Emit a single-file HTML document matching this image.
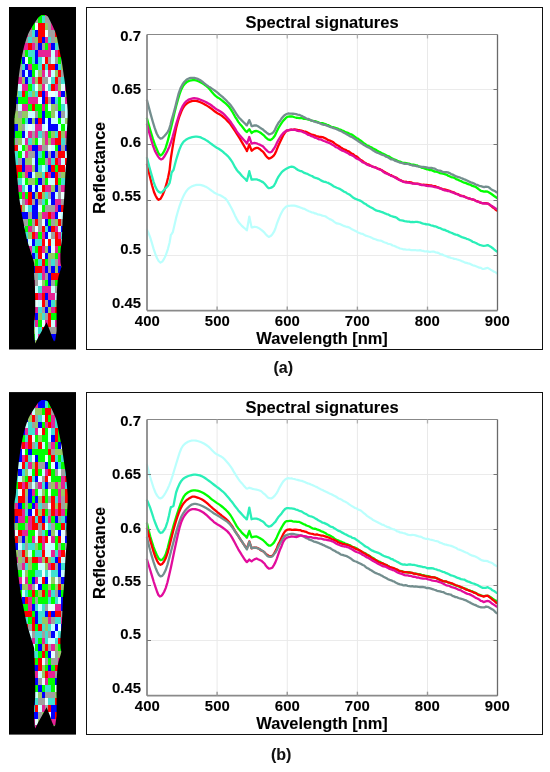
<!DOCTYPE html>
<html><head><meta charset="utf-8"><style>
html,body{margin:0;padding:0;background:#fff;width:550px;height:772px;overflow:hidden}
svg{display:block}
text{font-family:"Liberation Sans",Arial,sans-serif;font-weight:bold;fill:#000;stroke:#000;stroke-width:0.1px}
.tk{font-size:14.9px}
.ax{font-size:16.4px}
.ti{font-size:16.5px}
.lb{font-size:16px;fill:#111}
</style></head><body>
<svg width="550" height="772" viewBox="0 0 550 772">
<rect width="550" height="772" fill="#fff"/>
<rect x="9" y="7.0" width="67" height="342.5" fill="#000"/><clipPath id="fc1"><path d="M41.50 15.00 C41.17 15.25 40.15 15.92 39.50 16.50 C38.85 17.08 38.42 17.42 37.60 18.50 C36.78 19.58 35.73 21.25 34.60 23.00 C33.47 24.75 32.00 26.85 30.80 29.00 C29.60 31.15 28.62 32.58 27.40 35.90 C26.18 39.22 24.57 44.58 23.50 48.90 C22.43 53.22 21.75 57.48 21.00 61.80 C20.25 66.12 19.55 70.48 19.00 74.80 C18.45 79.12 18.13 83.38 17.70 87.70 C17.27 92.02 16.72 97.03 16.40 100.70 C16.08 104.37 16.12 106.82 15.80 109.70 C15.48 112.58 14.72 114.47 14.50 118.00 C14.28 121.53 14.50 126.58 14.50 130.90 C14.50 135.22 14.40 139.58 14.50 143.90 C14.60 148.22 14.78 152.48 15.10 156.80 C15.42 161.12 15.97 165.48 16.40 169.80 C16.83 174.12 17.27 178.38 17.70 182.70 C18.13 187.02 18.57 192.03 19.00 195.70 C19.43 199.37 19.87 201.82 20.30 204.70 C20.73 207.58 20.95 209.47 21.60 213.00 C22.25 216.53 23.33 221.58 24.20 225.90 C25.07 230.22 25.72 234.58 26.80 238.90 C27.88 243.22 29.52 247.92 30.70 251.80 C31.88 255.68 33.32 259.53 33.90 262.20 C34.48 264.87 34.08 264.93 34.20 267.80 C34.32 270.67 34.43 274.22 34.60 279.40 C34.77 284.58 35.10 293.50 35.20 298.90 C35.30 304.30 35.20 309.65 35.20 311.80 L34.20 322.00 L34.00 331.00 L34.60 340.00 L35.20 343.50 L38.40 337.00 L41.70 331.20 L46.60 322.20 L50.10 331.20 L52.00 337.00 L54.00 341.50 L55.30 340.00 L56.60 331.00 L56.60 322.00 L56.60 311.80  C56.60 309.65 56.38 304.30 56.60 298.90 C56.82 293.50 57.15 284.58 57.90 279.40 C58.65 274.22 60.67 270.67 61.10 267.80 C61.53 264.93 60.60 264.87 60.50 262.20 C60.40 259.53 60.28 255.68 60.50 251.80 C60.72 247.92 61.48 243.22 61.80 238.90 C62.12 234.58 62.20 230.22 62.40 225.90 C62.60 221.58 62.78 216.53 63.00 213.00 C63.22 209.47 63.48 207.58 63.70 204.70 C63.92 201.82 64.08 199.37 64.30 195.70 C64.52 192.03 64.78 187.02 65.00 182.70 C65.22 178.38 65.28 174.12 65.60 169.80 C65.92 165.48 66.78 161.12 66.90 156.80 C67.02 152.48 66.30 148.22 66.30 143.90 C66.30 139.58 66.68 135.22 66.90 130.90 C67.12 126.58 67.48 121.53 67.60 118.00 C67.72 114.47 67.72 112.58 67.60 109.70 C67.48 106.82 67.23 104.37 66.90 100.70 C66.57 97.03 66.13 92.02 65.60 87.70 C65.07 83.38 64.33 79.12 63.70 74.80 C63.07 70.48 62.55 66.12 61.80 61.80 C61.05 57.48 60.07 53.22 59.20 48.90 C58.33 44.58 57.47 39.22 56.60 35.90 C55.73 32.58 54.90 31.15 54.00 29.00 C53.10 26.85 52.03 24.75 51.20 23.00 C50.37 21.25 49.57 19.58 49.00 18.50 C48.43 17.42 48.30 17.08 47.80 16.50 C47.30 15.92 46.30 15.25 46.00 15.00 Z"/></clipPath><g clip-path="url(#fc1)" shape-rendering="crispEdges"><rect x="11.80" y="9.55" width="3.35" height="6.80" fill="#40e0d0"/><rect x="15.10" y="9.55" width="3.35" height="6.80" fill="#e62396"/><rect x="18.40" y="9.55" width="3.35" height="6.80" fill="#ff0000"/><rect x="21.70" y="9.55" width="3.35" height="6.80" fill="#c8ffff"/><rect x="25.00" y="9.55" width="3.35" height="6.80" fill="#a0a0a0"/><rect x="28.30" y="9.55" width="3.35" height="6.80" fill="#a0a0a0"/><rect x="31.60" y="9.55" width="3.35" height="6.80" fill="#0000ff"/><rect x="34.90" y="9.55" width="3.35" height="6.80" fill="#e62396"/><rect x="38.20" y="9.55" width="3.35" height="6.80" fill="#00ff00"/><rect x="41.50" y="9.55" width="3.35" height="6.80" fill="#00ff00"/><rect x="44.80" y="9.55" width="3.35" height="6.80" fill="#e62396"/><rect x="48.10" y="9.55" width="3.35" height="6.80" fill="#a0a0a0"/><rect x="51.40" y="9.55" width="3.35" height="6.80" fill="#ff0000"/><rect x="54.70" y="9.55" width="3.35" height="6.80" fill="#00ff00"/><rect x="58.00" y="9.55" width="3.35" height="6.80" fill="#a0a0a0"/><rect x="61.30" y="9.55" width="3.35" height="6.80" fill="#ff0000"/><rect x="64.60" y="9.55" width="3.35" height="6.80" fill="#40e0d0"/><rect x="67.90" y="9.55" width="3.35" height="6.80" fill="#96c864"/><rect x="11.80" y="16.30" width="3.35" height="6.80" fill="#96c864"/><rect x="15.10" y="16.30" width="3.35" height="6.80" fill="#00ff00"/><rect x="18.40" y="16.30" width="3.35" height="6.80" fill="#00ff00"/><rect x="21.70" y="16.30" width="3.35" height="6.80" fill="#0000ff"/><rect x="25.00" y="16.30" width="3.35" height="6.80" fill="#96c864"/><rect x="28.30" y="16.30" width="3.35" height="6.80" fill="#a0a0a0"/><rect x="31.60" y="16.30" width="3.35" height="6.80" fill="#40e0d0"/><rect x="34.90" y="16.30" width="3.35" height="6.80" fill="#a0a0a0"/><rect x="38.20" y="16.30" width="3.35" height="6.80" fill="#00ff00"/><rect x="41.50" y="16.30" width="3.35" height="6.80" fill="#40e0d0"/><rect x="44.80" y="16.30" width="3.35" height="6.80" fill="#a0a0a0"/><rect x="48.10" y="16.30" width="3.35" height="6.80" fill="#a0a0a0"/><rect x="51.40" y="16.30" width="3.35" height="6.80" fill="#40e0d0"/><rect x="54.70" y="16.30" width="3.35" height="6.80" fill="#40e0d0"/><rect x="58.00" y="16.30" width="3.35" height="6.80" fill="#40e0d0"/><rect x="61.30" y="16.30" width="3.35" height="6.80" fill="#a0a0a0"/><rect x="64.60" y="16.30" width="3.35" height="6.80" fill="#c8ffff"/><rect x="67.90" y="16.30" width="3.35" height="6.80" fill="#00ff00"/><rect x="11.80" y="23.05" width="3.35" height="6.80" fill="#e62396"/><rect x="15.10" y="23.05" width="3.35" height="6.80" fill="#0000ff"/><rect x="18.40" y="23.05" width="3.35" height="6.80" fill="#0000ff"/><rect x="21.70" y="23.05" width="3.35" height="6.80" fill="#40e0d0"/><rect x="25.00" y="23.05" width="3.35" height="6.80" fill="#96c864"/><rect x="28.30" y="23.05" width="3.35" height="6.80" fill="#e62396"/><rect x="31.60" y="23.05" width="3.35" height="6.80" fill="#00ff00"/><rect x="34.90" y="23.05" width="3.35" height="6.80" fill="#e8ffff"/><rect x="38.20" y="23.05" width="3.35" height="6.80" fill="#ff0000"/><rect x="41.50" y="23.05" width="3.35" height="6.80" fill="#ff0000"/><rect x="44.80" y="23.05" width="3.35" height="6.80" fill="#96c864"/><rect x="48.10" y="23.05" width="3.35" height="6.80" fill="#a0a0a0"/><rect x="51.40" y="23.05" width="3.35" height="6.80" fill="#e62396"/><rect x="54.70" y="23.05" width="3.35" height="6.80" fill="#ff0000"/><rect x="58.00" y="23.05" width="3.35" height="6.80" fill="#c8ffff"/><rect x="61.30" y="23.05" width="3.35" height="6.80" fill="#0000ff"/><rect x="64.60" y="23.05" width="3.35" height="6.80" fill="#e62396"/><rect x="67.90" y="23.05" width="3.35" height="6.80" fill="#e62396"/><rect x="11.80" y="29.80" width="3.35" height="6.80" fill="#a0a0a0"/><rect x="15.10" y="29.80" width="3.35" height="6.80" fill="#0000ff"/><rect x="18.40" y="29.80" width="3.35" height="6.80" fill="#00ff00"/><rect x="21.70" y="29.80" width="3.35" height="6.80" fill="#c8ffff"/><rect x="25.00" y="29.80" width="3.35" height="6.80" fill="#e62396"/><rect x="28.30" y="29.80" width="3.35" height="6.80" fill="#a0a0a0"/><rect x="31.60" y="29.80" width="3.35" height="6.80" fill="#40e0d0"/><rect x="34.90" y="29.80" width="3.35" height="6.80" fill="#0000ff"/><rect x="38.20" y="29.80" width="3.35" height="6.80" fill="#ff0000"/><rect x="41.50" y="29.80" width="3.35" height="6.80" fill="#ff0000"/><rect x="44.80" y="29.80" width="3.35" height="6.80" fill="#e8ffff"/><rect x="48.10" y="29.80" width="3.35" height="6.80" fill="#a0a0a0"/><rect x="51.40" y="29.80" width="3.35" height="6.80" fill="#a0a0a0"/><rect x="54.70" y="29.80" width="3.35" height="6.80" fill="#ff0000"/><rect x="58.00" y="29.80" width="3.35" height="6.80" fill="#a0a0a0"/><rect x="61.30" y="29.80" width="3.35" height="6.80" fill="#a0a0a0"/><rect x="64.60" y="29.80" width="3.35" height="6.80" fill="#a0a0a0"/><rect x="67.90" y="29.80" width="3.35" height="6.80" fill="#00ff00"/><rect x="11.80" y="36.55" width="3.35" height="6.80" fill="#00ff00"/><rect x="15.10" y="36.55" width="3.35" height="6.80" fill="#ff0000"/><rect x="18.40" y="36.55" width="3.35" height="6.80" fill="#96c864"/><rect x="21.70" y="36.55" width="3.35" height="6.80" fill="#0000ff"/><rect x="25.00" y="36.55" width="3.35" height="6.80" fill="#a0a0a0"/><rect x="28.30" y="36.55" width="3.35" height="6.80" fill="#40e0d0"/><rect x="31.60" y="36.55" width="3.35" height="6.80" fill="#a0a0a0"/><rect x="34.90" y="36.55" width="3.35" height="6.80" fill="#96c864"/><rect x="38.20" y="36.55" width="3.35" height="6.80" fill="#ff0000"/><rect x="41.50" y="36.55" width="3.35" height="6.80" fill="#0000ff"/><rect x="44.80" y="36.55" width="3.35" height="6.80" fill="#e62396"/><rect x="48.10" y="36.55" width="3.35" height="6.80" fill="#40e0d0"/><rect x="51.40" y="36.55" width="3.35" height="6.80" fill="#a0a0a0"/><rect x="54.70" y="36.55" width="3.35" height="6.80" fill="#96c864"/><rect x="58.00" y="36.55" width="3.35" height="6.80" fill="#0000ff"/><rect x="61.30" y="36.55" width="3.35" height="6.80" fill="#a0a0a0"/><rect x="64.60" y="36.55" width="3.35" height="6.80" fill="#c8ffff"/><rect x="67.90" y="36.55" width="3.35" height="6.80" fill="#0000ff"/><rect x="11.80" y="43.30" width="3.35" height="6.80" fill="#96c864"/><rect x="15.10" y="43.30" width="3.35" height="6.80" fill="#00ff00"/><rect x="18.40" y="43.30" width="3.35" height="6.80" fill="#e62396"/><rect x="21.70" y="43.30" width="3.35" height="6.80" fill="#e62396"/><rect x="25.00" y="43.30" width="3.35" height="6.80" fill="#e62396"/><rect x="28.30" y="43.30" width="3.35" height="6.80" fill="#ff0000"/><rect x="31.60" y="43.30" width="3.35" height="6.80" fill="#e62396"/><rect x="34.90" y="43.30" width="3.35" height="6.80" fill="#a0a0a0"/><rect x="38.20" y="43.30" width="3.35" height="6.80" fill="#0000ff"/><rect x="41.50" y="43.30" width="3.35" height="6.80" fill="#a0a0a0"/><rect x="44.80" y="43.30" width="3.35" height="6.80" fill="#00ff00"/><rect x="48.10" y="43.30" width="3.35" height="6.80" fill="#e62396"/><rect x="51.40" y="43.30" width="3.35" height="6.80" fill="#0000ff"/><rect x="54.70" y="43.30" width="3.35" height="6.80" fill="#40e0d0"/><rect x="58.00" y="43.30" width="3.35" height="6.80" fill="#a0a0a0"/><rect x="61.30" y="43.30" width="3.35" height="6.80" fill="#a0a0a0"/><rect x="64.60" y="43.30" width="3.35" height="6.80" fill="#e8ffff"/><rect x="67.90" y="43.30" width="3.35" height="6.80" fill="#e8ffff"/><rect x="11.80" y="50.05" width="3.35" height="6.80" fill="#0000ff"/><rect x="15.10" y="50.05" width="3.35" height="6.80" fill="#0000ff"/><rect x="18.40" y="50.05" width="3.35" height="6.80" fill="#0000ff"/><rect x="21.70" y="50.05" width="3.35" height="6.80" fill="#a0a0a0"/><rect x="25.00" y="50.05" width="3.35" height="6.80" fill="#00ff00"/><rect x="28.30" y="50.05" width="3.35" height="6.80" fill="#40e0d0"/><rect x="31.60" y="50.05" width="3.35" height="6.80" fill="#40e0d0"/><rect x="34.90" y="50.05" width="3.35" height="6.80" fill="#0000ff"/><rect x="38.20" y="50.05" width="3.35" height="6.80" fill="#e62396"/><rect x="41.50" y="50.05" width="3.35" height="6.80" fill="#e62396"/><rect x="44.80" y="50.05" width="3.35" height="6.80" fill="#e62396"/><rect x="48.10" y="50.05" width="3.35" height="6.80" fill="#e62396"/><rect x="51.40" y="50.05" width="3.35" height="6.80" fill="#c8ffff"/><rect x="54.70" y="50.05" width="3.35" height="6.80" fill="#e62396"/><rect x="58.00" y="50.05" width="3.35" height="6.80" fill="#ff0000"/><rect x="61.30" y="50.05" width="3.35" height="6.80" fill="#00ff00"/><rect x="64.60" y="50.05" width="3.35" height="6.80" fill="#00ff00"/><rect x="67.90" y="50.05" width="3.35" height="6.80" fill="#00ff00"/><rect x="11.80" y="56.80" width="3.35" height="6.80" fill="#ff0000"/><rect x="15.10" y="56.80" width="3.35" height="6.80" fill="#c8ffff"/><rect x="18.40" y="56.80" width="3.35" height="6.80" fill="#00ff00"/><rect x="21.70" y="56.80" width="3.35" height="6.80" fill="#0000ff"/><rect x="25.00" y="56.80" width="3.35" height="6.80" fill="#e8ffff"/><rect x="28.30" y="56.80" width="3.35" height="6.80" fill="#00ff00"/><rect x="31.60" y="56.80" width="3.35" height="6.80" fill="#40e0d0"/><rect x="34.90" y="56.80" width="3.35" height="6.80" fill="#0000ff"/><rect x="38.20" y="56.80" width="3.35" height="6.80" fill="#40e0d0"/><rect x="41.50" y="56.80" width="3.35" height="6.80" fill="#c8ffff"/><rect x="44.80" y="56.80" width="3.35" height="6.80" fill="#ff0000"/><rect x="48.10" y="56.80" width="3.35" height="6.80" fill="#a0a0a0"/><rect x="51.40" y="56.80" width="3.35" height="6.80" fill="#c8ffff"/><rect x="54.70" y="56.80" width="3.35" height="6.80" fill="#a0a0a0"/><rect x="58.00" y="56.80" width="3.35" height="6.80" fill="#00ff00"/><rect x="61.30" y="56.80" width="3.35" height="6.80" fill="#a0a0a0"/><rect x="64.60" y="56.80" width="3.35" height="6.80" fill="#a0a0a0"/><rect x="67.90" y="56.80" width="3.35" height="6.80" fill="#40e0d0"/><rect x="11.80" y="63.55" width="3.35" height="6.80" fill="#00ff00"/><rect x="15.10" y="63.55" width="3.35" height="6.80" fill="#e62396"/><rect x="18.40" y="63.55" width="3.35" height="6.80" fill="#a0a0a0"/><rect x="21.70" y="63.55" width="3.35" height="6.80" fill="#40e0d0"/><rect x="25.00" y="63.55" width="3.35" height="6.80" fill="#0000ff"/><rect x="28.30" y="63.55" width="3.35" height="6.80" fill="#e62396"/><rect x="31.60" y="63.55" width="3.35" height="6.80" fill="#00ff00"/><rect x="34.90" y="63.55" width="3.35" height="6.80" fill="#00ff00"/><rect x="38.20" y="63.55" width="3.35" height="6.80" fill="#40e0d0"/><rect x="41.50" y="63.55" width="3.35" height="6.80" fill="#ff0000"/><rect x="44.80" y="63.55" width="3.35" height="6.80" fill="#40e0d0"/><rect x="48.10" y="63.55" width="3.35" height="6.80" fill="#ff0000"/><rect x="51.40" y="63.55" width="3.35" height="6.80" fill="#ff0000"/><rect x="54.70" y="63.55" width="3.35" height="6.80" fill="#0000ff"/><rect x="58.00" y="63.55" width="3.35" height="6.80" fill="#40e0d0"/><rect x="61.30" y="63.55" width="3.35" height="6.80" fill="#96c864"/><rect x="64.60" y="63.55" width="3.35" height="6.80" fill="#e62396"/><rect x="67.90" y="63.55" width="3.35" height="6.80" fill="#a0a0a0"/><rect x="11.80" y="70.30" width="3.35" height="6.80" fill="#40e0d0"/><rect x="15.10" y="70.30" width="3.35" height="6.80" fill="#0000ff"/><rect x="18.40" y="70.30" width="3.35" height="6.80" fill="#a0a0a0"/><rect x="21.70" y="70.30" width="3.35" height="6.80" fill="#0000ff"/><rect x="25.00" y="70.30" width="3.35" height="6.80" fill="#c8ffff"/><rect x="28.30" y="70.30" width="3.35" height="6.80" fill="#0000ff"/><rect x="31.60" y="70.30" width="3.35" height="6.80" fill="#00ff00"/><rect x="34.90" y="70.30" width="3.35" height="6.80" fill="#c8ffff"/><rect x="38.20" y="70.30" width="3.35" height="6.80" fill="#96c864"/><rect x="41.50" y="70.30" width="3.35" height="6.80" fill="#e62396"/><rect x="44.80" y="70.30" width="3.35" height="6.80" fill="#c8ffff"/><rect x="48.10" y="70.30" width="3.35" height="6.80" fill="#e62396"/><rect x="51.40" y="70.30" width="3.35" height="6.80" fill="#c8ffff"/><rect x="54.70" y="70.30" width="3.35" height="6.80" fill="#96c864"/><rect x="58.00" y="70.30" width="3.35" height="6.80" fill="#ff0000"/><rect x="61.30" y="70.30" width="3.35" height="6.80" fill="#a0a0a0"/><rect x="64.60" y="70.30" width="3.35" height="6.80" fill="#c8ffff"/><rect x="67.90" y="70.30" width="3.35" height="6.80" fill="#00ff00"/><rect x="11.80" y="77.05" width="3.35" height="6.80" fill="#e62396"/><rect x="15.10" y="77.05" width="3.35" height="6.80" fill="#00ff00"/><rect x="18.40" y="77.05" width="3.35" height="6.80" fill="#e62396"/><rect x="21.70" y="77.05" width="3.35" height="6.80" fill="#96c864"/><rect x="25.00" y="77.05" width="3.35" height="6.80" fill="#0000ff"/><rect x="28.30" y="77.05" width="3.35" height="6.80" fill="#40e0d0"/><rect x="31.60" y="77.05" width="3.35" height="6.80" fill="#e62396"/><rect x="34.90" y="77.05" width="3.35" height="6.80" fill="#96c864"/><rect x="38.20" y="77.05" width="3.35" height="6.80" fill="#ff0000"/><rect x="41.50" y="77.05" width="3.35" height="6.80" fill="#a0a0a0"/><rect x="44.80" y="77.05" width="3.35" height="6.80" fill="#a0a0a0"/><rect x="48.10" y="77.05" width="3.35" height="6.80" fill="#e8ffff"/><rect x="51.40" y="77.05" width="3.35" height="6.80" fill="#40e0d0"/><rect x="54.70" y="77.05" width="3.35" height="6.80" fill="#ff0000"/><rect x="58.00" y="77.05" width="3.35" height="6.80" fill="#a0a0a0"/><rect x="61.30" y="77.05" width="3.35" height="6.80" fill="#40e0d0"/><rect x="64.60" y="77.05" width="3.35" height="6.80" fill="#00ff00"/><rect x="67.90" y="77.05" width="3.35" height="6.80" fill="#ff0000"/><rect x="11.80" y="83.80" width="3.35" height="6.80" fill="#c8ffff"/><rect x="15.10" y="83.80" width="3.35" height="6.80" fill="#a0a0a0"/><rect x="18.40" y="83.80" width="3.35" height="6.80" fill="#c8ffff"/><rect x="21.70" y="83.80" width="3.35" height="6.80" fill="#e62396"/><rect x="25.00" y="83.80" width="3.35" height="6.80" fill="#e62396"/><rect x="28.30" y="83.80" width="3.35" height="6.80" fill="#00ff00"/><rect x="31.60" y="83.80" width="3.35" height="6.80" fill="#40e0d0"/><rect x="34.90" y="83.80" width="3.35" height="6.80" fill="#e8ffff"/><rect x="38.20" y="83.80" width="3.35" height="6.80" fill="#96c864"/><rect x="41.50" y="83.80" width="3.35" height="6.80" fill="#e62396"/><rect x="44.80" y="83.80" width="3.35" height="6.80" fill="#e8ffff"/><rect x="48.10" y="83.80" width="3.35" height="6.80" fill="#40e0d0"/><rect x="51.40" y="83.80" width="3.35" height="6.80" fill="#ff0000"/><rect x="54.70" y="83.80" width="3.35" height="6.80" fill="#e62396"/><rect x="58.00" y="83.80" width="3.35" height="6.80" fill="#96c864"/><rect x="61.30" y="83.80" width="3.35" height="6.80" fill="#e8ffff"/><rect x="64.60" y="83.80" width="3.35" height="6.80" fill="#e62396"/><rect x="67.90" y="83.80" width="3.35" height="6.80" fill="#ff0000"/><rect x="11.80" y="90.55" width="3.35" height="6.80" fill="#a0a0a0"/><rect x="15.10" y="90.55" width="3.35" height="6.80" fill="#96c864"/><rect x="18.40" y="90.55" width="3.35" height="6.80" fill="#40e0d0"/><rect x="21.70" y="90.55" width="3.35" height="6.80" fill="#ff0000"/><rect x="25.00" y="90.55" width="3.35" height="6.80" fill="#00ff00"/><rect x="28.30" y="90.55" width="3.35" height="6.80" fill="#40e0d0"/><rect x="31.60" y="90.55" width="3.35" height="6.80" fill="#96c864"/><rect x="34.90" y="90.55" width="3.35" height="6.80" fill="#40e0d0"/><rect x="38.20" y="90.55" width="3.35" height="6.80" fill="#ff0000"/><rect x="41.50" y="90.55" width="3.35" height="6.80" fill="#0000ff"/><rect x="44.80" y="90.55" width="3.35" height="6.80" fill="#e62396"/><rect x="48.10" y="90.55" width="3.35" height="6.80" fill="#e8ffff"/><rect x="51.40" y="90.55" width="3.35" height="6.80" fill="#e8ffff"/><rect x="54.70" y="90.55" width="3.35" height="6.80" fill="#c8ffff"/><rect x="58.00" y="90.55" width="3.35" height="6.80" fill="#e62396"/><rect x="61.30" y="90.55" width="3.35" height="6.80" fill="#0000ff"/><rect x="64.60" y="90.55" width="3.35" height="6.80" fill="#96c864"/><rect x="67.90" y="90.55" width="3.35" height="6.80" fill="#e62396"/><rect x="11.80" y="97.30" width="3.35" height="6.80" fill="#40e0d0"/><rect x="15.10" y="97.30" width="3.35" height="6.80" fill="#0000ff"/><rect x="18.40" y="97.30" width="3.35" height="6.80" fill="#00ff00"/><rect x="21.70" y="97.30" width="3.35" height="6.80" fill="#00ff00"/><rect x="25.00" y="97.30" width="3.35" height="6.80" fill="#00ff00"/><rect x="28.30" y="97.30" width="3.35" height="6.80" fill="#e62396"/><rect x="31.60" y="97.30" width="3.35" height="6.80" fill="#e62396"/><rect x="34.90" y="97.30" width="3.35" height="6.80" fill="#e62396"/><rect x="38.20" y="97.30" width="3.35" height="6.80" fill="#e8ffff"/><rect x="41.50" y="97.30" width="3.35" height="6.80" fill="#0000ff"/><rect x="44.80" y="97.30" width="3.35" height="6.80" fill="#ff0000"/><rect x="48.10" y="97.30" width="3.35" height="6.80" fill="#a0a0a0"/><rect x="51.40" y="97.30" width="3.35" height="6.80" fill="#0000ff"/><rect x="54.70" y="97.30" width="3.35" height="6.80" fill="#40e0d0"/><rect x="58.00" y="97.30" width="3.35" height="6.80" fill="#00ff00"/><rect x="61.30" y="97.30" width="3.35" height="6.80" fill="#c8ffff"/><rect x="64.60" y="97.30" width="3.35" height="6.80" fill="#e62396"/><rect x="67.90" y="97.30" width="3.35" height="6.80" fill="#0000ff"/><rect x="11.80" y="104.05" width="3.35" height="6.80" fill="#96c864"/><rect x="15.10" y="104.05" width="3.35" height="6.80" fill="#a0a0a0"/><rect x="18.40" y="104.05" width="3.35" height="6.80" fill="#c8ffff"/><rect x="21.70" y="104.05" width="3.35" height="6.80" fill="#e62396"/><rect x="25.00" y="104.05" width="3.35" height="6.80" fill="#e62396"/><rect x="28.30" y="104.05" width="3.35" height="6.80" fill="#00ff00"/><rect x="31.60" y="104.05" width="3.35" height="6.80" fill="#ff0000"/><rect x="34.90" y="104.05" width="3.35" height="6.80" fill="#00ff00"/><rect x="38.20" y="104.05" width="3.35" height="6.80" fill="#00ff00"/><rect x="41.50" y="104.05" width="3.35" height="6.80" fill="#e62396"/><rect x="44.80" y="104.05" width="3.35" height="6.80" fill="#00ff00"/><rect x="48.10" y="104.05" width="3.35" height="6.80" fill="#c8ffff"/><rect x="51.40" y="104.05" width="3.35" height="6.80" fill="#96c864"/><rect x="54.70" y="104.05" width="3.35" height="6.80" fill="#a0a0a0"/><rect x="58.00" y="104.05" width="3.35" height="6.80" fill="#00ff00"/><rect x="61.30" y="104.05" width="3.35" height="6.80" fill="#40e0d0"/><rect x="64.60" y="104.05" width="3.35" height="6.80" fill="#c8ffff"/><rect x="67.90" y="104.05" width="3.35" height="6.80" fill="#ff0000"/><rect x="11.80" y="110.80" width="3.35" height="6.80" fill="#00ff00"/><rect x="15.10" y="110.80" width="3.35" height="6.80" fill="#96c864"/><rect x="18.40" y="110.80" width="3.35" height="6.80" fill="#a0a0a0"/><rect x="21.70" y="110.80" width="3.35" height="6.80" fill="#96c864"/><rect x="25.00" y="110.80" width="3.35" height="6.80" fill="#96c864"/><rect x="28.30" y="110.80" width="3.35" height="6.80" fill="#c8ffff"/><rect x="31.60" y="110.80" width="3.35" height="6.80" fill="#c8ffff"/><rect x="34.90" y="110.80" width="3.35" height="6.80" fill="#a0a0a0"/><rect x="38.20" y="110.80" width="3.35" height="6.80" fill="#00ff00"/><rect x="41.50" y="110.80" width="3.35" height="6.80" fill="#0000ff"/><rect x="44.80" y="110.80" width="3.35" height="6.80" fill="#00ff00"/><rect x="48.10" y="110.80" width="3.35" height="6.80" fill="#00ff00"/><rect x="51.40" y="110.80" width="3.35" height="6.80" fill="#96c864"/><rect x="54.70" y="110.80" width="3.35" height="6.80" fill="#c8ffff"/><rect x="58.00" y="110.80" width="3.35" height="6.80" fill="#0000ff"/><rect x="61.30" y="110.80" width="3.35" height="6.80" fill="#a0a0a0"/><rect x="64.60" y="110.80" width="3.35" height="6.80" fill="#c8ffff"/><rect x="67.90" y="110.80" width="3.35" height="6.80" fill="#00ff00"/><rect x="11.80" y="117.55" width="3.35" height="6.80" fill="#96c864"/><rect x="15.10" y="117.55" width="3.35" height="6.80" fill="#96c864"/><rect x="18.40" y="117.55" width="3.35" height="6.80" fill="#96c864"/><rect x="21.70" y="117.55" width="3.35" height="6.80" fill="#00ff00"/><rect x="25.00" y="117.55" width="3.35" height="6.80" fill="#40e0d0"/><rect x="28.30" y="117.55" width="3.35" height="6.80" fill="#0000ff"/><rect x="31.60" y="117.55" width="3.35" height="6.80" fill="#96c864"/><rect x="34.90" y="117.55" width="3.35" height="6.80" fill="#0000ff"/><rect x="38.20" y="117.55" width="3.35" height="6.80" fill="#ff0000"/><rect x="41.50" y="117.55" width="3.35" height="6.80" fill="#0000ff"/><rect x="44.80" y="117.55" width="3.35" height="6.80" fill="#c8ffff"/><rect x="48.10" y="117.55" width="3.35" height="6.80" fill="#0000ff"/><rect x="51.40" y="117.55" width="3.35" height="6.80" fill="#c8ffff"/><rect x="54.70" y="117.55" width="3.35" height="6.80" fill="#c8ffff"/><rect x="58.00" y="117.55" width="3.35" height="6.80" fill="#00ff00"/><rect x="61.30" y="117.55" width="3.35" height="6.80" fill="#c8ffff"/><rect x="64.60" y="117.55" width="3.35" height="6.80" fill="#96c864"/><rect x="67.90" y="117.55" width="3.35" height="6.80" fill="#a0a0a0"/><rect x="11.80" y="124.30" width="3.35" height="6.80" fill="#0000ff"/><rect x="15.10" y="124.30" width="3.35" height="6.80" fill="#0000ff"/><rect x="18.40" y="124.30" width="3.35" height="6.80" fill="#96c864"/><rect x="21.70" y="124.30" width="3.35" height="6.80" fill="#a0a0a0"/><rect x="25.00" y="124.30" width="3.35" height="6.80" fill="#c8ffff"/><rect x="28.30" y="124.30" width="3.35" height="6.80" fill="#e8ffff"/><rect x="31.60" y="124.30" width="3.35" height="6.80" fill="#c8ffff"/><rect x="34.90" y="124.30" width="3.35" height="6.80" fill="#e62396"/><rect x="38.20" y="124.30" width="3.35" height="6.80" fill="#e62396"/><rect x="41.50" y="124.30" width="3.35" height="6.80" fill="#c8ffff"/><rect x="44.80" y="124.30" width="3.35" height="6.80" fill="#e8ffff"/><rect x="48.10" y="124.30" width="3.35" height="6.80" fill="#0000ff"/><rect x="51.40" y="124.30" width="3.35" height="6.80" fill="#0000ff"/><rect x="54.70" y="124.30" width="3.35" height="6.80" fill="#0000ff"/><rect x="58.00" y="124.30" width="3.35" height="6.80" fill="#c8ffff"/><rect x="61.30" y="124.30" width="3.35" height="6.80" fill="#00ff00"/><rect x="64.60" y="124.30" width="3.35" height="6.80" fill="#c8ffff"/><rect x="67.90" y="124.30" width="3.35" height="6.80" fill="#00ff00"/><rect x="11.80" y="131.05" width="3.35" height="6.80" fill="#0000ff"/><rect x="15.10" y="131.05" width="3.35" height="6.80" fill="#00ff00"/><rect x="18.40" y="131.05" width="3.35" height="6.80" fill="#00ff00"/><rect x="21.70" y="131.05" width="3.35" height="6.80" fill="#0000ff"/><rect x="25.00" y="131.05" width="3.35" height="6.80" fill="#c8ffff"/><rect x="28.30" y="131.05" width="3.35" height="6.80" fill="#e62396"/><rect x="31.60" y="131.05" width="3.35" height="6.80" fill="#a0a0a0"/><rect x="34.90" y="131.05" width="3.35" height="6.80" fill="#e62396"/><rect x="38.20" y="131.05" width="3.35" height="6.80" fill="#40e0d0"/><rect x="41.50" y="131.05" width="3.35" height="6.80" fill="#a0a0a0"/><rect x="44.80" y="131.05" width="3.35" height="6.80" fill="#e62396"/><rect x="48.10" y="131.05" width="3.35" height="6.80" fill="#00ff00"/><rect x="51.40" y="131.05" width="3.35" height="6.80" fill="#96c864"/><rect x="54.70" y="131.05" width="3.35" height="6.80" fill="#40e0d0"/><rect x="58.00" y="131.05" width="3.35" height="6.80" fill="#ff0000"/><rect x="61.30" y="131.05" width="3.35" height="6.80" fill="#96c864"/><rect x="64.60" y="131.05" width="3.35" height="6.80" fill="#e62396"/><rect x="67.90" y="131.05" width="3.35" height="6.80" fill="#c8ffff"/><rect x="11.80" y="137.80" width="3.35" height="6.80" fill="#00ff00"/><rect x="15.10" y="137.80" width="3.35" height="6.80" fill="#a0a0a0"/><rect x="18.40" y="137.80" width="3.35" height="6.80" fill="#96c864"/><rect x="21.70" y="137.80" width="3.35" height="6.80" fill="#c8ffff"/><rect x="25.00" y="137.80" width="3.35" height="6.80" fill="#e62396"/><rect x="28.30" y="137.80" width="3.35" height="6.80" fill="#40e0d0"/><rect x="31.60" y="137.80" width="3.35" height="6.80" fill="#96c864"/><rect x="34.90" y="137.80" width="3.35" height="6.80" fill="#00ff00"/><rect x="38.20" y="137.80" width="3.35" height="6.80" fill="#c8ffff"/><rect x="41.50" y="137.80" width="3.35" height="6.80" fill="#96c864"/><rect x="44.80" y="137.80" width="3.35" height="6.80" fill="#e62396"/><rect x="48.10" y="137.80" width="3.35" height="6.80" fill="#96c864"/><rect x="51.40" y="137.80" width="3.35" height="6.80" fill="#e62396"/><rect x="54.70" y="137.80" width="3.35" height="6.80" fill="#ff0000"/><rect x="58.00" y="137.80" width="3.35" height="6.80" fill="#ff0000"/><rect x="61.30" y="137.80" width="3.35" height="6.80" fill="#40e0d0"/><rect x="64.60" y="137.80" width="3.35" height="6.80" fill="#a0a0a0"/><rect x="67.90" y="137.80" width="3.35" height="6.80" fill="#40e0d0"/><rect x="11.80" y="144.55" width="3.35" height="6.80" fill="#ff0000"/><rect x="15.10" y="144.55" width="3.35" height="6.80" fill="#ff0000"/><rect x="18.40" y="144.55" width="3.35" height="6.80" fill="#c8ffff"/><rect x="21.70" y="144.55" width="3.35" height="6.80" fill="#00ff00"/><rect x="25.00" y="144.55" width="3.35" height="6.80" fill="#96c864"/><rect x="28.30" y="144.55" width="3.35" height="6.80" fill="#e62396"/><rect x="31.60" y="144.55" width="3.35" height="6.80" fill="#0000ff"/><rect x="34.90" y="144.55" width="3.35" height="6.80" fill="#0000ff"/><rect x="38.20" y="144.55" width="3.35" height="6.80" fill="#e62396"/><rect x="41.50" y="144.55" width="3.35" height="6.80" fill="#a0a0a0"/><rect x="44.80" y="144.55" width="3.35" height="6.80" fill="#a0a0a0"/><rect x="48.10" y="144.55" width="3.35" height="6.80" fill="#e8ffff"/><rect x="51.40" y="144.55" width="3.35" height="6.80" fill="#c8ffff"/><rect x="54.70" y="144.55" width="3.35" height="6.80" fill="#00ff00"/><rect x="58.00" y="144.55" width="3.35" height="6.80" fill="#0000ff"/><rect x="61.30" y="144.55" width="3.35" height="6.80" fill="#a0a0a0"/><rect x="64.60" y="144.55" width="3.35" height="6.80" fill="#0000ff"/><rect x="67.90" y="144.55" width="3.35" height="6.80" fill="#00ff00"/><rect x="11.80" y="151.30" width="3.35" height="6.80" fill="#e8ffff"/><rect x="15.10" y="151.30" width="3.35" height="6.80" fill="#40e0d0"/><rect x="18.40" y="151.30" width="3.35" height="6.80" fill="#00ff00"/><rect x="21.70" y="151.30" width="3.35" height="6.80" fill="#c8ffff"/><rect x="25.00" y="151.30" width="3.35" height="6.80" fill="#e62396"/><rect x="28.30" y="151.30" width="3.35" height="6.80" fill="#a0a0a0"/><rect x="31.60" y="151.30" width="3.35" height="6.80" fill="#a0a0a0"/><rect x="34.90" y="151.30" width="3.35" height="6.80" fill="#0000ff"/><rect x="38.20" y="151.30" width="3.35" height="6.80" fill="#40e0d0"/><rect x="41.50" y="151.30" width="3.35" height="6.80" fill="#00ff00"/><rect x="44.80" y="151.30" width="3.35" height="6.80" fill="#0000ff"/><rect x="48.10" y="151.30" width="3.35" height="6.80" fill="#a0a0a0"/><rect x="51.40" y="151.30" width="3.35" height="6.80" fill="#0000ff"/><rect x="54.70" y="151.30" width="3.35" height="6.80" fill="#a0a0a0"/><rect x="58.00" y="151.30" width="3.35" height="6.80" fill="#ff0000"/><rect x="61.30" y="151.30" width="3.35" height="6.80" fill="#ff0000"/><rect x="64.60" y="151.30" width="3.35" height="6.80" fill="#c8ffff"/><rect x="67.90" y="151.30" width="3.35" height="6.80" fill="#a0a0a0"/><rect x="11.80" y="158.05" width="3.35" height="6.80" fill="#a0a0a0"/><rect x="15.10" y="158.05" width="3.35" height="6.80" fill="#40e0d0"/><rect x="18.40" y="158.05" width="3.35" height="6.80" fill="#a0a0a0"/><rect x="21.70" y="158.05" width="3.35" height="6.80" fill="#0000ff"/><rect x="25.00" y="158.05" width="3.35" height="6.80" fill="#96c864"/><rect x="28.30" y="158.05" width="3.35" height="6.80" fill="#96c864"/><rect x="31.60" y="158.05" width="3.35" height="6.80" fill="#c8ffff"/><rect x="34.90" y="158.05" width="3.35" height="6.80" fill="#0000ff"/><rect x="38.20" y="158.05" width="3.35" height="6.80" fill="#00ff00"/><rect x="41.50" y="158.05" width="3.35" height="6.80" fill="#00ff00"/><rect x="44.80" y="158.05" width="3.35" height="6.80" fill="#a0a0a0"/><rect x="48.10" y="158.05" width="3.35" height="6.80" fill="#e62396"/><rect x="51.40" y="158.05" width="3.35" height="6.80" fill="#40e0d0"/><rect x="54.70" y="158.05" width="3.35" height="6.80" fill="#ff0000"/><rect x="58.00" y="158.05" width="3.35" height="6.80" fill="#e62396"/><rect x="61.30" y="158.05" width="3.35" height="6.80" fill="#c8ffff"/><rect x="64.60" y="158.05" width="3.35" height="6.80" fill="#ff0000"/><rect x="67.90" y="158.05" width="3.35" height="6.80" fill="#e62396"/><rect x="11.80" y="164.80" width="3.35" height="6.80" fill="#e8ffff"/><rect x="15.10" y="164.80" width="3.35" height="6.80" fill="#ff0000"/><rect x="18.40" y="164.80" width="3.35" height="6.80" fill="#ff0000"/><rect x="21.70" y="164.80" width="3.35" height="6.80" fill="#0000ff"/><rect x="25.00" y="164.80" width="3.35" height="6.80" fill="#e62396"/><rect x="28.30" y="164.80" width="3.35" height="6.80" fill="#e62396"/><rect x="31.60" y="164.80" width="3.35" height="6.80" fill="#96c864"/><rect x="34.90" y="164.80" width="3.35" height="6.80" fill="#0000ff"/><rect x="38.20" y="164.80" width="3.35" height="6.80" fill="#40e0d0"/><rect x="41.50" y="164.80" width="3.35" height="6.80" fill="#c8ffff"/><rect x="44.80" y="164.80" width="3.35" height="6.80" fill="#40e0d0"/><rect x="48.10" y="164.80" width="3.35" height="6.80" fill="#0000ff"/><rect x="51.40" y="164.80" width="3.35" height="6.80" fill="#ff0000"/><rect x="54.70" y="164.80" width="3.35" height="6.80" fill="#00ff00"/><rect x="58.00" y="164.80" width="3.35" height="6.80" fill="#ff0000"/><rect x="61.30" y="164.80" width="3.35" height="6.80" fill="#ff0000"/><rect x="64.60" y="164.80" width="3.35" height="6.80" fill="#e8ffff"/><rect x="67.90" y="164.80" width="3.35" height="6.80" fill="#a0a0a0"/><rect x="11.80" y="171.55" width="3.35" height="6.80" fill="#40e0d0"/><rect x="15.10" y="171.55" width="3.35" height="6.80" fill="#ff0000"/><rect x="18.40" y="171.55" width="3.35" height="6.80" fill="#00ff00"/><rect x="21.70" y="171.55" width="3.35" height="6.80" fill="#96c864"/><rect x="25.00" y="171.55" width="3.35" height="6.80" fill="#e62396"/><rect x="28.30" y="171.55" width="3.35" height="6.80" fill="#0000ff"/><rect x="31.60" y="171.55" width="3.35" height="6.80" fill="#c8ffff"/><rect x="34.90" y="171.55" width="3.35" height="6.80" fill="#96c864"/><rect x="38.20" y="171.55" width="3.35" height="6.80" fill="#96c864"/><rect x="41.50" y="171.55" width="3.35" height="6.80" fill="#40e0d0"/><rect x="44.80" y="171.55" width="3.35" height="6.80" fill="#ff0000"/><rect x="48.10" y="171.55" width="3.35" height="6.80" fill="#e62396"/><rect x="51.40" y="171.55" width="3.35" height="6.80" fill="#0000ff"/><rect x="54.70" y="171.55" width="3.35" height="6.80" fill="#ff0000"/><rect x="58.00" y="171.55" width="3.35" height="6.80" fill="#a0a0a0"/><rect x="61.30" y="171.55" width="3.35" height="6.80" fill="#96c864"/><rect x="64.60" y="171.55" width="3.35" height="6.80" fill="#96c864"/><rect x="67.90" y="171.55" width="3.35" height="6.80" fill="#a0a0a0"/><rect x="11.80" y="178.30" width="3.35" height="6.80" fill="#e62396"/><rect x="15.10" y="178.30" width="3.35" height="6.80" fill="#a0a0a0"/><rect x="18.40" y="178.30" width="3.35" height="6.80" fill="#40e0d0"/><rect x="21.70" y="178.30" width="3.35" height="6.80" fill="#c8ffff"/><rect x="25.00" y="178.30" width="3.35" height="6.80" fill="#00ff00"/><rect x="28.30" y="178.30" width="3.35" height="6.80" fill="#96c864"/><rect x="31.60" y="178.30" width="3.35" height="6.80" fill="#96c864"/><rect x="34.90" y="178.30" width="3.35" height="6.80" fill="#00ff00"/><rect x="38.20" y="178.30" width="3.35" height="6.80" fill="#0000ff"/><rect x="41.50" y="178.30" width="3.35" height="6.80" fill="#a0a0a0"/><rect x="44.80" y="178.30" width="3.35" height="6.80" fill="#00ff00"/><rect x="48.10" y="178.30" width="3.35" height="6.80" fill="#c8ffff"/><rect x="51.40" y="178.30" width="3.35" height="6.80" fill="#c8ffff"/><rect x="54.70" y="178.30" width="3.35" height="6.80" fill="#ff0000"/><rect x="58.00" y="178.30" width="3.35" height="6.80" fill="#00ff00"/><rect x="61.30" y="178.30" width="3.35" height="6.80" fill="#40e0d0"/><rect x="64.60" y="178.30" width="3.35" height="6.80" fill="#a0a0a0"/><rect x="67.90" y="178.30" width="3.35" height="6.80" fill="#00ff00"/><rect x="11.80" y="185.05" width="3.35" height="6.80" fill="#0000ff"/><rect x="15.10" y="185.05" width="3.35" height="6.80" fill="#0000ff"/><rect x="18.40" y="185.05" width="3.35" height="6.80" fill="#e62396"/><rect x="21.70" y="185.05" width="3.35" height="6.80" fill="#40e0d0"/><rect x="25.00" y="185.05" width="3.35" height="6.80" fill="#c8ffff"/><rect x="28.30" y="185.05" width="3.35" height="6.80" fill="#0000ff"/><rect x="31.60" y="185.05" width="3.35" height="6.80" fill="#c8ffff"/><rect x="34.90" y="185.05" width="3.35" height="6.80" fill="#0000ff"/><rect x="38.20" y="185.05" width="3.35" height="6.80" fill="#c8ffff"/><rect x="41.50" y="185.05" width="3.35" height="6.80" fill="#ff0000"/><rect x="44.80" y="185.05" width="3.35" height="6.80" fill="#e62396"/><rect x="48.10" y="185.05" width="3.35" height="6.80" fill="#e62396"/><rect x="51.40" y="185.05" width="3.35" height="6.80" fill="#96c864"/><rect x="54.70" y="185.05" width="3.35" height="6.80" fill="#0000ff"/><rect x="58.00" y="185.05" width="3.35" height="6.80" fill="#a0a0a0"/><rect x="61.30" y="185.05" width="3.35" height="6.80" fill="#e62396"/><rect x="64.60" y="185.05" width="3.35" height="6.80" fill="#ff0000"/><rect x="67.90" y="185.05" width="3.35" height="6.80" fill="#0000ff"/><rect x="11.80" y="191.80" width="3.35" height="6.80" fill="#a0a0a0"/><rect x="15.10" y="191.80" width="3.35" height="6.80" fill="#c8ffff"/><rect x="18.40" y="191.80" width="3.35" height="6.80" fill="#00ff00"/><rect x="21.70" y="191.80" width="3.35" height="6.80" fill="#e62396"/><rect x="25.00" y="191.80" width="3.35" height="6.80" fill="#00ff00"/><rect x="28.30" y="191.80" width="3.35" height="6.80" fill="#ff0000"/><rect x="31.60" y="191.80" width="3.35" height="6.80" fill="#0000ff"/><rect x="34.90" y="191.80" width="3.35" height="6.80" fill="#96c864"/><rect x="38.20" y="191.80" width="3.35" height="6.80" fill="#ff0000"/><rect x="41.50" y="191.80" width="3.35" height="6.80" fill="#96c864"/><rect x="44.80" y="191.80" width="3.35" height="6.80" fill="#40e0d0"/><rect x="48.10" y="191.80" width="3.35" height="6.80" fill="#a0a0a0"/><rect x="51.40" y="191.80" width="3.35" height="6.80" fill="#0000ff"/><rect x="54.70" y="191.80" width="3.35" height="6.80" fill="#c8ffff"/><rect x="58.00" y="191.80" width="3.35" height="6.80" fill="#a0a0a0"/><rect x="61.30" y="191.80" width="3.35" height="6.80" fill="#e8ffff"/><rect x="64.60" y="191.80" width="3.35" height="6.80" fill="#0000ff"/><rect x="67.90" y="191.80" width="3.35" height="6.80" fill="#00ff00"/><rect x="11.80" y="198.55" width="3.35" height="6.80" fill="#a0a0a0"/><rect x="15.10" y="198.55" width="3.35" height="6.80" fill="#a0a0a0"/><rect x="18.40" y="198.55" width="3.35" height="6.80" fill="#c8ffff"/><rect x="21.70" y="198.55" width="3.35" height="6.80" fill="#a0a0a0"/><rect x="25.00" y="198.55" width="3.35" height="6.80" fill="#e62396"/><rect x="28.30" y="198.55" width="3.35" height="6.80" fill="#ff0000"/><rect x="31.60" y="198.55" width="3.35" height="6.80" fill="#a0a0a0"/><rect x="34.90" y="198.55" width="3.35" height="6.80" fill="#0000ff"/><rect x="38.20" y="198.55" width="3.35" height="6.80" fill="#a0a0a0"/><rect x="41.50" y="198.55" width="3.35" height="6.80" fill="#40e0d0"/><rect x="44.80" y="198.55" width="3.35" height="6.80" fill="#00ff00"/><rect x="48.10" y="198.55" width="3.35" height="6.80" fill="#c8ffff"/><rect x="51.40" y="198.55" width="3.35" height="6.80" fill="#0000ff"/><rect x="54.70" y="198.55" width="3.35" height="6.80" fill="#e62396"/><rect x="58.00" y="198.55" width="3.35" height="6.80" fill="#e62396"/><rect x="61.30" y="198.55" width="3.35" height="6.80" fill="#a0a0a0"/><rect x="64.60" y="198.55" width="3.35" height="6.80" fill="#96c864"/><rect x="67.90" y="198.55" width="3.35" height="6.80" fill="#a0a0a0"/><rect x="11.80" y="205.30" width="3.35" height="6.80" fill="#e62396"/><rect x="15.10" y="205.30" width="3.35" height="6.80" fill="#a0a0a0"/><rect x="18.40" y="205.30" width="3.35" height="6.80" fill="#ff0000"/><rect x="21.70" y="205.30" width="3.35" height="6.80" fill="#96c864"/><rect x="25.00" y="205.30" width="3.35" height="6.80" fill="#c8ffff"/><rect x="28.30" y="205.30" width="3.35" height="6.80" fill="#40e0d0"/><rect x="31.60" y="205.30" width="3.35" height="6.80" fill="#0000ff"/><rect x="34.90" y="205.30" width="3.35" height="6.80" fill="#0000ff"/><rect x="38.20" y="205.30" width="3.35" height="6.80" fill="#e8ffff"/><rect x="41.50" y="205.30" width="3.35" height="6.80" fill="#00ff00"/><rect x="44.80" y="205.30" width="3.35" height="6.80" fill="#a0a0a0"/><rect x="48.10" y="205.30" width="3.35" height="6.80" fill="#a0a0a0"/><rect x="51.40" y="205.30" width="3.35" height="6.80" fill="#a0a0a0"/><rect x="54.70" y="205.30" width="3.35" height="6.80" fill="#e62396"/><rect x="58.00" y="205.30" width="3.35" height="6.80" fill="#0000ff"/><rect x="61.30" y="205.30" width="3.35" height="6.80" fill="#ff0000"/><rect x="64.60" y="205.30" width="3.35" height="6.80" fill="#e62396"/><rect x="67.90" y="205.30" width="3.35" height="6.80" fill="#ff0000"/><rect x="11.80" y="212.05" width="3.35" height="6.80" fill="#a0a0a0"/><rect x="15.10" y="212.05" width="3.35" height="6.80" fill="#ff0000"/><rect x="18.40" y="212.05" width="3.35" height="6.80" fill="#0000ff"/><rect x="21.70" y="212.05" width="3.35" height="6.80" fill="#0000ff"/><rect x="25.00" y="212.05" width="3.35" height="6.80" fill="#0000ff"/><rect x="28.30" y="212.05" width="3.35" height="6.80" fill="#a0a0a0"/><rect x="31.60" y="212.05" width="3.35" height="6.80" fill="#0000ff"/><rect x="34.90" y="212.05" width="3.35" height="6.80" fill="#0000ff"/><rect x="38.20" y="212.05" width="3.35" height="6.80" fill="#96c864"/><rect x="41.50" y="212.05" width="3.35" height="6.80" fill="#e62396"/><rect x="44.80" y="212.05" width="3.35" height="6.80" fill="#e62396"/><rect x="48.10" y="212.05" width="3.35" height="6.80" fill="#ff0000"/><rect x="51.40" y="212.05" width="3.35" height="6.80" fill="#e62396"/><rect x="54.70" y="212.05" width="3.35" height="6.80" fill="#0000ff"/><rect x="58.00" y="212.05" width="3.35" height="6.80" fill="#e8ffff"/><rect x="61.30" y="212.05" width="3.35" height="6.80" fill="#c8ffff"/><rect x="64.60" y="212.05" width="3.35" height="6.80" fill="#ff0000"/><rect x="67.90" y="212.05" width="3.35" height="6.80" fill="#e62396"/><rect x="11.80" y="218.80" width="3.35" height="6.80" fill="#0000ff"/><rect x="15.10" y="218.80" width="3.35" height="6.80" fill="#40e0d0"/><rect x="18.40" y="218.80" width="3.35" height="6.80" fill="#e62396"/><rect x="21.70" y="218.80" width="3.35" height="6.80" fill="#a0a0a0"/><rect x="25.00" y="218.80" width="3.35" height="6.80" fill="#a0a0a0"/><rect x="28.30" y="218.80" width="3.35" height="6.80" fill="#00ff00"/><rect x="31.60" y="218.80" width="3.35" height="6.80" fill="#a0a0a0"/><rect x="34.90" y="218.80" width="3.35" height="6.80" fill="#ff0000"/><rect x="38.20" y="218.80" width="3.35" height="6.80" fill="#a0a0a0"/><rect x="41.50" y="218.80" width="3.35" height="6.80" fill="#e8ffff"/><rect x="44.80" y="218.80" width="3.35" height="6.80" fill="#0000ff"/><rect x="48.10" y="218.80" width="3.35" height="6.80" fill="#00ff00"/><rect x="51.40" y="218.80" width="3.35" height="6.80" fill="#a0a0a0"/><rect x="54.70" y="218.80" width="3.35" height="6.80" fill="#96c864"/><rect x="58.00" y="218.80" width="3.35" height="6.80" fill="#ff0000"/><rect x="61.30" y="218.80" width="3.35" height="6.80" fill="#a0a0a0"/><rect x="64.60" y="218.80" width="3.35" height="6.80" fill="#ff0000"/><rect x="67.90" y="218.80" width="3.35" height="6.80" fill="#0000ff"/><rect x="11.80" y="225.55" width="3.35" height="6.80" fill="#40e0d0"/><rect x="15.10" y="225.55" width="3.35" height="6.80" fill="#40e0d0"/><rect x="18.40" y="225.55" width="3.35" height="6.80" fill="#e62396"/><rect x="21.70" y="225.55" width="3.35" height="6.80" fill="#c8ffff"/><rect x="25.00" y="225.55" width="3.35" height="6.80" fill="#00ff00"/><rect x="28.30" y="225.55" width="3.35" height="6.80" fill="#e62396"/><rect x="31.60" y="225.55" width="3.35" height="6.80" fill="#a0a0a0"/><rect x="34.90" y="225.55" width="3.35" height="6.80" fill="#e8ffff"/><rect x="38.20" y="225.55" width="3.35" height="6.80" fill="#a0a0a0"/><rect x="41.50" y="225.55" width="3.35" height="6.80" fill="#ff0000"/><rect x="44.80" y="225.55" width="3.35" height="6.80" fill="#40e0d0"/><rect x="48.10" y="225.55" width="3.35" height="6.80" fill="#0000ff"/><rect x="51.40" y="225.55" width="3.35" height="6.80" fill="#ff0000"/><rect x="54.70" y="225.55" width="3.35" height="6.80" fill="#e62396"/><rect x="58.00" y="225.55" width="3.35" height="6.80" fill="#c8ffff"/><rect x="61.30" y="225.55" width="3.35" height="6.80" fill="#0000ff"/><rect x="64.60" y="225.55" width="3.35" height="6.80" fill="#40e0d0"/><rect x="67.90" y="225.55" width="3.35" height="6.80" fill="#0000ff"/><rect x="11.80" y="232.30" width="3.35" height="6.80" fill="#40e0d0"/><rect x="15.10" y="232.30" width="3.35" height="6.80" fill="#e62396"/><rect x="18.40" y="232.30" width="3.35" height="6.80" fill="#e62396"/><rect x="21.70" y="232.30" width="3.35" height="6.80" fill="#e8ffff"/><rect x="25.00" y="232.30" width="3.35" height="6.80" fill="#40e0d0"/><rect x="28.30" y="232.30" width="3.35" height="6.80" fill="#96c864"/><rect x="31.60" y="232.30" width="3.35" height="6.80" fill="#ff0000"/><rect x="34.90" y="232.30" width="3.35" height="6.80" fill="#e62396"/><rect x="38.20" y="232.30" width="3.35" height="6.80" fill="#00ff00"/><rect x="41.50" y="232.30" width="3.35" height="6.80" fill="#e62396"/><rect x="44.80" y="232.30" width="3.35" height="6.80" fill="#0000ff"/><rect x="48.10" y="232.30" width="3.35" height="6.80" fill="#c8ffff"/><rect x="51.40" y="232.30" width="3.35" height="6.80" fill="#a0a0a0"/><rect x="54.70" y="232.30" width="3.35" height="6.80" fill="#ff0000"/><rect x="58.00" y="232.30" width="3.35" height="6.80" fill="#e62396"/><rect x="61.30" y="232.30" width="3.35" height="6.80" fill="#40e0d0"/><rect x="64.60" y="232.30" width="3.35" height="6.80" fill="#0000ff"/><rect x="67.90" y="232.30" width="3.35" height="6.80" fill="#40e0d0"/><rect x="11.80" y="239.05" width="3.35" height="6.80" fill="#96c864"/><rect x="15.10" y="239.05" width="3.35" height="6.80" fill="#a0a0a0"/><rect x="18.40" y="239.05" width="3.35" height="6.80" fill="#96c864"/><rect x="21.70" y="239.05" width="3.35" height="6.80" fill="#ff0000"/><rect x="25.00" y="239.05" width="3.35" height="6.80" fill="#0000ff"/><rect x="28.30" y="239.05" width="3.35" height="6.80" fill="#c8ffff"/><rect x="31.60" y="239.05" width="3.35" height="6.80" fill="#0000ff"/><rect x="34.90" y="239.05" width="3.35" height="6.80" fill="#40e0d0"/><rect x="38.20" y="239.05" width="3.35" height="6.80" fill="#40e0d0"/><rect x="41.50" y="239.05" width="3.35" height="6.80" fill="#ff0000"/><rect x="44.80" y="239.05" width="3.35" height="6.80" fill="#e8ffff"/><rect x="48.10" y="239.05" width="3.35" height="6.80" fill="#ff0000"/><rect x="51.40" y="239.05" width="3.35" height="6.80" fill="#c8ffff"/><rect x="54.70" y="239.05" width="3.35" height="6.80" fill="#ff0000"/><rect x="58.00" y="239.05" width="3.35" height="6.80" fill="#ff0000"/><rect x="61.30" y="239.05" width="3.35" height="6.80" fill="#c8ffff"/><rect x="64.60" y="239.05" width="3.35" height="6.80" fill="#00ff00"/><rect x="67.90" y="239.05" width="3.35" height="6.80" fill="#a0a0a0"/><rect x="11.80" y="245.80" width="3.35" height="6.80" fill="#a0a0a0"/><rect x="15.10" y="245.80" width="3.35" height="6.80" fill="#00ff00"/><rect x="18.40" y="245.80" width="3.35" height="6.80" fill="#40e0d0"/><rect x="21.70" y="245.80" width="3.35" height="6.80" fill="#00ff00"/><rect x="25.00" y="245.80" width="3.35" height="6.80" fill="#0000ff"/><rect x="28.30" y="245.80" width="3.35" height="6.80" fill="#e62396"/><rect x="31.60" y="245.80" width="3.35" height="6.80" fill="#40e0d0"/><rect x="34.90" y="245.80" width="3.35" height="6.80" fill="#00ff00"/><rect x="38.20" y="245.80" width="3.35" height="6.80" fill="#ff0000"/><rect x="41.50" y="245.80" width="3.35" height="6.80" fill="#e62396"/><rect x="44.80" y="245.80" width="3.35" height="6.80" fill="#96c864"/><rect x="48.10" y="245.80" width="3.35" height="6.80" fill="#0000ff"/><rect x="51.40" y="245.80" width="3.35" height="6.80" fill="#e8ffff"/><rect x="54.70" y="245.80" width="3.35" height="6.80" fill="#e62396"/><rect x="58.00" y="245.80" width="3.35" height="6.80" fill="#00ff00"/><rect x="61.30" y="245.80" width="3.35" height="6.80" fill="#ff0000"/><rect x="64.60" y="245.80" width="3.35" height="6.80" fill="#00ff00"/><rect x="67.90" y="245.80" width="3.35" height="6.80" fill="#a0a0a0"/><rect x="11.80" y="252.55" width="3.35" height="6.80" fill="#a0a0a0"/><rect x="15.10" y="252.55" width="3.35" height="6.80" fill="#a0a0a0"/><rect x="18.40" y="252.55" width="3.35" height="6.80" fill="#40e0d0"/><rect x="21.70" y="252.55" width="3.35" height="6.80" fill="#40e0d0"/><rect x="25.00" y="252.55" width="3.35" height="6.80" fill="#e62396"/><rect x="28.30" y="252.55" width="3.35" height="6.80" fill="#a0a0a0"/><rect x="31.60" y="252.55" width="3.35" height="6.80" fill="#0000ff"/><rect x="34.90" y="252.55" width="3.35" height="6.80" fill="#40e0d0"/><rect x="38.20" y="252.55" width="3.35" height="6.80" fill="#ff0000"/><rect x="41.50" y="252.55" width="3.35" height="6.80" fill="#e8ffff"/><rect x="44.80" y="252.55" width="3.35" height="6.80" fill="#0000ff"/><rect x="48.10" y="252.55" width="3.35" height="6.80" fill="#96c864"/><rect x="51.40" y="252.55" width="3.35" height="6.80" fill="#96c864"/><rect x="54.70" y="252.55" width="3.35" height="6.80" fill="#00ff00"/><rect x="58.00" y="252.55" width="3.35" height="6.80" fill="#e62396"/><rect x="61.30" y="252.55" width="3.35" height="6.80" fill="#e62396"/><rect x="64.60" y="252.55" width="3.35" height="6.80" fill="#c8ffff"/><rect x="67.90" y="252.55" width="3.35" height="6.80" fill="#a0a0a0"/><rect x="11.80" y="259.30" width="3.35" height="6.80" fill="#0000ff"/><rect x="15.10" y="259.30" width="3.35" height="6.80" fill="#96c864"/><rect x="18.40" y="259.30" width="3.35" height="6.80" fill="#a0a0a0"/><rect x="21.70" y="259.30" width="3.35" height="6.80" fill="#e62396"/><rect x="25.00" y="259.30" width="3.35" height="6.80" fill="#ff0000"/><rect x="28.30" y="259.30" width="3.35" height="6.80" fill="#40e0d0"/><rect x="31.60" y="259.30" width="3.35" height="6.80" fill="#96c864"/><rect x="34.90" y="259.30" width="3.35" height="6.80" fill="#00ff00"/><rect x="38.20" y="259.30" width="3.35" height="6.80" fill="#40e0d0"/><rect x="41.50" y="259.30" width="3.35" height="6.80" fill="#ff0000"/><rect x="44.80" y="259.30" width="3.35" height="6.80" fill="#00ff00"/><rect x="48.10" y="259.30" width="3.35" height="6.80" fill="#a0a0a0"/><rect x="51.40" y="259.30" width="3.35" height="6.80" fill="#40e0d0"/><rect x="54.70" y="259.30" width="3.35" height="6.80" fill="#a0a0a0"/><rect x="58.00" y="259.30" width="3.35" height="6.80" fill="#e62396"/><rect x="61.30" y="259.30" width="3.35" height="6.80" fill="#96c864"/><rect x="64.60" y="259.30" width="3.35" height="6.80" fill="#00ff00"/><rect x="67.90" y="259.30" width="3.35" height="6.80" fill="#00ff00"/><rect x="11.80" y="266.05" width="3.35" height="6.80" fill="#e62396"/><rect x="15.10" y="266.05" width="3.35" height="6.80" fill="#00ff00"/><rect x="18.40" y="266.05" width="3.35" height="6.80" fill="#c8ffff"/><rect x="21.70" y="266.05" width="3.35" height="6.80" fill="#00ff00"/><rect x="25.00" y="266.05" width="3.35" height="6.80" fill="#00ff00"/><rect x="28.30" y="266.05" width="3.35" height="6.80" fill="#00ff00"/><rect x="31.60" y="266.05" width="3.35" height="6.80" fill="#0000ff"/><rect x="34.90" y="266.05" width="3.35" height="6.80" fill="#ff0000"/><rect x="38.20" y="266.05" width="3.35" height="6.80" fill="#ff0000"/><rect x="41.50" y="266.05" width="3.35" height="6.80" fill="#e62396"/><rect x="44.80" y="266.05" width="3.35" height="6.80" fill="#0000ff"/><rect x="48.10" y="266.05" width="3.35" height="6.80" fill="#a0a0a0"/><rect x="51.40" y="266.05" width="3.35" height="6.80" fill="#0000ff"/><rect x="54.70" y="266.05" width="3.35" height="6.80" fill="#96c864"/><rect x="58.00" y="266.05" width="3.35" height="6.80" fill="#0000ff"/><rect x="61.30" y="266.05" width="3.35" height="6.80" fill="#c8ffff"/><rect x="64.60" y="266.05" width="3.35" height="6.80" fill="#00ff00"/><rect x="67.90" y="266.05" width="3.35" height="6.80" fill="#96c864"/><rect x="11.80" y="272.80" width="3.35" height="6.80" fill="#0000ff"/><rect x="15.10" y="272.80" width="3.35" height="6.80" fill="#e8ffff"/><rect x="18.40" y="272.80" width="3.35" height="6.80" fill="#0000ff"/><rect x="21.70" y="272.80" width="3.35" height="6.80" fill="#0000ff"/><rect x="25.00" y="272.80" width="3.35" height="6.80" fill="#a0a0a0"/><rect x="28.30" y="272.80" width="3.35" height="6.80" fill="#00ff00"/><rect x="31.60" y="272.80" width="3.35" height="6.80" fill="#e8ffff"/><rect x="34.90" y="272.80" width="3.35" height="6.80" fill="#a0a0a0"/><rect x="38.20" y="272.80" width="3.35" height="6.80" fill="#40e0d0"/><rect x="41.50" y="272.80" width="3.35" height="6.80" fill="#e62396"/><rect x="44.80" y="272.80" width="3.35" height="6.80" fill="#a0a0a0"/><rect x="48.10" y="272.80" width="3.35" height="6.80" fill="#0000ff"/><rect x="51.40" y="272.80" width="3.35" height="6.80" fill="#ff0000"/><rect x="54.70" y="272.80" width="3.35" height="6.80" fill="#ff0000"/><rect x="58.00" y="272.80" width="3.35" height="6.80" fill="#ff0000"/><rect x="61.30" y="272.80" width="3.35" height="6.80" fill="#ff0000"/><rect x="64.60" y="272.80" width="3.35" height="6.80" fill="#c8ffff"/><rect x="67.90" y="272.80" width="3.35" height="6.80" fill="#96c864"/><rect x="11.80" y="279.55" width="3.35" height="6.80" fill="#40e0d0"/><rect x="15.10" y="279.55" width="3.35" height="6.80" fill="#96c864"/><rect x="18.40" y="279.55" width="3.35" height="6.80" fill="#e62396"/><rect x="21.70" y="279.55" width="3.35" height="6.80" fill="#e62396"/><rect x="25.00" y="279.55" width="3.35" height="6.80" fill="#00ff00"/><rect x="28.30" y="279.55" width="3.35" height="6.80" fill="#00ff00"/><rect x="31.60" y="279.55" width="3.35" height="6.80" fill="#e62396"/><rect x="34.90" y="279.55" width="3.35" height="6.80" fill="#a0a0a0"/><rect x="38.20" y="279.55" width="3.35" height="6.80" fill="#e8ffff"/><rect x="41.50" y="279.55" width="3.35" height="6.80" fill="#96c864"/><rect x="44.80" y="279.55" width="3.35" height="6.80" fill="#00ff00"/><rect x="48.10" y="279.55" width="3.35" height="6.80" fill="#0000ff"/><rect x="51.40" y="279.55" width="3.35" height="6.80" fill="#a0a0a0"/><rect x="54.70" y="279.55" width="3.35" height="6.80" fill="#00ff00"/><rect x="58.00" y="279.55" width="3.35" height="6.80" fill="#a0a0a0"/><rect x="61.30" y="279.55" width="3.35" height="6.80" fill="#ff0000"/><rect x="64.60" y="279.55" width="3.35" height="6.80" fill="#e62396"/><rect x="67.90" y="279.55" width="3.35" height="6.80" fill="#00ff00"/><rect x="11.80" y="286.30" width="3.35" height="6.80" fill="#a0a0a0"/><rect x="15.10" y="286.30" width="3.35" height="6.80" fill="#00ff00"/><rect x="18.40" y="286.30" width="3.35" height="6.80" fill="#e62396"/><rect x="21.70" y="286.30" width="3.35" height="6.80" fill="#00ff00"/><rect x="25.00" y="286.30" width="3.35" height="6.80" fill="#00ff00"/><rect x="28.30" y="286.30" width="3.35" height="6.80" fill="#a0a0a0"/><rect x="31.60" y="286.30" width="3.35" height="6.80" fill="#ff0000"/><rect x="34.90" y="286.30" width="3.35" height="6.80" fill="#c8ffff"/><rect x="38.20" y="286.30" width="3.35" height="6.80" fill="#40e0d0"/><rect x="41.50" y="286.30" width="3.35" height="6.80" fill="#e62396"/><rect x="44.80" y="286.30" width="3.35" height="6.80" fill="#e62396"/><rect x="48.10" y="286.30" width="3.35" height="6.80" fill="#e62396"/><rect x="51.40" y="286.30" width="3.35" height="6.80" fill="#c8ffff"/><rect x="54.70" y="286.30" width="3.35" height="6.80" fill="#a0a0a0"/><rect x="58.00" y="286.30" width="3.35" height="6.80" fill="#c8ffff"/><rect x="61.30" y="286.30" width="3.35" height="6.80" fill="#0000ff"/><rect x="64.60" y="286.30" width="3.35" height="6.80" fill="#e8ffff"/><rect x="67.90" y="286.30" width="3.35" height="6.80" fill="#e8ffff"/><rect x="11.80" y="293.05" width="3.35" height="6.80" fill="#e62396"/><rect x="15.10" y="293.05" width="3.35" height="6.80" fill="#96c864"/><rect x="18.40" y="293.05" width="3.35" height="6.80" fill="#0000ff"/><rect x="21.70" y="293.05" width="3.35" height="6.80" fill="#00ff00"/><rect x="25.00" y="293.05" width="3.35" height="6.80" fill="#0000ff"/><rect x="28.30" y="293.05" width="3.35" height="6.80" fill="#a0a0a0"/><rect x="31.60" y="293.05" width="3.35" height="6.80" fill="#96c864"/><rect x="34.90" y="293.05" width="3.35" height="6.80" fill="#ff0000"/><rect x="38.20" y="293.05" width="3.35" height="6.80" fill="#e62396"/><rect x="41.50" y="293.05" width="3.35" height="6.80" fill="#ff0000"/><rect x="44.80" y="293.05" width="3.35" height="6.80" fill="#0000ff"/><rect x="48.10" y="293.05" width="3.35" height="6.80" fill="#e62396"/><rect x="51.40" y="293.05" width="3.35" height="6.80" fill="#e62396"/><rect x="54.70" y="293.05" width="3.35" height="6.80" fill="#c8ffff"/><rect x="58.00" y="293.05" width="3.35" height="6.80" fill="#40e0d0"/><rect x="61.30" y="293.05" width="3.35" height="6.80" fill="#e8ffff"/><rect x="64.60" y="293.05" width="3.35" height="6.80" fill="#a0a0a0"/><rect x="67.90" y="293.05" width="3.35" height="6.80" fill="#00ff00"/><rect x="11.80" y="299.80" width="3.35" height="6.80" fill="#e8ffff"/><rect x="15.10" y="299.80" width="3.35" height="6.80" fill="#0000ff"/><rect x="18.40" y="299.80" width="3.35" height="6.80" fill="#00ff00"/><rect x="21.70" y="299.80" width="3.35" height="6.80" fill="#e62396"/><rect x="25.00" y="299.80" width="3.35" height="6.80" fill="#0000ff"/><rect x="28.30" y="299.80" width="3.35" height="6.80" fill="#c8ffff"/><rect x="31.60" y="299.80" width="3.35" height="6.80" fill="#c8ffff"/><rect x="34.90" y="299.80" width="3.35" height="6.80" fill="#e8ffff"/><rect x="38.20" y="299.80" width="3.35" height="6.80" fill="#c8ffff"/><rect x="41.50" y="299.80" width="3.35" height="6.80" fill="#ff0000"/><rect x="44.80" y="299.80" width="3.35" height="6.80" fill="#a0a0a0"/><rect x="48.10" y="299.80" width="3.35" height="6.80" fill="#0000ff"/><rect x="51.40" y="299.80" width="3.35" height="6.80" fill="#40e0d0"/><rect x="54.70" y="299.80" width="3.35" height="6.80" fill="#96c864"/><rect x="58.00" y="299.80" width="3.35" height="6.80" fill="#c8ffff"/><rect x="61.30" y="299.80" width="3.35" height="6.80" fill="#e8ffff"/><rect x="64.60" y="299.80" width="3.35" height="6.80" fill="#00ff00"/><rect x="67.90" y="299.80" width="3.35" height="6.80" fill="#96c864"/><rect x="11.80" y="306.55" width="3.35" height="6.80" fill="#a0a0a0"/><rect x="15.10" y="306.55" width="3.35" height="6.80" fill="#96c864"/><rect x="18.40" y="306.55" width="3.35" height="6.80" fill="#96c864"/><rect x="21.70" y="306.55" width="3.35" height="6.80" fill="#96c864"/><rect x="25.00" y="306.55" width="3.35" height="6.80" fill="#e62396"/><rect x="28.30" y="306.55" width="3.35" height="6.80" fill="#96c864"/><rect x="31.60" y="306.55" width="3.35" height="6.80" fill="#96c864"/><rect x="34.90" y="306.55" width="3.35" height="6.80" fill="#e62396"/><rect x="38.20" y="306.55" width="3.35" height="6.80" fill="#40e0d0"/><rect x="41.50" y="306.55" width="3.35" height="6.80" fill="#a0a0a0"/><rect x="44.80" y="306.55" width="3.35" height="6.80" fill="#0000ff"/><rect x="48.10" y="306.55" width="3.35" height="6.80" fill="#96c864"/><rect x="51.40" y="306.55" width="3.35" height="6.80" fill="#e62396"/><rect x="54.70" y="306.55" width="3.35" height="6.80" fill="#ff0000"/><rect x="58.00" y="306.55" width="3.35" height="6.80" fill="#ff0000"/><rect x="61.30" y="306.55" width="3.35" height="6.80" fill="#e8ffff"/><rect x="64.60" y="306.55" width="3.35" height="6.80" fill="#96c864"/><rect x="67.90" y="306.55" width="3.35" height="6.80" fill="#0000ff"/><rect x="11.80" y="313.30" width="3.35" height="6.80" fill="#a0a0a0"/><rect x="15.10" y="313.30" width="3.35" height="6.80" fill="#a0a0a0"/><rect x="18.40" y="313.30" width="3.35" height="6.80" fill="#96c864"/><rect x="21.70" y="313.30" width="3.35" height="6.80" fill="#0000ff"/><rect x="25.00" y="313.30" width="3.35" height="6.80" fill="#40e0d0"/><rect x="28.30" y="313.30" width="3.35" height="6.80" fill="#40e0d0"/><rect x="31.60" y="313.30" width="3.35" height="6.80" fill="#ff0000"/><rect x="34.90" y="313.30" width="3.35" height="6.80" fill="#0000ff"/><rect x="38.20" y="313.30" width="3.35" height="6.80" fill="#96c864"/><rect x="41.50" y="313.30" width="3.35" height="6.80" fill="#40e0d0"/><rect x="44.80" y="313.30" width="3.35" height="6.80" fill="#a0a0a0"/><rect x="48.10" y="313.30" width="3.35" height="6.80" fill="#ff0000"/><rect x="51.40" y="313.30" width="3.35" height="6.80" fill="#00ff00"/><rect x="54.70" y="313.30" width="3.35" height="6.80" fill="#00ff00"/><rect x="58.00" y="313.30" width="3.35" height="6.80" fill="#0000ff"/><rect x="61.30" y="313.30" width="3.35" height="6.80" fill="#c8ffff"/><rect x="64.60" y="313.30" width="3.35" height="6.80" fill="#00ff00"/><rect x="67.90" y="313.30" width="3.35" height="6.80" fill="#c8ffff"/><rect x="11.80" y="320.05" width="3.35" height="6.80" fill="#0000ff"/><rect x="15.10" y="320.05" width="3.35" height="6.80" fill="#0000ff"/><rect x="18.40" y="320.05" width="3.35" height="6.80" fill="#00ff00"/><rect x="21.70" y="320.05" width="3.35" height="6.80" fill="#00ff00"/><rect x="25.00" y="320.05" width="3.35" height="6.80" fill="#e62396"/><rect x="28.30" y="320.05" width="3.35" height="6.80" fill="#0000ff"/><rect x="31.60" y="320.05" width="3.35" height="6.80" fill="#40e0d0"/><rect x="34.90" y="320.05" width="3.35" height="6.80" fill="#e62396"/><rect x="38.20" y="320.05" width="3.35" height="6.80" fill="#00ff00"/><rect x="41.50" y="320.05" width="3.35" height="6.80" fill="#e8ffff"/><rect x="44.80" y="320.05" width="3.35" height="6.80" fill="#e62396"/><rect x="48.10" y="320.05" width="3.35" height="6.80" fill="#ff0000"/><rect x="51.40" y="320.05" width="3.35" height="6.80" fill="#c8ffff"/><rect x="54.70" y="320.05" width="3.35" height="6.80" fill="#e62396"/><rect x="58.00" y="320.05" width="3.35" height="6.80" fill="#0000ff"/><rect x="61.30" y="320.05" width="3.35" height="6.80" fill="#e62396"/><rect x="64.60" y="320.05" width="3.35" height="6.80" fill="#e62396"/><rect x="67.90" y="320.05" width="3.35" height="6.80" fill="#a0a0a0"/><rect x="11.80" y="326.80" width="3.35" height="6.80" fill="#ff0000"/><rect x="15.10" y="326.80" width="3.35" height="6.80" fill="#0000ff"/><rect x="18.40" y="326.80" width="3.35" height="6.80" fill="#96c864"/><rect x="21.70" y="326.80" width="3.35" height="6.80" fill="#e62396"/><rect x="25.00" y="326.80" width="3.35" height="6.80" fill="#ff0000"/><rect x="28.30" y="326.80" width="3.35" height="6.80" fill="#e62396"/><rect x="31.60" y="326.80" width="3.35" height="6.80" fill="#96c864"/><rect x="34.90" y="326.80" width="3.35" height="6.80" fill="#c8ffff"/><rect x="38.20" y="326.80" width="3.35" height="6.80" fill="#40e0d0"/><rect x="41.50" y="326.80" width="3.35" height="6.80" fill="#ff0000"/><rect x="44.80" y="326.80" width="3.35" height="6.80" fill="#ff0000"/><rect x="48.10" y="326.80" width="3.35" height="6.80" fill="#a0a0a0"/><rect x="51.40" y="326.80" width="3.35" height="6.80" fill="#a0a0a0"/><rect x="54.70" y="326.80" width="3.35" height="6.80" fill="#a0a0a0"/><rect x="58.00" y="326.80" width="3.35" height="6.80" fill="#e62396"/><rect x="61.30" y="326.80" width="3.35" height="6.80" fill="#e62396"/><rect x="64.60" y="326.80" width="3.35" height="6.80" fill="#0000ff"/><rect x="67.90" y="326.80" width="3.35" height="6.80" fill="#00ff00"/><rect x="11.80" y="333.55" width="3.35" height="6.80" fill="#e62396"/><rect x="15.10" y="333.55" width="3.35" height="6.80" fill="#a0a0a0"/><rect x="18.40" y="333.55" width="3.35" height="6.80" fill="#40e0d0"/><rect x="21.70" y="333.55" width="3.35" height="6.80" fill="#c8ffff"/><rect x="25.00" y="333.55" width="3.35" height="6.80" fill="#ff0000"/><rect x="28.30" y="333.55" width="3.35" height="6.80" fill="#00ff00"/><rect x="31.60" y="333.55" width="3.35" height="6.80" fill="#00ff00"/><rect x="34.90" y="333.55" width="3.35" height="6.80" fill="#c8ffff"/><rect x="38.20" y="333.55" width="3.35" height="6.80" fill="#e62396"/><rect x="41.50" y="333.55" width="3.35" height="6.80" fill="#ff0000"/><rect x="44.80" y="333.55" width="3.35" height="6.80" fill="#96c864"/><rect x="48.10" y="333.55" width="3.35" height="6.80" fill="#0000ff"/><rect x="51.40" y="333.55" width="3.35" height="6.80" fill="#0000ff"/><rect x="54.70" y="333.55" width="3.35" height="6.80" fill="#0000ff"/><rect x="58.00" y="333.55" width="3.35" height="6.80" fill="#0000ff"/><rect x="61.30" y="333.55" width="3.35" height="6.80" fill="#0000ff"/><rect x="64.60" y="333.55" width="3.35" height="6.80" fill="#e62396"/><rect x="67.90" y="333.55" width="3.35" height="6.80" fill="#96c864"/><rect x="11.80" y="340.30" width="3.35" height="6.80" fill="#a0a0a0"/><rect x="15.10" y="340.30" width="3.35" height="6.80" fill="#0000ff"/><rect x="18.40" y="340.30" width="3.35" height="6.80" fill="#c8ffff"/><rect x="21.70" y="340.30" width="3.35" height="6.80" fill="#c8ffff"/><rect x="25.00" y="340.30" width="3.35" height="6.80" fill="#a0a0a0"/><rect x="28.30" y="340.30" width="3.35" height="6.80" fill="#0000ff"/><rect x="31.60" y="340.30" width="3.35" height="6.80" fill="#0000ff"/><rect x="34.90" y="340.30" width="3.35" height="6.80" fill="#96c864"/><rect x="38.20" y="340.30" width="3.35" height="6.80" fill="#40e0d0"/><rect x="41.50" y="340.30" width="3.35" height="6.80" fill="#0000ff"/><rect x="44.80" y="340.30" width="3.35" height="6.80" fill="#96c864"/><rect x="48.10" y="340.30" width="3.35" height="6.80" fill="#ff0000"/><rect x="51.40" y="340.30" width="3.35" height="6.80" fill="#0000ff"/><rect x="54.70" y="340.30" width="3.35" height="6.80" fill="#e8ffff"/><rect x="58.00" y="340.30" width="3.35" height="6.80" fill="#a0a0a0"/><rect x="61.30" y="340.30" width="3.35" height="6.80" fill="#96c864"/><rect x="64.60" y="340.30" width="3.35" height="6.80" fill="#e62396"/><rect x="67.90" y="340.30" width="3.35" height="6.80" fill="#ff0000"/></g><rect x="86.5" y="7.5" width="456" height="342" fill="none" stroke="#111" stroke-width="1"/><line x1="147.0" y1="89.50" x2="497.5" y2="89.50" stroke="#ebebeb" stroke-width="1"/><line x1="147.0" y1="144.50" x2="497.5" y2="144.50" stroke="#ebebeb" stroke-width="1"/><line x1="147.0" y1="200.50" x2="497.5" y2="200.50" stroke="#ebebeb" stroke-width="1"/><line x1="147.0" y1="255.50" x2="497.5" y2="255.50" stroke="#ebebeb" stroke-width="1"/><line x1="217.10" y1="34.5" x2="217.10" y2="310.6" stroke="#e9e9e9" stroke-width="1"/><line x1="287.25" y1="34.5" x2="287.25" y2="310.6" stroke="#e9e9e9" stroke-width="1"/><line x1="357.40" y1="34.5" x2="357.40" y2="310.6" stroke="#e9e9e9" stroke-width="1"/><line x1="427.50" y1="34.5" x2="427.50" y2="310.6" stroke="#e9e9e9" stroke-width="1"/><path d="M147.00 164.60 L148.36 170.31 L150.20 177.80 L152.01 185.24 L154.00 192.00 L155.50 195.53 L157.09 198.35 L158.60 199.80 L160.59 198.73 L162.50 195.30 L164.49 190.36 L166.40 184.20 L168.16 177.16 L169.60 170.00 L170.12 164.97 L170.90 158.00 L172.34 148.93 L174.22 137.90 L176.10 128.30 L177.83 121.41 L179.57 115.96 L181.30 111.50 L182.94 108.05 L184.58 105.60 L186.50 103.70 L187.88 102.72 L189.40 101.94 L190.99 101.36 L192.61 100.98 L194.20 100.80 L195.75 100.87 L197.31 101.19 L198.88 101.70 L200.44 102.30 L202.00 103.01 L203.60 103.77 L205.24 104.68 L206.87 105.63 L208.41 106.60 L209.80 107.55 L211.63 108.89 L213.17 110.04 L215.00 111.54 L216.40 112.48 L217.94 113.41 L219.56 114.28 L221.20 115.35 L222.80 116.53 L224.34 117.91 L225.88 119.19 L227.42 120.88 L228.96 122.57 L230.50 124.30 L232.04 126.57 L233.57 128.89 L235.12 131.15 L236.69 133.54 L238.30 136.09 L239.89 138.67 L241.74 141.93 L243.63 145.09 L245.28 147.97 L246.45 149.92 L246.90 151.07 L248.10 147.89 L249.30 144.30 L250.45 147.55 L251.60 150.71 L252.45 150.07 L254.39 148.56 L256.50 147.92 L258.01 147.95 L259.64 148.90 L261.30 150.50 L262.90 151.59 L264.41 153.56 L265.89 155.75 L267.34 157.39 L268.80 158.55 L270.27 158.21 L271.74 157.35 L273.19 156.19 L274.60 154.39 L276.38 150.67 L278.09 146.27 L279.80 142.57 L281.49 139.01 L283.17 135.47 L285.00 132.54 L286.48 130.88 L288.01 130.31 L289.67 130.17 L291.50 129.73 L292.88 129.84 L294.41 129.33 L296.00 129.60 L297.59 129.99 L299.12 130.05 L300.50 130.49 L302.24 130.86 L303.74 131.29 L305.25 131.53 L307.00 132.36 L308.38 133.02 L309.89 133.76 L311.47 134.66 L313.07 134.93 L314.63 135.32 L316.10 136.04 L317.72 136.35 L319.26 136.80 L320.76 136.80 L322.28 137.04 L323.90 137.69 L325.34 138.35 L326.86 139.18 L328.40 140.18 L329.94 140.58 L331.46 141.22 L332.90 141.99 L334.54 143.37 L336.11 144.41 L337.64 145.36 L339.16 146.27 L340.70 147.42 L342.28 148.34 L343.88 149.44 L345.47 149.84 L347.02 150.70 L348.50 151.27 L350.12 152.39 L351.59 153.60 L353.13 154.18 L355.00 155.78 L356.28 156.31 L357.69 157.22 L359.19 158.70 L360.75 160.02 L362.32 160.80 L363.89 162.14 L365.40 163.05 L366.88 164.01 L368.35 164.31 L369.82 165.21 L371.28 165.99 L372.75 166.72 L374.22 167.13 L375.70 167.49 L377.20 168.23 L378.74 168.93 L380.29 169.43 L381.82 170.31 L383.32 171.23 L384.75 172.04 L386.10 172.89 L387.83 173.73 L389.41 174.76 L390.91 175.14 L392.39 175.90 L393.90 176.89 L395.44 177.28 L396.98 178.10 L398.52 179.22 L400.06 180.10 L401.60 180.69 L403.15 181.44 L404.71 181.83 L406.28 181.74 L407.84 182.24 L409.40 182.25 L410.96 182.35 L412.52 183.12 L414.08 183.38 L415.64 183.56 L417.20 183.55 L418.75 183.90 L420.30 184.37 L421.85 184.79 L423.41 184.75 L425.00 184.93 L426.61 184.99 L428.25 185.09 L429.90 185.30 L431.55 185.48 L433.20 186.12 L434.84 186.15 L436.48 186.88 L438.13 187.39 L439.77 188.11 L441.40 188.68 L443.02 189.33 L444.64 189.48 L446.26 189.82 L447.88 190.24 L449.50 190.76 L451.13 191.58 L452.77 192.10 L454.42 192.66 L456.06 193.72 L457.70 194.02 L459.34 195.06 L460.98 195.52 L462.62 195.99 L464.26 196.40 L465.90 197.27 L467.54 198.03 L469.18 198.29 L470.82 199.01 L472.46 199.35 L474.10 199.87 L475.78 200.85 L477.51 201.19 L479.22 201.98 L480.84 202.89 L482.30 203.13 L484.18 203.18 L485.74 203.17 L487.70 203.60 L489.08 204.33 L490.74 205.72 L492.49 207.20 L494.16 208.21 L495.59 209.58 L496.60 210.52" fill="none" stroke="#ff0000" stroke-width="2.3" stroke-linejoin="round" stroke-linecap="round"/><path d="M147.00 118.60 L148.09 122.44 L149.66 128.01 L151.35 133.89 L152.80 138.70 L154.88 144.70 L156.70 149.00 L158.52 153.38 L160.50 155.50 L162.13 154.39 L163.91 151.69 L165.70 147.70 L167.43 142.19 L169.17 135.39 L170.90 128.30 L172.63 120.97 L174.37 113.35 L176.10 106.30 L177.83 99.93 L179.57 94.12 L181.30 89.40 L182.99 86.13 L184.68 83.94 L186.50 82.30 L188.01 81.32 L189.62 80.66 L191.26 80.27 L192.90 80.10 L194.49 80.15 L196.06 80.45 L197.68 80.96 L199.40 81.71 L200.88 82.45 L202.43 83.32 L204.02 84.33 L205.62 85.46 L207.20 86.78 L208.76 88.26 L210.32 90.09 L211.88 92.02 L213.44 93.79 L215.00 95.38 L216.56 96.75 L218.12 97.69 L219.69 98.64 L221.25 99.89 L222.80 101.08 L224.34 102.46 L225.88 103.69 L227.42 105.11 L228.96 106.76 L230.50 108.85 L232.04 111.29 L233.57 113.95 L235.12 116.77 L236.69 119.23 L238.30 121.87 L239.89 123.89 L241.74 126.00 L243.63 128.43 L245.28 130.59 L246.45 131.75 L246.90 131.96 L248.10 130.59 L249.30 129.18 L250.45 131.10 L251.60 132.95 L252.45 132.35 L254.39 131.26 L256.50 131.01 L258.01 131.45 L259.64 132.19 L261.30 133.27 L262.90 134.63 L264.44 135.97 L265.97 137.70 L267.44 138.89 L268.80 139.69 L270.38 140.04 L271.80 139.20 L273.30 137.72 L274.93 135.51 L276.64 131.74 L278.50 128.01 L280.03 125.52 L281.67 122.87 L283.34 120.64 L285.00 118.91 L286.62 117.30 L288.25 116.57 L289.88 116.30 L291.50 116.51 L293.07 116.71 L294.59 117.26 L296.20 117.76 L298.00 117.87 L299.35 118.14 L300.81 118.15 L302.34 118.20 L303.90 118.87 L305.47 118.83 L307.00 119.12 L308.53 119.64 L310.07 119.94 L311.62 120.73 L313.16 120.99 L314.66 121.15 L316.10 121.48 L317.72 122.06 L319.26 122.84 L320.76 123.12 L322.28 123.11 L323.90 123.66 L325.34 124.09 L326.86 124.86 L328.40 125.12 L329.94 126.13 L331.46 126.94 L332.90 127.08 L334.54 127.59 L336.11 128.08 L337.64 128.61 L339.16 129.23 L340.70 129.72 L342.28 130.46 L343.88 131.16 L345.47 132.19 L347.02 132.59 L348.50 133.17 L350.12 134.01 L351.59 134.42 L353.13 135.44 L355.00 136.83 L356.28 137.98 L357.69 138.47 L359.19 139.58 L360.75 140.73 L362.32 141.97 L363.89 143.14 L365.40 144.17 L366.88 145.30 L368.35 145.73 L369.82 146.81 L371.28 147.35 L372.75 148.20 L374.22 148.92 L375.70 149.73 L377.20 150.76 L378.74 151.53 L380.29 152.20 L381.82 153.31 L383.32 153.92 L384.75 154.53 L386.10 155.22 L387.83 156.15 L389.41 156.70 L390.91 157.86 L392.39 158.50 L393.90 159.38 L395.44 159.88 L396.98 160.56 L398.52 161.42 L400.06 161.66 L401.60 162.28 L403.15 162.78 L404.71 162.85 L406.28 163.15 L407.84 163.70 L409.40 163.77 L410.96 164.29 L412.52 164.53 L414.08 164.75 L415.64 165.17 L417.20 165.38 L418.75 166.37 L420.30 167.01 L421.85 167.74 L423.41 167.92 L425.00 168.65 L426.61 169.24 L428.25 169.40 L429.90 170.06 L431.55 170.13 L433.20 170.87 L434.84 171.61 L436.48 171.59 L438.13 172.31 L439.77 173.03 L441.40 173.30 L443.02 173.64 L444.64 174.06 L446.26 174.60 L447.88 175.57 L449.50 176.22 L451.13 177.08 L452.77 177.47 L454.42 177.90 L456.06 179.05 L457.70 179.52 L459.34 180.51 L460.98 181.05 L462.62 181.99 L464.26 182.69 L465.90 183.00 L467.54 183.86 L469.18 184.48 L470.82 184.91 L472.46 185.97 L474.10 186.40 L475.78 187.02 L477.51 188.24 L479.22 189.58 L480.84 190.76 L482.30 191.12 L484.18 191.64 L485.74 191.37 L487.70 191.72 L489.08 192.43 L490.74 193.50 L492.49 194.78 L494.16 196.01 L495.59 196.99 L496.60 197.83" fill="none" stroke="#00ff00" stroke-width="2.3" stroke-linejoin="round" stroke-linecap="round"/><path d="M147.00 100.40 L147.71 103.11 L148.90 107.60 L150.72 114.42 L152.80 121.80 L154.76 128.21 L156.70 133.50 L158.60 137.00 L160.50 138.70 L162.40 138.07 L164.40 136.00 L165.96 134.26 L167.59 132.11 L169.00 129.60 L170.39 125.09 L171.60 120.00 L173.12 114.83 L174.80 108.90 L176.71 100.97 L178.70 93.30 L180.57 88.10 L182.60 84.20 L184.21 82.03 L185.95 80.29 L187.70 79.00 L189.38 78.19 L191.07 77.82 L192.90 77.80 L194.40 77.97 L195.99 78.31 L197.65 78.88 L199.40 79.68 L200.88 80.60 L202.43 81.77 L204.02 83.05 L205.62 84.33 L207.20 85.57 L208.76 86.60 L210.32 87.58 L211.88 88.60 L213.44 89.67 L215.00 90.75 L216.56 91.86 L218.12 93.11 L219.69 94.55 L221.25 95.78 L222.80 97.09 L224.34 98.70 L225.88 100.02 L227.42 101.69 L228.96 103.23 L230.50 105.01 L232.04 107.13 L233.57 109.49 L235.12 111.92 L236.69 114.30 L238.30 116.66 L239.89 118.50 L241.74 120.41 L243.63 122.25 L245.28 123.84 L246.45 125.18 L246.90 125.40 L248.10 122.70 L249.30 120.08 L250.45 122.96 L251.60 126.09 L252.45 126.07 L254.39 125.46 L256.50 125.52 L258.01 126.20 L259.64 127.35 L261.30 128.53 L262.90 129.43 L264.44 130.98 L265.97 132.06 L267.44 133.31 L268.80 134.24 L270.38 134.04 L271.80 133.53 L273.30 132.38 L274.93 129.78 L276.64 126.07 L278.50 122.86 L280.03 121.02 L281.67 118.31 L283.34 116.39 L285.00 114.90 L286.60 114.03 L288.18 113.51 L289.79 113.72 L291.50 113.59 L292.96 113.75 L294.49 113.97 L296.06 114.21 L297.63 114.62 L299.20 114.93 L300.73 115.56 L302.25 116.07 L303.78 117.17 L305.36 117.86 L307.00 118.89 L308.46 119.01 L309.99 119.82 L311.55 120.60 L313.11 120.99 L314.64 121.73 L316.10 122.03 L317.72 122.62 L319.26 122.99 L320.76 123.77 L322.28 124.39 L323.90 124.81 L325.34 124.90 L326.86 125.64 L328.40 126.26 L329.94 126.82 L331.46 127.29 L332.90 127.87 L334.54 128.49 L336.11 128.95 L337.64 129.59 L339.16 130.40 L340.70 131.06 L342.28 131.74 L343.88 132.73 L345.47 133.59 L347.02 134.47 L348.50 135.21 L350.12 136.31 L351.59 136.81 L353.13 137.78 L355.00 138.95 L356.28 139.79 L357.69 140.80 L359.19 141.92 L360.75 142.73 L362.32 143.90 L363.89 145.03 L365.40 145.79 L366.88 146.76 L368.35 147.34 L369.82 148.12 L371.28 149.06 L372.75 150.21 L374.22 151.00 L375.70 151.91 L377.20 152.66 L378.74 153.28 L380.29 153.99 L381.82 154.58 L383.32 155.09 L384.75 155.83 L386.10 156.69 L387.83 157.23 L389.41 158.32 L390.91 159.27 L392.39 159.47 L393.90 159.95 L395.44 160.96 L396.98 161.34 L398.52 161.96 L400.06 162.59 L401.60 162.97 L403.15 163.31 L404.71 163.85 L406.28 163.80 L407.84 163.95 L409.40 164.54 L410.96 164.98 L412.52 165.48 L414.08 165.56 L415.64 165.94 L417.20 166.26 L418.75 166.66 L420.30 166.61 L421.85 166.93 L423.41 167.02 L425.00 167.13 L426.61 167.45 L428.25 167.90 L429.90 167.85 L431.55 168.00 L433.20 168.28 L434.84 168.58 L436.48 169.72 L438.13 170.28 L439.77 170.62 L441.40 171.17 L443.02 172.06 L444.64 172.04 L446.26 172.17 L447.88 172.43 L449.50 173.11 L451.13 174.08 L452.77 174.61 L454.42 175.45 L456.06 176.48 L457.70 176.86 L459.34 177.25 L460.98 178.02 L462.62 178.63 L464.26 179.46 L465.90 179.94 L467.54 180.79 L469.18 181.61 L470.82 182.33 L472.46 182.93 L474.10 183.58 L475.78 184.57 L477.51 184.97 L479.22 185.78 L480.84 186.17 L482.30 186.55 L484.18 187.09 L485.74 186.64 L487.70 186.84 L489.08 187.51 L490.74 188.82 L492.49 190.13 L494.16 190.72 L495.59 191.53 L496.60 192.38" fill="none" stroke="#738e8e" stroke-width="2.3" stroke-linejoin="round" stroke-linecap="round"/><path d="M147.00 124.40 L148.09 128.39 L149.66 134.18 L151.35 140.26 L152.80 145.10 L154.83 150.62 L156.70 154.20 L158.16 156.61 L159.68 158.58 L161.20 159.40 L162.67 158.68 L164.15 156.80 L165.70 154.20 L167.38 151.02 L169.14 147.11 L170.90 142.50 L172.63 136.84 L174.37 130.48 L176.10 124.40 L177.83 118.76 L179.57 113.40 L181.30 108.90 L182.94 105.55 L184.58 103.05 L186.50 101.10 L187.88 100.12 L189.40 99.34 L190.99 98.76 L192.61 98.38 L194.20 98.20 L195.75 98.28 L197.31 98.62 L198.88 99.14 L200.44 99.74 L202.00 100.41 L203.60 101.04 L205.24 101.77 L206.87 102.63 L208.41 103.46 L209.80 104.28 L211.63 105.51 L213.17 106.78 L215.00 108.20 L216.40 109.14 L217.94 110.01 L219.56 110.94 L221.20 112.00 L222.80 113.21 L224.34 114.66 L225.88 116.27 L227.42 118.00 L228.96 119.80 L230.50 121.69 L232.04 124.03 L233.57 126.26 L235.12 128.72 L236.69 131.30 L238.30 133.62 L239.89 135.47 L241.74 137.62 L243.63 139.72 L245.28 141.54 L246.45 142.93 L246.90 143.56 L248.10 140.32 L249.30 137.00 L250.45 140.26 L251.60 143.58 L252.45 143.30 L254.39 142.85 L256.50 143.26 L258.01 143.99 L259.64 144.59 L261.30 145.44 L262.90 146.23 L264.44 148.07 L265.97 149.73 L267.44 151.05 L268.80 152.06 L270.38 152.31 L271.80 151.73 L273.30 149.50 L274.93 147.12 L276.64 143.40 L278.50 139.90 L280.03 137.47 L281.67 134.99 L283.34 133.02 L285.00 131.72 L286.57 130.49 L288.09 130.35 L289.70 129.75 L291.50 129.74 L292.88 129.82 L294.41 129.74 L296.00 130.11 L297.59 130.91 L299.12 131.11 L300.50 131.21 L302.24 131.67 L303.74 132.36 L305.25 133.03 L307.00 134.04 L308.38 134.94 L309.89 135.16 L311.47 136.18 L313.07 136.57 L314.63 137.63 L316.10 137.81 L317.72 138.65 L319.26 139.42 L320.76 139.37 L322.28 140.18 L323.90 141.00 L325.34 141.42 L326.86 142.18 L328.40 142.58 L329.94 143.26 L331.46 144.22 L332.90 145.09 L334.54 146.00 L336.11 147.27 L337.64 147.77 L339.16 148.73 L340.70 149.83 L342.28 150.59 L343.88 151.06 L345.47 151.94 L347.02 152.80 L348.50 153.56 L350.12 154.76 L351.59 155.18 L353.13 155.87 L355.00 157.33 L356.28 158.32 L357.69 158.91 L359.19 159.64 L360.75 160.74 L362.32 162.09 L363.89 162.70 L365.40 163.43 L366.88 164.44 L368.35 165.12 L369.82 165.74 L371.28 165.92 L372.75 166.89 L374.22 167.20 L375.70 167.63 L377.20 168.54 L378.74 169.23 L380.29 169.79 L381.82 170.45 L383.32 171.81 L384.75 172.87 L386.10 173.35 L387.83 174.05 L389.41 174.63 L390.91 175.83 L392.39 176.23 L393.90 176.73 L395.44 177.78 L396.98 178.75 L398.52 179.62 L400.06 180.22 L401.60 181.01 L403.15 181.86 L404.71 182.11 L406.28 182.66 L407.84 182.49 L409.40 182.84 L410.96 183.03 L412.52 183.65 L414.08 183.63 L415.64 183.96 L417.20 183.90 L418.75 184.10 L420.30 184.63 L421.85 185.10 L423.41 185.18 L425.00 185.46 L426.61 185.96 L428.25 186.00 L429.90 186.09 L431.55 186.24 L433.20 186.60 L434.84 187.01 L436.48 187.31 L438.13 187.60 L439.77 188.41 L441.40 188.89 L443.02 189.77 L444.64 190.36 L446.26 190.53 L447.88 191.07 L449.50 191.19 L451.13 192.02 L452.77 192.35 L454.42 193.10 L456.06 194.00 L457.70 194.35 L459.34 195.22 L460.98 196.03 L462.62 196.08 L464.26 196.81 L465.90 197.52 L467.54 198.01 L469.18 198.62 L470.82 198.99 L472.46 199.30 L474.10 199.77 L475.78 200.92 L477.51 201.73 L479.22 202.18 L480.84 202.59 L482.30 203.26 L484.18 203.49 L485.74 203.46 L487.70 203.65 L489.08 204.15 L490.74 205.51 L492.49 206.39 L494.16 207.52 L495.59 208.59 L496.60 209.09" fill="none" stroke="#e20c9c" stroke-width="2.3" stroke-linejoin="round" stroke-linecap="round"/><path d="M147.00 158.00 L148.28 162.95 L150.20 170.00 L151.79 175.65 L153.60 181.83 L155.40 186.80 L157.10 189.96 L158.80 191.91 L160.50 192.70 L162.27 191.96 L164.06 190.06 L165.70 188.10 L167.85 185.91 L169.60 183.00 L170.72 177.64 L171.60 172.60 L172.51 171.27 L173.50 170.00 L174.59 165.77 L176.10 160.00 L177.60 155.08 L179.38 149.62 L181.30 145.10 L182.75 142.80 L184.26 141.09 L185.88 139.79 L187.70 138.70 L189.08 138.06 L190.58 137.54 L192.16 137.14 L193.76 136.86 L195.33 136.72 L196.80 136.70 L198.40 136.86 L199.89 137.21 L201.36 137.71 L202.89 138.42 L204.60 139.30 L205.97 140.13 L207.46 141.04 L209.01 142.14 L210.59 143.31 L212.14 144.46 L213.63 145.58 L215.00 146.57 L216.73 147.66 L218.31 148.48 L219.81 149.52 L221.29 150.51 L222.80 151.64 L224.37 153.10 L225.94 154.39 L227.51 155.82 L229.04 157.51 L230.50 159.44 L232.13 161.82 L233.61 164.53 L235.16 167.48 L237.00 170.25 L238.41 171.88 L240.16 173.66 L242.04 176.00 L243.86 177.75 L245.42 179.17 L246.50 180.69 L246.90 180.82 L248.10 176.21 L249.30 171.17 L250.45 175.67 L251.60 179.63 L252.45 179.50 L254.39 179.31 L256.50 179.28 L258.01 179.86 L259.64 180.38 L261.30 181.34 L262.90 182.11 L264.43 183.51 L265.93 185.21 L267.39 187.17 L268.80 188.21 L270.58 187.84 L272.27 187.14 L273.90 185.78 L275.45 183.03 L276.94 179.48 L278.50 176.66 L280.09 174.40 L281.75 172.09 L283.70 170.45 L285.11 169.44 L286.70 168.55 L288.35 167.66 L289.98 167.02 L291.50 166.54 L293.01 166.89 L294.27 167.30 L295.77 168.43 L298.00 169.93 L299.07 170.45 L300.25 171.02 L301.54 171.15 L302.92 172.06 L304.36 172.91 L305.86 173.44 L307.39 173.86 L308.94 174.82 L310.48 175.50 L312.01 176.04 L313.50 177.07 L314.89 177.57 L316.34 178.04 L317.85 178.61 L319.39 179.33 L320.93 180.42 L322.46 181.09 L323.96 181.81 L325.41 181.94 L326.79 182.50 L328.08 182.81 L329.26 183.63 L330.30 184.05 L332.56 185.51 L333.95 186.47 L335.14 187.01 L336.80 187.76 L338.10 188.22 L339.56 188.81 L341.12 189.68 L342.72 190.72 L344.30 191.83 L345.82 192.27 L347.20 193.49 L348.93 194.22 L350.51 195.27 L352.00 196.51 L353.48 197.77 L355.00 198.65 L356.52 199.23 L358.00 199.91 L359.50 200.36 L361.08 201.09 L362.80 202.30 L364.14 203.41 L365.56 203.98 L367.03 205.22 L368.55 206.03 L370.08 206.90 L371.60 207.71 L373.10 208.53 L374.58 209.57 L376.06 210.46 L377.55 210.78 L379.04 211.08 L380.53 211.68 L382.01 212.11 L383.50 212.69 L385.01 213.38 L386.55 214.03 L388.10 214.46 L389.63 215.33 L391.13 215.99 L392.56 216.39 L393.90 216.98 L395.59 217.25 L397.11 218.07 L398.55 219.31 L400.01 220.23 L401.60 220.43 L403.05 220.65 L404.58 221.12 L406.14 221.27 L407.71 221.54 L409.24 221.57 L410.70 222.03 L412.36 221.89 L413.98 222.12 L415.54 221.95 L417.04 221.88 L418.50 222.23 L420.15 222.45 L421.64 223.14 L423.19 223.57 L425.00 224.00 L426.35 224.25 L427.74 224.42 L429.22 224.69 L430.81 225.26 L432.56 225.59 L434.50 226.30 L435.80 226.43 L437.21 227.11 L438.72 227.93 L440.30 228.19 L441.91 229.08 L443.52 229.74 L445.12 230.00 L446.67 230.96 L448.14 231.32 L449.50 232.22 L451.26 232.75 L452.86 233.43 L454.36 234.13 L455.81 234.67 L457.28 234.91 L458.83 235.65 L460.50 236.47 L461.92 237.14 L463.43 237.55 L464.99 238.04 L466.59 238.80 L468.19 239.25 L469.77 240.03 L471.30 240.75 L472.75 241.91 L474.10 242.23 L475.98 243.00 L477.77 244.01 L479.44 244.78 L480.99 245.26 L482.38 245.70 L483.60 245.88 L485.69 245.58 L487.70 245.06 L489.01 245.83 L490.64 246.68 L492.41 247.99 L494.11 249.47 L495.58 250.68 L496.60 251.45" fill="none" stroke="#2aefb8" stroke-width="2.3" stroke-linejoin="round" stroke-linecap="round"/><path d="M147.00 229.60 L148.28 232.45 L150.20 237.40 L151.79 242.64 L153.60 248.89 L155.40 254.20 L157.10 258.20 L158.80 261.26 L160.50 262.60 L162.27 261.60 L164.06 258.88 L165.70 255.50 L167.89 249.04 L169.60 242.50 L170.38 238.00 L170.90 234.80 L171.72 233.91 L172.80 232.20 L174.24 225.94 L176.10 217.90 L177.65 212.30 L179.41 206.41 L181.30 201.10 L182.75 197.65 L184.26 194.48 L185.88 191.70 L187.70 189.40 L189.06 188.16 L190.53 187.13 L192.08 186.30 L193.67 185.66 L195.25 185.20 L196.80 184.89 L198.32 184.78 L199.83 184.89 L201.35 185.14 L202.87 185.57 L204.38 186.15 L205.90 186.82 L207.40 187.64 L208.89 188.57 L210.37 189.74 L211.87 190.82 L213.41 191.98 L215.00 193.06 L216.45 193.80 L217.99 194.49 L219.58 195.07 L221.15 195.84 L222.68 196.66 L224.11 197.64 L225.40 198.48 L227.28 200.74 L228.84 203.37 L230.29 206.05 L231.80 208.82 L233.37 212.09 L234.91 215.41 L236.53 218.61 L238.30 221.78 L239.81 223.57 L241.65 225.62 L243.54 227.39 L245.23 228.75 L246.44 229.87 L246.90 230.35 L248.10 223.55 L249.30 216.54 L250.45 222.04 L251.60 227.36 L252.45 227.38 L254.39 226.72 L256.50 227.03 L258.01 227.65 L259.64 228.66 L261.30 229.84 L262.90 231.17 L264.43 232.58 L265.93 234.46 L267.39 235.84 L268.80 236.95 L270.58 236.12 L272.27 234.46 L273.90 231.94 L275.40 228.46 L276.84 223.95 L278.50 219.50 L279.99 215.82 L281.63 212.61 L283.33 209.44 L285.00 207.63 L286.54 206.49 L288.01 205.87 L289.61 205.78 L291.50 205.52 L292.76 205.60 L294.13 205.66 L295.57 205.92 L297.09 206.38 L298.64 206.85 L300.22 207.49 L301.80 208.09 L303.19 208.67 L304.60 208.87 L306.03 209.83 L307.48 210.61 L308.96 211.23 L310.45 211.79 L311.97 212.49 L313.50 212.55 L314.90 213.46 L316.35 213.66 L317.84 214.48 L319.34 214.67 L320.84 215.06 L322.32 215.70 L323.77 215.96 L325.17 216.27 L326.50 217.03 L328.11 218.17 L329.64 219.09 L331.10 219.61 L332.52 220.42 L333.93 221.66 L335.35 222.56 L336.80 223.44 L338.30 223.64 L339.84 223.99 L341.39 224.70 L342.92 225.48 L344.42 226.12 L345.85 226.56 L347.20 226.85 L348.93 227.34 L350.51 228.29 L352.00 229.31 L353.48 230.02 L355.00 230.73 L356.52 231.55 L358.00 232.40 L359.50 233.05 L361.08 233.62 L362.80 233.94 L364.14 234.83 L365.56 235.61 L367.03 236.03 L368.55 236.55 L370.08 236.96 L371.60 237.66 L373.10 238.59 L374.58 239.02 L376.06 239.48 L377.55 240.17 L379.04 240.50 L380.53 240.61 L382.01 241.07 L383.50 241.97 L385.01 242.53 L386.55 243.04 L388.10 243.86 L389.63 244.03 L391.13 244.51 L392.56 245.47 L393.90 245.71 L395.59 246.52 L397.11 247.32 L398.55 247.76 L400.01 248.47 L401.60 248.75 L403.05 249.29 L404.58 249.28 L406.14 249.58 L407.71 249.76 L409.24 249.66 L410.70 250.03 L412.36 250.09 L413.98 250.05 L415.54 250.05 L417.04 250.46 L418.50 250.41 L420.11 250.17 L421.56 250.63 L423.10 250.90 L425.00 251.48 L426.30 251.40 L427.71 251.44 L429.22 251.82 L430.81 251.78 L432.46 251.61 L434.16 251.67 L435.90 252.47 L437.31 252.66 L438.79 253.14 L440.33 254.13 L441.90 254.26 L443.49 255.21 L445.06 255.78 L446.60 256.32 L448.09 257.14 L449.50 257.34 L451.19 258.02 L452.76 258.24 L454.26 258.93 L455.74 258.98 L457.24 259.54 L458.81 259.92 L460.50 260.48 L461.92 261.14 L463.43 261.86 L464.99 262.63 L466.59 262.92 L468.19 263.35 L469.77 263.66 L471.30 264.41 L472.75 265.20 L474.10 265.59 L475.98 266.27 L477.77 266.95 L479.44 267.65 L480.99 267.93 L482.38 268.84 L483.60 268.98 L485.69 268.35 L487.70 267.81 L489.01 268.64 L490.64 269.69 L492.41 270.61 L494.11 271.80 L495.58 272.23 L496.60 273.21" fill="none" stroke="#bafffd" stroke-width="2.2" stroke-linejoin="round" stroke-linecap="round"/><line x1="147.0" y1="34.5" x2="497.5" y2="34.5" stroke="#888" stroke-width="1.1"/><line x1="147.0" y1="310.6" x2="497.5" y2="310.6" stroke="#8a8a8a" stroke-width="1.8"/><line x1="497.5" y1="34.5" x2="497.5" y2="310.6" stroke="#6a6a6a" stroke-width="1.3"/><line x1="147.0" y1="34.5" x2="147.0" y2="310.6" stroke="#8a8a8a" stroke-width="1.8"/><line x1="147.0" y1="89.50" x2="151.0" y2="89.50" stroke="#777" stroke-width="1"/><line x1="497.5" y1="89.50" x2="493.5" y2="89.50" stroke="#777" stroke-width="1"/><line x1="147.0" y1="144.50" x2="151.0" y2="144.50" stroke="#777" stroke-width="1"/><line x1="497.5" y1="144.50" x2="493.5" y2="144.50" stroke="#777" stroke-width="1"/><line x1="147.0" y1="200.50" x2="151.0" y2="200.50" stroke="#777" stroke-width="1"/><line x1="497.5" y1="200.50" x2="493.5" y2="200.50" stroke="#777" stroke-width="1"/><line x1="147.0" y1="255.50" x2="151.0" y2="255.50" stroke="#777" stroke-width="1"/><line x1="497.5" y1="255.50" x2="493.5" y2="255.50" stroke="#777" stroke-width="1"/><line x1="217.10" y1="310.6" x2="217.10" y2="306.6" stroke="#999" stroke-width="1.4"/><line x1="217.10" y1="34.5" x2="217.10" y2="38.5" stroke="#b0b0b0" stroke-width="1.3"/><line x1="287.25" y1="310.6" x2="287.25" y2="306.6" stroke="#999" stroke-width="1.4"/><line x1="287.25" y1="34.5" x2="287.25" y2="38.5" stroke="#b0b0b0" stroke-width="1.3"/><line x1="357.40" y1="310.6" x2="357.40" y2="306.6" stroke="#999" stroke-width="1.4"/><line x1="357.40" y1="34.5" x2="357.40" y2="38.5" stroke="#b0b0b0" stroke-width="1.3"/><line x1="427.50" y1="310.6" x2="427.50" y2="306.6" stroke="#999" stroke-width="1.4"/><line x1="427.50" y1="34.5" x2="427.50" y2="38.5" stroke="#b0b0b0" stroke-width="1.3"/><text x="141" y="40.50" text-anchor="end" class="tk">0.7</text><text x="141" y="93.95" text-anchor="end" class="tk">0.65</text><text x="141" y="147.40" text-anchor="end" class="tk">0.6</text><text x="141" y="200.85" text-anchor="end" class="tk">0.55</text><text x="141" y="254.30" text-anchor="end" class="tk">0.5</text><text x="141" y="307.75" text-anchor="end" class="tk">0.45</text><text x="147.30" y="326.20" text-anchor="middle" class="tk">400</text><text x="217.30" y="326.20" text-anchor="middle" class="tk">500</text><text x="287.30" y="326.20" text-anchor="middle" class="tk">600</text><text x="357.30" y="326.20" text-anchor="middle" class="tk">700</text><text x="427.30" y="326.20" text-anchor="middle" class="tk">800</text><text x="497.30" y="326.20" text-anchor="middle" class="tk">900</text><text x="322" y="344.30" text-anchor="middle" class="ax">Wavelength [nm]</text><text transform="translate(105,167.80) rotate(-90)" text-anchor="middle" class="ax">Reflectance</text><text x="322" y="28.20" text-anchor="middle" class="ti">Spectral signatures</text><text x="283.2" y="372.50" text-anchor="middle" class="lb">(a)</text><rect x="9" y="392.1" width="67" height="342.5" fill="#000"/><clipPath id="fc2"><path d="M41.50 400.10 C41.17 400.35 40.15 401.02 39.50 401.60 C38.85 402.18 38.42 402.52 37.60 403.60 C36.78 404.68 35.73 406.35 34.60 408.10 C33.47 409.85 32.00 411.95 30.80 414.10 C29.60 416.25 28.62 417.68 27.40 421.00 C26.18 424.32 24.57 429.68 23.50 434.00 C22.43 438.32 21.75 442.58 21.00 446.90 C20.25 451.22 19.55 455.58 19.00 459.90 C18.45 464.22 18.13 468.48 17.70 472.80 C17.27 477.12 16.72 482.13 16.40 485.80 C16.08 489.47 16.12 491.92 15.80 494.80 C15.48 497.68 14.72 499.57 14.50 503.10 C14.28 506.63 14.50 511.68 14.50 516.00 C14.50 520.32 14.40 524.68 14.50 529.00 C14.60 533.32 14.78 537.58 15.10 541.90 C15.42 546.22 15.97 550.58 16.40 554.90 C16.83 559.22 17.27 563.48 17.70 567.80 C18.13 572.12 18.57 577.13 19.00 580.80 C19.43 584.47 19.87 586.92 20.30 589.80 C20.73 592.68 20.95 594.57 21.60 598.10 C22.25 601.63 23.33 606.68 24.20 611.00 C25.07 615.32 25.72 619.68 26.80 624.00 C27.88 628.32 29.52 633.02 30.70 636.90 C31.88 640.78 33.32 644.63 33.90 647.30 C34.48 649.97 34.08 650.03 34.20 652.90 C34.32 655.77 34.43 659.32 34.60 664.50 C34.77 669.68 35.10 678.60 35.20 684.00 C35.30 689.40 35.20 694.75 35.20 696.90 L34.20 707.10 L34.00 716.10 L34.60 725.10 L35.20 728.60 L38.40 722.10 L41.70 716.30 L46.60 707.30 L50.10 716.30 L52.00 722.10 L54.00 726.60 L55.30 725.10 L56.60 716.10 L56.60 707.10 L56.60 696.90  C56.60 694.75 56.38 689.40 56.60 684.00 C56.82 678.60 57.15 669.68 57.90 664.50 C58.65 659.32 60.67 655.77 61.10 652.90 C61.53 650.03 60.60 649.97 60.50 647.30 C60.40 644.63 60.28 640.78 60.50 636.90 C60.72 633.02 61.48 628.32 61.80 624.00 C62.12 619.68 62.20 615.32 62.40 611.00 C62.60 606.68 62.78 601.63 63.00 598.10 C63.22 594.57 63.48 592.68 63.70 589.80 C63.92 586.92 64.08 584.47 64.30 580.80 C64.52 577.13 64.78 572.12 65.00 567.80 C65.22 563.48 65.28 559.22 65.60 554.90 C65.92 550.58 66.78 546.22 66.90 541.90 C67.02 537.58 66.30 533.32 66.30 529.00 C66.30 524.68 66.68 520.32 66.90 516.00 C67.12 511.68 67.48 506.63 67.60 503.10 C67.72 499.57 67.72 497.68 67.60 494.80 C67.48 491.92 67.23 489.47 66.90 485.80 C66.57 482.13 66.13 477.12 65.60 472.80 C65.07 468.48 64.33 464.22 63.70 459.90 C63.07 455.58 62.55 451.22 61.80 446.90 C61.05 442.58 60.07 438.32 59.20 434.00 C58.33 429.68 57.47 424.32 56.60 421.00 C55.73 417.68 54.90 416.25 54.00 414.10 C53.10 411.95 52.03 409.85 51.20 408.10 C50.37 406.35 49.57 404.68 49.00 403.60 C48.43 402.52 48.30 402.18 47.80 401.60 C47.30 401.02 46.30 400.35 46.00 400.10 Z"/></clipPath><g clip-path="url(#fc2)" shape-rendering="crispEdges"><rect x="11.80" y="394.65" width="3.35" height="6.80" fill="#96c864"/><rect x="15.10" y="394.65" width="3.35" height="6.80" fill="#96c864"/><rect x="18.40" y="394.65" width="3.35" height="6.80" fill="#00ff00"/><rect x="21.70" y="394.65" width="3.35" height="6.80" fill="#00ff00"/><rect x="25.00" y="394.65" width="3.35" height="6.80" fill="#e62396"/><rect x="28.30" y="394.65" width="3.35" height="6.80" fill="#ff0000"/><rect x="31.60" y="394.65" width="3.35" height="6.80" fill="#ff0000"/><rect x="34.90" y="394.65" width="3.35" height="6.80" fill="#c8ffff"/><rect x="38.20" y="394.65" width="3.35" height="6.80" fill="#0000ff"/><rect x="41.50" y="394.65" width="3.35" height="6.80" fill="#0000ff"/><rect x="44.80" y="394.65" width="3.35" height="6.80" fill="#0000ff"/><rect x="48.10" y="394.65" width="3.35" height="6.80" fill="#00ff00"/><rect x="51.40" y="394.65" width="3.35" height="6.80" fill="#a0a0a0"/><rect x="54.70" y="394.65" width="3.35" height="6.80" fill="#e8ffff"/><rect x="58.00" y="394.65" width="3.35" height="6.80" fill="#ff0000"/><rect x="61.30" y="394.65" width="3.35" height="6.80" fill="#96c864"/><rect x="64.60" y="394.65" width="3.35" height="6.80" fill="#96c864"/><rect x="67.90" y="394.65" width="3.35" height="6.80" fill="#0000ff"/><rect x="11.80" y="401.40" width="3.35" height="6.80" fill="#a0a0a0"/><rect x="15.10" y="401.40" width="3.35" height="6.80" fill="#40e0d0"/><rect x="18.40" y="401.40" width="3.35" height="6.80" fill="#00ff00"/><rect x="21.70" y="401.40" width="3.35" height="6.80" fill="#00ff00"/><rect x="25.00" y="401.40" width="3.35" height="6.80" fill="#a0a0a0"/><rect x="28.30" y="401.40" width="3.35" height="6.80" fill="#c8ffff"/><rect x="31.60" y="401.40" width="3.35" height="6.80" fill="#e8ffff"/><rect x="34.90" y="401.40" width="3.35" height="6.80" fill="#e62396"/><rect x="38.20" y="401.40" width="3.35" height="6.80" fill="#0000ff"/><rect x="41.50" y="401.40" width="3.35" height="6.80" fill="#0000ff"/><rect x="44.80" y="401.40" width="3.35" height="6.80" fill="#40e0d0"/><rect x="48.10" y="401.40" width="3.35" height="6.80" fill="#00ff00"/><rect x="51.40" y="401.40" width="3.35" height="6.80" fill="#c8ffff"/><rect x="54.70" y="401.40" width="3.35" height="6.80" fill="#00ff00"/><rect x="58.00" y="401.40" width="3.35" height="6.80" fill="#a0a0a0"/><rect x="61.30" y="401.40" width="3.35" height="6.80" fill="#96c864"/><rect x="64.60" y="401.40" width="3.35" height="6.80" fill="#ff0000"/><rect x="67.90" y="401.40" width="3.35" height="6.80" fill="#40e0d0"/><rect x="11.80" y="408.15" width="3.35" height="6.80" fill="#e62396"/><rect x="15.10" y="408.15" width="3.35" height="6.80" fill="#e62396"/><rect x="18.40" y="408.15" width="3.35" height="6.80" fill="#ff0000"/><rect x="21.70" y="408.15" width="3.35" height="6.80" fill="#e62396"/><rect x="25.00" y="408.15" width="3.35" height="6.80" fill="#ff0000"/><rect x="28.30" y="408.15" width="3.35" height="6.80" fill="#e62396"/><rect x="31.60" y="408.15" width="3.35" height="6.80" fill="#c8ffff"/><rect x="34.90" y="408.15" width="3.35" height="6.80" fill="#96c864"/><rect x="38.20" y="408.15" width="3.35" height="6.80" fill="#96c864"/><rect x="41.50" y="408.15" width="3.35" height="6.80" fill="#00ff00"/><rect x="44.80" y="408.15" width="3.35" height="6.80" fill="#ff0000"/><rect x="48.10" y="408.15" width="3.35" height="6.80" fill="#ff0000"/><rect x="51.40" y="408.15" width="3.35" height="6.80" fill="#a0a0a0"/><rect x="54.70" y="408.15" width="3.35" height="6.80" fill="#0000ff"/><rect x="58.00" y="408.15" width="3.35" height="6.80" fill="#a0a0a0"/><rect x="61.30" y="408.15" width="3.35" height="6.80" fill="#96c864"/><rect x="64.60" y="408.15" width="3.35" height="6.80" fill="#a0a0a0"/><rect x="67.90" y="408.15" width="3.35" height="6.80" fill="#e62396"/><rect x="11.80" y="414.90" width="3.35" height="6.80" fill="#c8ffff"/><rect x="15.10" y="414.90" width="3.35" height="6.80" fill="#e62396"/><rect x="18.40" y="414.90" width="3.35" height="6.80" fill="#e62396"/><rect x="21.70" y="414.90" width="3.35" height="6.80" fill="#a0a0a0"/><rect x="25.00" y="414.90" width="3.35" height="6.80" fill="#0000ff"/><rect x="28.30" y="414.90" width="3.35" height="6.80" fill="#96c864"/><rect x="31.60" y="414.90" width="3.35" height="6.80" fill="#ff0000"/><rect x="34.90" y="414.90" width="3.35" height="6.80" fill="#a0a0a0"/><rect x="38.20" y="414.90" width="3.35" height="6.80" fill="#40e0d0"/><rect x="41.50" y="414.90" width="3.35" height="6.80" fill="#c8ffff"/><rect x="44.80" y="414.90" width="3.35" height="6.80" fill="#ff0000"/><rect x="48.10" y="414.90" width="3.35" height="6.80" fill="#00ff00"/><rect x="51.40" y="414.90" width="3.35" height="6.80" fill="#e62396"/><rect x="54.70" y="414.90" width="3.35" height="6.80" fill="#40e0d0"/><rect x="58.00" y="414.90" width="3.35" height="6.80" fill="#96c864"/><rect x="61.30" y="414.90" width="3.35" height="6.80" fill="#c8ffff"/><rect x="64.60" y="414.90" width="3.35" height="6.80" fill="#96c864"/><rect x="67.90" y="414.90" width="3.35" height="6.80" fill="#ff0000"/><rect x="11.80" y="421.65" width="3.35" height="6.80" fill="#a0a0a0"/><rect x="15.10" y="421.65" width="3.35" height="6.80" fill="#a0a0a0"/><rect x="18.40" y="421.65" width="3.35" height="6.80" fill="#ff0000"/><rect x="21.70" y="421.65" width="3.35" height="6.80" fill="#0000ff"/><rect x="25.00" y="421.65" width="3.35" height="6.80" fill="#c8ffff"/><rect x="28.30" y="421.65" width="3.35" height="6.80" fill="#40e0d0"/><rect x="31.60" y="421.65" width="3.35" height="6.80" fill="#a0a0a0"/><rect x="34.90" y="421.65" width="3.35" height="6.80" fill="#96c864"/><rect x="38.20" y="421.65" width="3.35" height="6.80" fill="#0000ff"/><rect x="41.50" y="421.65" width="3.35" height="6.80" fill="#00ff00"/><rect x="44.80" y="421.65" width="3.35" height="6.80" fill="#e62396"/><rect x="48.10" y="421.65" width="3.35" height="6.80" fill="#ff0000"/><rect x="51.40" y="421.65" width="3.35" height="6.80" fill="#e62396"/><rect x="54.70" y="421.65" width="3.35" height="6.80" fill="#40e0d0"/><rect x="58.00" y="421.65" width="3.35" height="6.80" fill="#ff0000"/><rect x="61.30" y="421.65" width="3.35" height="6.80" fill="#00ff00"/><rect x="64.60" y="421.65" width="3.35" height="6.80" fill="#ff0000"/><rect x="67.90" y="421.65" width="3.35" height="6.80" fill="#40e0d0"/><rect x="11.80" y="428.40" width="3.35" height="6.80" fill="#40e0d0"/><rect x="15.10" y="428.40" width="3.35" height="6.80" fill="#e62396"/><rect x="18.40" y="428.40" width="3.35" height="6.80" fill="#00ff00"/><rect x="21.70" y="428.40" width="3.35" height="6.80" fill="#0000ff"/><rect x="25.00" y="428.40" width="3.35" height="6.80" fill="#e62396"/><rect x="28.30" y="428.40" width="3.35" height="6.80" fill="#40e0d0"/><rect x="31.60" y="428.40" width="3.35" height="6.80" fill="#40e0d0"/><rect x="34.90" y="428.40" width="3.35" height="6.80" fill="#e62396"/><rect x="38.20" y="428.40" width="3.35" height="6.80" fill="#e8ffff"/><rect x="41.50" y="428.40" width="3.35" height="6.80" fill="#ff0000"/><rect x="44.80" y="428.40" width="3.35" height="6.80" fill="#00ff00"/><rect x="48.10" y="428.40" width="3.35" height="6.80" fill="#c8ffff"/><rect x="51.40" y="428.40" width="3.35" height="6.80" fill="#40e0d0"/><rect x="54.70" y="428.40" width="3.35" height="6.80" fill="#ff0000"/><rect x="58.00" y="428.40" width="3.35" height="6.80" fill="#00ff00"/><rect x="61.30" y="428.40" width="3.35" height="6.80" fill="#96c864"/><rect x="64.60" y="428.40" width="3.35" height="6.80" fill="#00ff00"/><rect x="67.90" y="428.40" width="3.35" height="6.80" fill="#ff0000"/><rect x="11.80" y="435.15" width="3.35" height="6.80" fill="#00ff00"/><rect x="15.10" y="435.15" width="3.35" height="6.80" fill="#40e0d0"/><rect x="18.40" y="435.15" width="3.35" height="6.80" fill="#e62396"/><rect x="21.70" y="435.15" width="3.35" height="6.80" fill="#00ff00"/><rect x="25.00" y="435.15" width="3.35" height="6.80" fill="#40e0d0"/><rect x="28.30" y="435.15" width="3.35" height="6.80" fill="#ff0000"/><rect x="31.60" y="435.15" width="3.35" height="6.80" fill="#e8ffff"/><rect x="34.90" y="435.15" width="3.35" height="6.80" fill="#00ff00"/><rect x="38.20" y="435.15" width="3.35" height="6.80" fill="#96c864"/><rect x="41.50" y="435.15" width="3.35" height="6.80" fill="#00ff00"/><rect x="44.80" y="435.15" width="3.35" height="6.80" fill="#00ff00"/><rect x="48.10" y="435.15" width="3.35" height="6.80" fill="#c8ffff"/><rect x="51.40" y="435.15" width="3.35" height="6.80" fill="#0000ff"/><rect x="54.70" y="435.15" width="3.35" height="6.80" fill="#ff0000"/><rect x="58.00" y="435.15" width="3.35" height="6.80" fill="#00ff00"/><rect x="61.30" y="435.15" width="3.35" height="6.80" fill="#c8ffff"/><rect x="64.60" y="435.15" width="3.35" height="6.80" fill="#00ff00"/><rect x="67.90" y="435.15" width="3.35" height="6.80" fill="#a0a0a0"/><rect x="11.80" y="441.90" width="3.35" height="6.80" fill="#ff0000"/><rect x="15.10" y="441.90" width="3.35" height="6.80" fill="#ff0000"/><rect x="18.40" y="441.90" width="3.35" height="6.80" fill="#e62396"/><rect x="21.70" y="441.90" width="3.35" height="6.80" fill="#ff0000"/><rect x="25.00" y="441.90" width="3.35" height="6.80" fill="#e62396"/><rect x="28.30" y="441.90" width="3.35" height="6.80" fill="#ff0000"/><rect x="31.60" y="441.90" width="3.35" height="6.80" fill="#a0a0a0"/><rect x="34.90" y="441.90" width="3.35" height="6.80" fill="#40e0d0"/><rect x="38.20" y="441.90" width="3.35" height="6.80" fill="#ff0000"/><rect x="41.50" y="441.90" width="3.35" height="6.80" fill="#c8ffff"/><rect x="44.80" y="441.90" width="3.35" height="6.80" fill="#00ff00"/><rect x="48.10" y="441.90" width="3.35" height="6.80" fill="#a0a0a0"/><rect x="51.40" y="441.90" width="3.35" height="6.80" fill="#e62396"/><rect x="54.70" y="441.90" width="3.35" height="6.80" fill="#00ff00"/><rect x="58.00" y="441.90" width="3.35" height="6.80" fill="#0000ff"/><rect x="61.30" y="441.90" width="3.35" height="6.80" fill="#e8ffff"/><rect x="64.60" y="441.90" width="3.35" height="6.80" fill="#a0a0a0"/><rect x="67.90" y="441.90" width="3.35" height="6.80" fill="#00ff00"/><rect x="11.80" y="448.65" width="3.35" height="6.80" fill="#96c864"/><rect x="15.10" y="448.65" width="3.35" height="6.80" fill="#40e0d0"/><rect x="18.40" y="448.65" width="3.35" height="6.80" fill="#0000ff"/><rect x="21.70" y="448.65" width="3.35" height="6.80" fill="#e8ffff"/><rect x="25.00" y="448.65" width="3.35" height="6.80" fill="#00ff00"/><rect x="28.30" y="448.65" width="3.35" height="6.80" fill="#0000ff"/><rect x="31.60" y="448.65" width="3.35" height="6.80" fill="#00ff00"/><rect x="34.90" y="448.65" width="3.35" height="6.80" fill="#00ff00"/><rect x="38.20" y="448.65" width="3.35" height="6.80" fill="#00ff00"/><rect x="41.50" y="448.65" width="3.35" height="6.80" fill="#00ff00"/><rect x="44.80" y="448.65" width="3.35" height="6.80" fill="#00ff00"/><rect x="48.10" y="448.65" width="3.35" height="6.80" fill="#ff0000"/><rect x="51.40" y="448.65" width="3.35" height="6.80" fill="#a0a0a0"/><rect x="54.70" y="448.65" width="3.35" height="6.80" fill="#96c864"/><rect x="58.00" y="448.65" width="3.35" height="6.80" fill="#96c864"/><rect x="61.30" y="448.65" width="3.35" height="6.80" fill="#96c864"/><rect x="64.60" y="448.65" width="3.35" height="6.80" fill="#40e0d0"/><rect x="67.90" y="448.65" width="3.35" height="6.80" fill="#a0a0a0"/><rect x="11.80" y="455.40" width="3.35" height="6.80" fill="#40e0d0"/><rect x="15.10" y="455.40" width="3.35" height="6.80" fill="#0000ff"/><rect x="18.40" y="455.40" width="3.35" height="6.80" fill="#0000ff"/><rect x="21.70" y="455.40" width="3.35" height="6.80" fill="#e62396"/><rect x="25.00" y="455.40" width="3.35" height="6.80" fill="#ff0000"/><rect x="28.30" y="455.40" width="3.35" height="6.80" fill="#40e0d0"/><rect x="31.60" y="455.40" width="3.35" height="6.80" fill="#e8ffff"/><rect x="34.90" y="455.40" width="3.35" height="6.80" fill="#0000ff"/><rect x="38.20" y="455.40" width="3.35" height="6.80" fill="#00ff00"/><rect x="41.50" y="455.40" width="3.35" height="6.80" fill="#00ff00"/><rect x="44.80" y="455.40" width="3.35" height="6.80" fill="#e8ffff"/><rect x="48.10" y="455.40" width="3.35" height="6.80" fill="#00ff00"/><rect x="51.40" y="455.40" width="3.35" height="6.80" fill="#ff0000"/><rect x="54.70" y="455.40" width="3.35" height="6.80" fill="#40e0d0"/><rect x="58.00" y="455.40" width="3.35" height="6.80" fill="#00ff00"/><rect x="61.30" y="455.40" width="3.35" height="6.80" fill="#40e0d0"/><rect x="64.60" y="455.40" width="3.35" height="6.80" fill="#40e0d0"/><rect x="67.90" y="455.40" width="3.35" height="6.80" fill="#40e0d0"/><rect x="11.80" y="462.15" width="3.35" height="6.80" fill="#0000ff"/><rect x="15.10" y="462.15" width="3.35" height="6.80" fill="#a0a0a0"/><rect x="18.40" y="462.15" width="3.35" height="6.80" fill="#c8ffff"/><rect x="21.70" y="462.15" width="3.35" height="6.80" fill="#ff0000"/><rect x="25.00" y="462.15" width="3.35" height="6.80" fill="#40e0d0"/><rect x="28.30" y="462.15" width="3.35" height="6.80" fill="#e62396"/><rect x="31.60" y="462.15" width="3.35" height="6.80" fill="#96c864"/><rect x="34.90" y="462.15" width="3.35" height="6.80" fill="#ff0000"/><rect x="38.20" y="462.15" width="3.35" height="6.80" fill="#a0a0a0"/><rect x="41.50" y="462.15" width="3.35" height="6.80" fill="#a0a0a0"/><rect x="44.80" y="462.15" width="3.35" height="6.80" fill="#0000ff"/><rect x="48.10" y="462.15" width="3.35" height="6.80" fill="#00ff00"/><rect x="51.40" y="462.15" width="3.35" height="6.80" fill="#e8ffff"/><rect x="54.70" y="462.15" width="3.35" height="6.80" fill="#0000ff"/><rect x="58.00" y="462.15" width="3.35" height="6.80" fill="#40e0d0"/><rect x="61.30" y="462.15" width="3.35" height="6.80" fill="#00ff00"/><rect x="64.60" y="462.15" width="3.35" height="6.80" fill="#e62396"/><rect x="67.90" y="462.15" width="3.35" height="6.80" fill="#c8ffff"/><rect x="11.80" y="468.90" width="3.35" height="6.80" fill="#a0a0a0"/><rect x="15.10" y="468.90" width="3.35" height="6.80" fill="#96c864"/><rect x="18.40" y="468.90" width="3.35" height="6.80" fill="#0000ff"/><rect x="21.70" y="468.90" width="3.35" height="6.80" fill="#40e0d0"/><rect x="25.00" y="468.90" width="3.35" height="6.80" fill="#96c864"/><rect x="28.30" y="468.90" width="3.35" height="6.80" fill="#c8ffff"/><rect x="31.60" y="468.90" width="3.35" height="6.80" fill="#00ff00"/><rect x="34.90" y="468.90" width="3.35" height="6.80" fill="#ff0000"/><rect x="38.20" y="468.90" width="3.35" height="6.80" fill="#00ff00"/><rect x="41.50" y="468.90" width="3.35" height="6.80" fill="#c8ffff"/><rect x="44.80" y="468.90" width="3.35" height="6.80" fill="#e62396"/><rect x="48.10" y="468.90" width="3.35" height="6.80" fill="#ff0000"/><rect x="51.40" y="468.90" width="3.35" height="6.80" fill="#00ff00"/><rect x="54.70" y="468.90" width="3.35" height="6.80" fill="#a0a0a0"/><rect x="58.00" y="468.90" width="3.35" height="6.80" fill="#e8ffff"/><rect x="61.30" y="468.90" width="3.35" height="6.80" fill="#a0a0a0"/><rect x="64.60" y="468.90" width="3.35" height="6.80" fill="#40e0d0"/><rect x="67.90" y="468.90" width="3.35" height="6.80" fill="#0000ff"/><rect x="11.80" y="475.65" width="3.35" height="6.80" fill="#00ff00"/><rect x="15.10" y="475.65" width="3.35" height="6.80" fill="#40e0d0"/><rect x="18.40" y="475.65" width="3.35" height="6.80" fill="#c8ffff"/><rect x="21.70" y="475.65" width="3.35" height="6.80" fill="#96c864"/><rect x="25.00" y="475.65" width="3.35" height="6.80" fill="#00ff00"/><rect x="28.30" y="475.65" width="3.35" height="6.80" fill="#ff0000"/><rect x="31.60" y="475.65" width="3.35" height="6.80" fill="#40e0d0"/><rect x="34.90" y="475.65" width="3.35" height="6.80" fill="#0000ff"/><rect x="38.20" y="475.65" width="3.35" height="6.80" fill="#e8ffff"/><rect x="41.50" y="475.65" width="3.35" height="6.80" fill="#a0a0a0"/><rect x="44.80" y="475.65" width="3.35" height="6.80" fill="#ff0000"/><rect x="48.10" y="475.65" width="3.35" height="6.80" fill="#e8ffff"/><rect x="51.40" y="475.65" width="3.35" height="6.80" fill="#00ff00"/><rect x="54.70" y="475.65" width="3.35" height="6.80" fill="#00ff00"/><rect x="58.00" y="475.65" width="3.35" height="6.80" fill="#00ff00"/><rect x="61.30" y="475.65" width="3.35" height="6.80" fill="#e62396"/><rect x="64.60" y="475.65" width="3.35" height="6.80" fill="#ff0000"/><rect x="67.90" y="475.65" width="3.35" height="6.80" fill="#96c864"/><rect x="11.80" y="482.40" width="3.35" height="6.80" fill="#ff0000"/><rect x="15.10" y="482.40" width="3.35" height="6.80" fill="#00ff00"/><rect x="18.40" y="482.40" width="3.35" height="6.80" fill="#ff0000"/><rect x="21.70" y="482.40" width="3.35" height="6.80" fill="#e62396"/><rect x="25.00" y="482.40" width="3.35" height="6.80" fill="#ff0000"/><rect x="28.30" y="482.40" width="3.35" height="6.80" fill="#a0a0a0"/><rect x="31.60" y="482.40" width="3.35" height="6.80" fill="#c8ffff"/><rect x="34.90" y="482.40" width="3.35" height="6.80" fill="#a0a0a0"/><rect x="38.20" y="482.40" width="3.35" height="6.80" fill="#e62396"/><rect x="41.50" y="482.40" width="3.35" height="6.80" fill="#40e0d0"/><rect x="44.80" y="482.40" width="3.35" height="6.80" fill="#0000ff"/><rect x="48.10" y="482.40" width="3.35" height="6.80" fill="#a0a0a0"/><rect x="51.40" y="482.40" width="3.35" height="6.80" fill="#96c864"/><rect x="54.70" y="482.40" width="3.35" height="6.80" fill="#e62396"/><rect x="58.00" y="482.40" width="3.35" height="6.80" fill="#96c864"/><rect x="61.30" y="482.40" width="3.35" height="6.80" fill="#e62396"/><rect x="64.60" y="482.40" width="3.35" height="6.80" fill="#40e0d0"/><rect x="67.90" y="482.40" width="3.35" height="6.80" fill="#40e0d0"/><rect x="11.80" y="489.15" width="3.35" height="6.80" fill="#a0a0a0"/><rect x="15.10" y="489.15" width="3.35" height="6.80" fill="#40e0d0"/><rect x="18.40" y="489.15" width="3.35" height="6.80" fill="#e8ffff"/><rect x="21.70" y="489.15" width="3.35" height="6.80" fill="#ff0000"/><rect x="25.00" y="489.15" width="3.35" height="6.80" fill="#96c864"/><rect x="28.30" y="489.15" width="3.35" height="6.80" fill="#0000ff"/><rect x="31.60" y="489.15" width="3.35" height="6.80" fill="#e62396"/><rect x="34.90" y="489.15" width="3.35" height="6.80" fill="#00ff00"/><rect x="38.20" y="489.15" width="3.35" height="6.80" fill="#c8ffff"/><rect x="41.50" y="489.15" width="3.35" height="6.80" fill="#96c864"/><rect x="44.80" y="489.15" width="3.35" height="6.80" fill="#00ff00"/><rect x="48.10" y="489.15" width="3.35" height="6.80" fill="#e8ffff"/><rect x="51.40" y="489.15" width="3.35" height="6.80" fill="#00ff00"/><rect x="54.70" y="489.15" width="3.35" height="6.80" fill="#00ff00"/><rect x="58.00" y="489.15" width="3.35" height="6.80" fill="#e62396"/><rect x="61.30" y="489.15" width="3.35" height="6.80" fill="#96c864"/><rect x="64.60" y="489.15" width="3.35" height="6.80" fill="#ff0000"/><rect x="67.90" y="489.15" width="3.35" height="6.80" fill="#00ff00"/><rect x="11.80" y="495.90" width="3.35" height="6.80" fill="#40e0d0"/><rect x="15.10" y="495.90" width="3.35" height="6.80" fill="#40e0d0"/><rect x="18.40" y="495.90" width="3.35" height="6.80" fill="#ff0000"/><rect x="21.70" y="495.90" width="3.35" height="6.80" fill="#ff0000"/><rect x="25.00" y="495.90" width="3.35" height="6.80" fill="#a0a0a0"/><rect x="28.30" y="495.90" width="3.35" height="6.80" fill="#0000ff"/><rect x="31.60" y="495.90" width="3.35" height="6.80" fill="#00ff00"/><rect x="34.90" y="495.90" width="3.35" height="6.80" fill="#0000ff"/><rect x="38.20" y="495.90" width="3.35" height="6.80" fill="#96c864"/><rect x="41.50" y="495.90" width="3.35" height="6.80" fill="#ff0000"/><rect x="44.80" y="495.90" width="3.35" height="6.80" fill="#00ff00"/><rect x="48.10" y="495.90" width="3.35" height="6.80" fill="#a0a0a0"/><rect x="51.40" y="495.90" width="3.35" height="6.80" fill="#ff0000"/><rect x="54.70" y="495.90" width="3.35" height="6.80" fill="#40e0d0"/><rect x="58.00" y="495.90" width="3.35" height="6.80" fill="#e62396"/><rect x="61.30" y="495.90" width="3.35" height="6.80" fill="#a0a0a0"/><rect x="64.60" y="495.90" width="3.35" height="6.80" fill="#ff0000"/><rect x="67.90" y="495.90" width="3.35" height="6.80" fill="#e8ffff"/><rect x="11.80" y="502.65" width="3.35" height="6.80" fill="#96c864"/><rect x="15.10" y="502.65" width="3.35" height="6.80" fill="#e62396"/><rect x="18.40" y="502.65" width="3.35" height="6.80" fill="#0000ff"/><rect x="21.70" y="502.65" width="3.35" height="6.80" fill="#00ff00"/><rect x="25.00" y="502.65" width="3.35" height="6.80" fill="#a0a0a0"/><rect x="28.30" y="502.65" width="3.35" height="6.80" fill="#00ff00"/><rect x="31.60" y="502.65" width="3.35" height="6.80" fill="#0000ff"/><rect x="34.90" y="502.65" width="3.35" height="6.80" fill="#e62396"/><rect x="38.20" y="502.65" width="3.35" height="6.80" fill="#40e0d0"/><rect x="41.50" y="502.65" width="3.35" height="6.80" fill="#a0a0a0"/><rect x="44.80" y="502.65" width="3.35" height="6.80" fill="#a0a0a0"/><rect x="48.10" y="502.65" width="3.35" height="6.80" fill="#e8ffff"/><rect x="51.40" y="502.65" width="3.35" height="6.80" fill="#ff0000"/><rect x="54.70" y="502.65" width="3.35" height="6.80" fill="#96c864"/><rect x="58.00" y="502.65" width="3.35" height="6.80" fill="#ff0000"/><rect x="61.30" y="502.65" width="3.35" height="6.80" fill="#a0a0a0"/><rect x="64.60" y="502.65" width="3.35" height="6.80" fill="#96c864"/><rect x="67.90" y="502.65" width="3.35" height="6.80" fill="#c8ffff"/><rect x="11.80" y="509.40" width="3.35" height="6.80" fill="#ff0000"/><rect x="15.10" y="509.40" width="3.35" height="6.80" fill="#ff0000"/><rect x="18.40" y="509.40" width="3.35" height="6.80" fill="#ff0000"/><rect x="21.70" y="509.40" width="3.35" height="6.80" fill="#e62396"/><rect x="25.00" y="509.40" width="3.35" height="6.80" fill="#40e0d0"/><rect x="28.30" y="509.40" width="3.35" height="6.80" fill="#0000ff"/><rect x="31.60" y="509.40" width="3.35" height="6.80" fill="#e8ffff"/><rect x="34.90" y="509.40" width="3.35" height="6.80" fill="#ff0000"/><rect x="38.20" y="509.40" width="3.35" height="6.80" fill="#96c864"/><rect x="41.50" y="509.40" width="3.35" height="6.80" fill="#ff0000"/><rect x="44.80" y="509.40" width="3.35" height="6.80" fill="#00ff00"/><rect x="48.10" y="509.40" width="3.35" height="6.80" fill="#a0a0a0"/><rect x="51.40" y="509.40" width="3.35" height="6.80" fill="#ff0000"/><rect x="54.70" y="509.40" width="3.35" height="6.80" fill="#e62396"/><rect x="58.00" y="509.40" width="3.35" height="6.80" fill="#ff0000"/><rect x="61.30" y="509.40" width="3.35" height="6.80" fill="#e62396"/><rect x="64.60" y="509.40" width="3.35" height="6.80" fill="#00ff00"/><rect x="67.90" y="509.40" width="3.35" height="6.80" fill="#96c864"/><rect x="11.80" y="516.15" width="3.35" height="6.80" fill="#ff0000"/><rect x="15.10" y="516.15" width="3.35" height="6.80" fill="#0000ff"/><rect x="18.40" y="516.15" width="3.35" height="6.80" fill="#e62396"/><rect x="21.70" y="516.15" width="3.35" height="6.80" fill="#e62396"/><rect x="25.00" y="516.15" width="3.35" height="6.80" fill="#00ff00"/><rect x="28.30" y="516.15" width="3.35" height="6.80" fill="#e62396"/><rect x="31.60" y="516.15" width="3.35" height="6.80" fill="#ff0000"/><rect x="34.90" y="516.15" width="3.35" height="6.80" fill="#40e0d0"/><rect x="38.20" y="516.15" width="3.35" height="6.80" fill="#ff0000"/><rect x="41.50" y="516.15" width="3.35" height="6.80" fill="#0000ff"/><rect x="44.80" y="516.15" width="3.35" height="6.80" fill="#40e0d0"/><rect x="48.10" y="516.15" width="3.35" height="6.80" fill="#e62396"/><rect x="51.40" y="516.15" width="3.35" height="6.80" fill="#00ff00"/><rect x="54.70" y="516.15" width="3.35" height="6.80" fill="#0000ff"/><rect x="58.00" y="516.15" width="3.35" height="6.80" fill="#a0a0a0"/><rect x="61.30" y="516.15" width="3.35" height="6.80" fill="#40e0d0"/><rect x="64.60" y="516.15" width="3.35" height="6.80" fill="#0000ff"/><rect x="67.90" y="516.15" width="3.35" height="6.80" fill="#a0a0a0"/><rect x="11.80" y="522.90" width="3.35" height="6.80" fill="#40e0d0"/><rect x="15.10" y="522.90" width="3.35" height="6.80" fill="#96c864"/><rect x="18.40" y="522.90" width="3.35" height="6.80" fill="#00ff00"/><rect x="21.70" y="522.90" width="3.35" height="6.80" fill="#00ff00"/><rect x="25.00" y="522.90" width="3.35" height="6.80" fill="#a0a0a0"/><rect x="28.30" y="522.90" width="3.35" height="6.80" fill="#e62396"/><rect x="31.60" y="522.90" width="3.35" height="6.80" fill="#ff0000"/><rect x="34.90" y="522.90" width="3.35" height="6.80" fill="#ff0000"/><rect x="38.20" y="522.90" width="3.35" height="6.80" fill="#a0a0a0"/><rect x="41.50" y="522.90" width="3.35" height="6.80" fill="#ff0000"/><rect x="44.80" y="522.90" width="3.35" height="6.80" fill="#c8ffff"/><rect x="48.10" y="522.90" width="3.35" height="6.80" fill="#40e0d0"/><rect x="51.40" y="522.90" width="3.35" height="6.80" fill="#a0a0a0"/><rect x="54.70" y="522.90" width="3.35" height="6.80" fill="#00ff00"/><rect x="58.00" y="522.90" width="3.35" height="6.80" fill="#00ff00"/><rect x="61.30" y="522.90" width="3.35" height="6.80" fill="#ff0000"/><rect x="64.60" y="522.90" width="3.35" height="6.80" fill="#40e0d0"/><rect x="67.90" y="522.90" width="3.35" height="6.80" fill="#ff0000"/><rect x="11.80" y="529.65" width="3.35" height="6.80" fill="#e62396"/><rect x="15.10" y="529.65" width="3.35" height="6.80" fill="#e8ffff"/><rect x="18.40" y="529.65" width="3.35" height="6.80" fill="#ff0000"/><rect x="21.70" y="529.65" width="3.35" height="6.80" fill="#e62396"/><rect x="25.00" y="529.65" width="3.35" height="6.80" fill="#e62396"/><rect x="28.30" y="529.65" width="3.35" height="6.80" fill="#00ff00"/><rect x="31.60" y="529.65" width="3.35" height="6.80" fill="#00ff00"/><rect x="34.90" y="529.65" width="3.35" height="6.80" fill="#e8ffff"/><rect x="38.20" y="529.65" width="3.35" height="6.80" fill="#a0a0a0"/><rect x="41.50" y="529.65" width="3.35" height="6.80" fill="#40e0d0"/><rect x="44.80" y="529.65" width="3.35" height="6.80" fill="#00ff00"/><rect x="48.10" y="529.65" width="3.35" height="6.80" fill="#0000ff"/><rect x="51.40" y="529.65" width="3.35" height="6.80" fill="#96c864"/><rect x="54.70" y="529.65" width="3.35" height="6.80" fill="#c8ffff"/><rect x="58.00" y="529.65" width="3.35" height="6.80" fill="#0000ff"/><rect x="61.30" y="529.65" width="3.35" height="6.80" fill="#e8ffff"/><rect x="64.60" y="529.65" width="3.35" height="6.80" fill="#a0a0a0"/><rect x="67.90" y="529.65" width="3.35" height="6.80" fill="#e62396"/><rect x="11.80" y="536.40" width="3.35" height="6.80" fill="#c8ffff"/><rect x="15.10" y="536.40" width="3.35" height="6.80" fill="#ff0000"/><rect x="18.40" y="536.40" width="3.35" height="6.80" fill="#a0a0a0"/><rect x="21.70" y="536.40" width="3.35" height="6.80" fill="#0000ff"/><rect x="25.00" y="536.40" width="3.35" height="6.80" fill="#96c864"/><rect x="28.30" y="536.40" width="3.35" height="6.80" fill="#00ff00"/><rect x="31.60" y="536.40" width="3.35" height="6.80" fill="#e62396"/><rect x="34.90" y="536.40" width="3.35" height="6.80" fill="#c8ffff"/><rect x="38.20" y="536.40" width="3.35" height="6.80" fill="#ff0000"/><rect x="41.50" y="536.40" width="3.35" height="6.80" fill="#e62396"/><rect x="44.80" y="536.40" width="3.35" height="6.80" fill="#ff0000"/><rect x="48.10" y="536.40" width="3.35" height="6.80" fill="#e8ffff"/><rect x="51.40" y="536.40" width="3.35" height="6.80" fill="#e62396"/><rect x="54.70" y="536.40" width="3.35" height="6.80" fill="#00ff00"/><rect x="58.00" y="536.40" width="3.35" height="6.80" fill="#ff0000"/><rect x="61.30" y="536.40" width="3.35" height="6.80" fill="#e8ffff"/><rect x="64.60" y="536.40" width="3.35" height="6.80" fill="#0000ff"/><rect x="67.90" y="536.40" width="3.35" height="6.80" fill="#e62396"/><rect x="11.80" y="543.15" width="3.35" height="6.80" fill="#e62396"/><rect x="15.10" y="543.15" width="3.35" height="6.80" fill="#0000ff"/><rect x="18.40" y="543.15" width="3.35" height="6.80" fill="#c8ffff"/><rect x="21.70" y="543.15" width="3.35" height="6.80" fill="#40e0d0"/><rect x="25.00" y="543.15" width="3.35" height="6.80" fill="#a0a0a0"/><rect x="28.30" y="543.15" width="3.35" height="6.80" fill="#40e0d0"/><rect x="31.60" y="543.15" width="3.35" height="6.80" fill="#40e0d0"/><rect x="34.90" y="543.15" width="3.35" height="6.80" fill="#96c864"/><rect x="38.20" y="543.15" width="3.35" height="6.80" fill="#00ff00"/><rect x="41.50" y="543.15" width="3.35" height="6.80" fill="#e62396"/><rect x="44.80" y="543.15" width="3.35" height="6.80" fill="#c8ffff"/><rect x="48.10" y="543.15" width="3.35" height="6.80" fill="#c8ffff"/><rect x="51.40" y="543.15" width="3.35" height="6.80" fill="#c8ffff"/><rect x="54.70" y="543.15" width="3.35" height="6.80" fill="#00ff00"/><rect x="58.00" y="543.15" width="3.35" height="6.80" fill="#a0a0a0"/><rect x="61.30" y="543.15" width="3.35" height="6.80" fill="#00ff00"/><rect x="64.60" y="543.15" width="3.35" height="6.80" fill="#a0a0a0"/><rect x="67.90" y="543.15" width="3.35" height="6.80" fill="#40e0d0"/><rect x="11.80" y="549.90" width="3.35" height="6.80" fill="#e62396"/><rect x="15.10" y="549.90" width="3.35" height="6.80" fill="#96c864"/><rect x="18.40" y="549.90" width="3.35" height="6.80" fill="#a0a0a0"/><rect x="21.70" y="549.90" width="3.35" height="6.80" fill="#ff0000"/><rect x="25.00" y="549.90" width="3.35" height="6.80" fill="#96c864"/><rect x="28.30" y="549.90" width="3.35" height="6.80" fill="#c8ffff"/><rect x="31.60" y="549.90" width="3.35" height="6.80" fill="#00ff00"/><rect x="34.90" y="549.90" width="3.35" height="6.80" fill="#40e0d0"/><rect x="38.20" y="549.90" width="3.35" height="6.80" fill="#40e0d0"/><rect x="41.50" y="549.90" width="3.35" height="6.80" fill="#ff0000"/><rect x="44.80" y="549.90" width="3.35" height="6.80" fill="#c8ffff"/><rect x="48.10" y="549.90" width="3.35" height="6.80" fill="#c8ffff"/><rect x="51.40" y="549.90" width="3.35" height="6.80" fill="#e62396"/><rect x="54.70" y="549.90" width="3.35" height="6.80" fill="#40e0d0"/><rect x="58.00" y="549.90" width="3.35" height="6.80" fill="#e62396"/><rect x="61.30" y="549.90" width="3.35" height="6.80" fill="#ff0000"/><rect x="64.60" y="549.90" width="3.35" height="6.80" fill="#e8ffff"/><rect x="67.90" y="549.90" width="3.35" height="6.80" fill="#e62396"/><rect x="11.80" y="556.65" width="3.35" height="6.80" fill="#c8ffff"/><rect x="15.10" y="556.65" width="3.35" height="6.80" fill="#e62396"/><rect x="18.40" y="556.65" width="3.35" height="6.80" fill="#96c864"/><rect x="21.70" y="556.65" width="3.35" height="6.80" fill="#a0a0a0"/><rect x="25.00" y="556.65" width="3.35" height="6.80" fill="#ff0000"/><rect x="28.30" y="556.65" width="3.35" height="6.80" fill="#96c864"/><rect x="31.60" y="556.65" width="3.35" height="6.80" fill="#ff0000"/><rect x="34.90" y="556.65" width="3.35" height="6.80" fill="#ff0000"/><rect x="38.20" y="556.65" width="3.35" height="6.80" fill="#e62396"/><rect x="41.50" y="556.65" width="3.35" height="6.80" fill="#96c864"/><rect x="44.80" y="556.65" width="3.35" height="6.80" fill="#ff0000"/><rect x="48.10" y="556.65" width="3.35" height="6.80" fill="#96c864"/><rect x="51.40" y="556.65" width="3.35" height="6.80" fill="#40e0d0"/><rect x="54.70" y="556.65" width="3.35" height="6.80" fill="#0000ff"/><rect x="58.00" y="556.65" width="3.35" height="6.80" fill="#ff0000"/><rect x="61.30" y="556.65" width="3.35" height="6.80" fill="#c8ffff"/><rect x="64.60" y="556.65" width="3.35" height="6.80" fill="#e8ffff"/><rect x="67.90" y="556.65" width="3.35" height="6.80" fill="#40e0d0"/><rect x="11.80" y="563.40" width="3.35" height="6.80" fill="#96c864"/><rect x="15.10" y="563.40" width="3.35" height="6.80" fill="#c8ffff"/><rect x="18.40" y="563.40" width="3.35" height="6.80" fill="#a0a0a0"/><rect x="21.70" y="563.40" width="3.35" height="6.80" fill="#e62396"/><rect x="25.00" y="563.40" width="3.35" height="6.80" fill="#40e0d0"/><rect x="28.30" y="563.40" width="3.35" height="6.80" fill="#96c864"/><rect x="31.60" y="563.40" width="3.35" height="6.80" fill="#00ff00"/><rect x="34.90" y="563.40" width="3.35" height="6.80" fill="#00ff00"/><rect x="38.20" y="563.40" width="3.35" height="6.80" fill="#c8ffff"/><rect x="41.50" y="563.40" width="3.35" height="6.80" fill="#c8ffff"/><rect x="44.80" y="563.40" width="3.35" height="6.80" fill="#96c864"/><rect x="48.10" y="563.40" width="3.35" height="6.80" fill="#e62396"/><rect x="51.40" y="563.40" width="3.35" height="6.80" fill="#ff0000"/><rect x="54.70" y="563.40" width="3.35" height="6.80" fill="#a0a0a0"/><rect x="58.00" y="563.40" width="3.35" height="6.80" fill="#0000ff"/><rect x="61.30" y="563.40" width="3.35" height="6.80" fill="#40e0d0"/><rect x="64.60" y="563.40" width="3.35" height="6.80" fill="#e62396"/><rect x="67.90" y="563.40" width="3.35" height="6.80" fill="#e8ffff"/><rect x="11.80" y="570.15" width="3.35" height="6.80" fill="#40e0d0"/><rect x="15.10" y="570.15" width="3.35" height="6.80" fill="#ff0000"/><rect x="18.40" y="570.15" width="3.35" height="6.80" fill="#00ff00"/><rect x="21.70" y="570.15" width="3.35" height="6.80" fill="#c8ffff"/><rect x="25.00" y="570.15" width="3.35" height="6.80" fill="#96c864"/><rect x="28.30" y="570.15" width="3.35" height="6.80" fill="#00ff00"/><rect x="31.60" y="570.15" width="3.35" height="6.80" fill="#00ff00"/><rect x="34.90" y="570.15" width="3.35" height="6.80" fill="#40e0d0"/><rect x="38.20" y="570.15" width="3.35" height="6.80" fill="#40e0d0"/><rect x="41.50" y="570.15" width="3.35" height="6.80" fill="#e8ffff"/><rect x="44.80" y="570.15" width="3.35" height="6.80" fill="#40e0d0"/><rect x="48.10" y="570.15" width="3.35" height="6.80" fill="#c8ffff"/><rect x="51.40" y="570.15" width="3.35" height="6.80" fill="#40e0d0"/><rect x="54.70" y="570.15" width="3.35" height="6.80" fill="#40e0d0"/><rect x="58.00" y="570.15" width="3.35" height="6.80" fill="#0000ff"/><rect x="61.30" y="570.15" width="3.35" height="6.80" fill="#c8ffff"/><rect x="64.60" y="570.15" width="3.35" height="6.80" fill="#c8ffff"/><rect x="67.90" y="570.15" width="3.35" height="6.80" fill="#ff0000"/><rect x="11.80" y="576.90" width="3.35" height="6.80" fill="#00ff00"/><rect x="15.10" y="576.90" width="3.35" height="6.80" fill="#00ff00"/><rect x="18.40" y="576.90" width="3.35" height="6.80" fill="#e62396"/><rect x="21.70" y="576.90" width="3.35" height="6.80" fill="#e8ffff"/><rect x="25.00" y="576.90" width="3.35" height="6.80" fill="#e62396"/><rect x="28.30" y="576.90" width="3.35" height="6.80" fill="#00ff00"/><rect x="31.60" y="576.90" width="3.35" height="6.80" fill="#0000ff"/><rect x="34.90" y="576.90" width="3.35" height="6.80" fill="#e62396"/><rect x="38.20" y="576.90" width="3.35" height="6.80" fill="#c8ffff"/><rect x="41.50" y="576.90" width="3.35" height="6.80" fill="#ff0000"/><rect x="44.80" y="576.90" width="3.35" height="6.80" fill="#0000ff"/><rect x="48.10" y="576.90" width="3.35" height="6.80" fill="#e8ffff"/><rect x="51.40" y="576.90" width="3.35" height="6.80" fill="#96c864"/><rect x="54.70" y="576.90" width="3.35" height="6.80" fill="#e8ffff"/><rect x="58.00" y="576.90" width="3.35" height="6.80" fill="#a0a0a0"/><rect x="61.30" y="576.90" width="3.35" height="6.80" fill="#0000ff"/><rect x="64.60" y="576.90" width="3.35" height="6.80" fill="#c8ffff"/><rect x="67.90" y="576.90" width="3.35" height="6.80" fill="#e62396"/><rect x="11.80" y="583.65" width="3.35" height="6.80" fill="#0000ff"/><rect x="15.10" y="583.65" width="3.35" height="6.80" fill="#0000ff"/><rect x="18.40" y="583.65" width="3.35" height="6.80" fill="#0000ff"/><rect x="21.70" y="583.65" width="3.35" height="6.80" fill="#96c864"/><rect x="25.00" y="583.65" width="3.35" height="6.80" fill="#96c864"/><rect x="28.30" y="583.65" width="3.35" height="6.80" fill="#e62396"/><rect x="31.60" y="583.65" width="3.35" height="6.80" fill="#a0a0a0"/><rect x="34.90" y="583.65" width="3.35" height="6.80" fill="#e8ffff"/><rect x="38.20" y="583.65" width="3.35" height="6.80" fill="#0000ff"/><rect x="41.50" y="583.65" width="3.35" height="6.80" fill="#00ff00"/><rect x="44.80" y="583.65" width="3.35" height="6.80" fill="#00ff00"/><rect x="48.10" y="583.65" width="3.35" height="6.80" fill="#96c864"/><rect x="51.40" y="583.65" width="3.35" height="6.80" fill="#00ff00"/><rect x="54.70" y="583.65" width="3.35" height="6.80" fill="#96c864"/><rect x="58.00" y="583.65" width="3.35" height="6.80" fill="#ff0000"/><rect x="61.30" y="583.65" width="3.35" height="6.80" fill="#96c864"/><rect x="64.60" y="583.65" width="3.35" height="6.80" fill="#00ff00"/><rect x="67.90" y="583.65" width="3.35" height="6.80" fill="#c8ffff"/><rect x="11.80" y="590.40" width="3.35" height="6.80" fill="#e62396"/><rect x="15.10" y="590.40" width="3.35" height="6.80" fill="#00ff00"/><rect x="18.40" y="590.40" width="3.35" height="6.80" fill="#00ff00"/><rect x="21.70" y="590.40" width="3.35" height="6.80" fill="#c8ffff"/><rect x="25.00" y="590.40" width="3.35" height="6.80" fill="#40e0d0"/><rect x="28.30" y="590.40" width="3.35" height="6.80" fill="#00ff00"/><rect x="31.60" y="590.40" width="3.35" height="6.80" fill="#ff0000"/><rect x="34.90" y="590.40" width="3.35" height="6.80" fill="#00ff00"/><rect x="38.20" y="590.40" width="3.35" height="6.80" fill="#96c864"/><rect x="41.50" y="590.40" width="3.35" height="6.80" fill="#ff0000"/><rect x="44.80" y="590.40" width="3.35" height="6.80" fill="#00ff00"/><rect x="48.10" y="590.40" width="3.35" height="6.80" fill="#e62396"/><rect x="51.40" y="590.40" width="3.35" height="6.80" fill="#40e0d0"/><rect x="54.70" y="590.40" width="3.35" height="6.80" fill="#a0a0a0"/><rect x="58.00" y="590.40" width="3.35" height="6.80" fill="#0000ff"/><rect x="61.30" y="590.40" width="3.35" height="6.80" fill="#00ff00"/><rect x="64.60" y="590.40" width="3.35" height="6.80" fill="#a0a0a0"/><rect x="67.90" y="590.40" width="3.35" height="6.80" fill="#00ff00"/><rect x="11.80" y="597.15" width="3.35" height="6.80" fill="#40e0d0"/><rect x="15.10" y="597.15" width="3.35" height="6.80" fill="#96c864"/><rect x="18.40" y="597.15" width="3.35" height="6.80" fill="#e62396"/><rect x="21.70" y="597.15" width="3.35" height="6.80" fill="#0000ff"/><rect x="25.00" y="597.15" width="3.35" height="6.80" fill="#ff0000"/><rect x="28.30" y="597.15" width="3.35" height="6.80" fill="#e62396"/><rect x="31.60" y="597.15" width="3.35" height="6.80" fill="#00ff00"/><rect x="34.90" y="597.15" width="3.35" height="6.80" fill="#a0a0a0"/><rect x="38.20" y="597.15" width="3.35" height="6.80" fill="#00ff00"/><rect x="41.50" y="597.15" width="3.35" height="6.80" fill="#00ff00"/><rect x="44.80" y="597.15" width="3.35" height="6.80" fill="#00ff00"/><rect x="48.10" y="597.15" width="3.35" height="6.80" fill="#40e0d0"/><rect x="51.40" y="597.15" width="3.35" height="6.80" fill="#00ff00"/><rect x="54.70" y="597.15" width="3.35" height="6.80" fill="#40e0d0"/><rect x="58.00" y="597.15" width="3.35" height="6.80" fill="#c8ffff"/><rect x="61.30" y="597.15" width="3.35" height="6.80" fill="#0000ff"/><rect x="64.60" y="597.15" width="3.35" height="6.80" fill="#e62396"/><rect x="67.90" y="597.15" width="3.35" height="6.80" fill="#e62396"/><rect x="11.80" y="603.90" width="3.35" height="6.80" fill="#ff0000"/><rect x="15.10" y="603.90" width="3.35" height="6.80" fill="#a0a0a0"/><rect x="18.40" y="603.90" width="3.35" height="6.80" fill="#96c864"/><rect x="21.70" y="603.90" width="3.35" height="6.80" fill="#00ff00"/><rect x="25.00" y="603.90" width="3.35" height="6.80" fill="#00ff00"/><rect x="28.30" y="603.90" width="3.35" height="6.80" fill="#e62396"/><rect x="31.60" y="603.90" width="3.35" height="6.80" fill="#0000ff"/><rect x="34.90" y="603.90" width="3.35" height="6.80" fill="#40e0d0"/><rect x="38.20" y="603.90" width="3.35" height="6.80" fill="#c8ffff"/><rect x="41.50" y="603.90" width="3.35" height="6.80" fill="#40e0d0"/><rect x="44.80" y="603.90" width="3.35" height="6.80" fill="#a0a0a0"/><rect x="48.10" y="603.90" width="3.35" height="6.80" fill="#e8ffff"/><rect x="51.40" y="603.90" width="3.35" height="6.80" fill="#e8ffff"/><rect x="54.70" y="603.90" width="3.35" height="6.80" fill="#e62396"/><rect x="58.00" y="603.90" width="3.35" height="6.80" fill="#e62396"/><rect x="61.30" y="603.90" width="3.35" height="6.80" fill="#0000ff"/><rect x="64.60" y="603.90" width="3.35" height="6.80" fill="#a0a0a0"/><rect x="67.90" y="603.90" width="3.35" height="6.80" fill="#40e0d0"/><rect x="11.80" y="610.65" width="3.35" height="6.80" fill="#ff0000"/><rect x="15.10" y="610.65" width="3.35" height="6.80" fill="#96c864"/><rect x="18.40" y="610.65" width="3.35" height="6.80" fill="#40e0d0"/><rect x="21.70" y="610.65" width="3.35" height="6.80" fill="#ff0000"/><rect x="25.00" y="610.65" width="3.35" height="6.80" fill="#ff0000"/><rect x="28.30" y="610.65" width="3.35" height="6.80" fill="#ff0000"/><rect x="31.60" y="610.65" width="3.35" height="6.80" fill="#00ff00"/><rect x="34.90" y="610.65" width="3.35" height="6.80" fill="#0000ff"/><rect x="38.20" y="610.65" width="3.35" height="6.80" fill="#40e0d0"/><rect x="41.50" y="610.65" width="3.35" height="6.80" fill="#40e0d0"/><rect x="44.80" y="610.65" width="3.35" height="6.80" fill="#0000ff"/><rect x="48.10" y="610.65" width="3.35" height="6.80" fill="#ff0000"/><rect x="51.40" y="610.65" width="3.35" height="6.80" fill="#0000ff"/><rect x="54.70" y="610.65" width="3.35" height="6.80" fill="#ff0000"/><rect x="58.00" y="610.65" width="3.35" height="6.80" fill="#ff0000"/><rect x="61.30" y="610.65" width="3.35" height="6.80" fill="#a0a0a0"/><rect x="64.60" y="610.65" width="3.35" height="6.80" fill="#00ff00"/><rect x="67.90" y="610.65" width="3.35" height="6.80" fill="#e62396"/><rect x="11.80" y="617.40" width="3.35" height="6.80" fill="#e62396"/><rect x="15.10" y="617.40" width="3.35" height="6.80" fill="#e62396"/><rect x="18.40" y="617.40" width="3.35" height="6.80" fill="#0000ff"/><rect x="21.70" y="617.40" width="3.35" height="6.80" fill="#00ff00"/><rect x="25.00" y="617.40" width="3.35" height="6.80" fill="#40e0d0"/><rect x="28.30" y="617.40" width="3.35" height="6.80" fill="#00ff00"/><rect x="31.60" y="617.40" width="3.35" height="6.80" fill="#ff0000"/><rect x="34.90" y="617.40" width="3.35" height="6.80" fill="#0000ff"/><rect x="38.20" y="617.40" width="3.35" height="6.80" fill="#40e0d0"/><rect x="41.50" y="617.40" width="3.35" height="6.80" fill="#96c864"/><rect x="44.80" y="617.40" width="3.35" height="6.80" fill="#96c864"/><rect x="48.10" y="617.40" width="3.35" height="6.80" fill="#e62396"/><rect x="51.40" y="617.40" width="3.35" height="6.80" fill="#a0a0a0"/><rect x="54.70" y="617.40" width="3.35" height="6.80" fill="#40e0d0"/><rect x="58.00" y="617.40" width="3.35" height="6.80" fill="#40e0d0"/><rect x="61.30" y="617.40" width="3.35" height="6.80" fill="#e62396"/><rect x="64.60" y="617.40" width="3.35" height="6.80" fill="#ff0000"/><rect x="67.90" y="617.40" width="3.35" height="6.80" fill="#40e0d0"/><rect x="11.80" y="624.15" width="3.35" height="6.80" fill="#e62396"/><rect x="15.10" y="624.15" width="3.35" height="6.80" fill="#0000ff"/><rect x="18.40" y="624.15" width="3.35" height="6.80" fill="#e8ffff"/><rect x="21.70" y="624.15" width="3.35" height="6.80" fill="#e8ffff"/><rect x="25.00" y="624.15" width="3.35" height="6.80" fill="#ff0000"/><rect x="28.30" y="624.15" width="3.35" height="6.80" fill="#a0a0a0"/><rect x="31.60" y="624.15" width="3.35" height="6.80" fill="#ff0000"/><rect x="34.90" y="624.15" width="3.35" height="6.80" fill="#00ff00"/><rect x="38.20" y="624.15" width="3.35" height="6.80" fill="#ff0000"/><rect x="41.50" y="624.15" width="3.35" height="6.80" fill="#40e0d0"/><rect x="44.80" y="624.15" width="3.35" height="6.80" fill="#96c864"/><rect x="48.10" y="624.15" width="3.35" height="6.80" fill="#40e0d0"/><rect x="51.40" y="624.15" width="3.35" height="6.80" fill="#c8ffff"/><rect x="54.70" y="624.15" width="3.35" height="6.80" fill="#0000ff"/><rect x="58.00" y="624.15" width="3.35" height="6.80" fill="#e8ffff"/><rect x="61.30" y="624.15" width="3.35" height="6.80" fill="#0000ff"/><rect x="64.60" y="624.15" width="3.35" height="6.80" fill="#96c864"/><rect x="67.90" y="624.15" width="3.35" height="6.80" fill="#40e0d0"/><rect x="11.80" y="630.90" width="3.35" height="6.80" fill="#e62396"/><rect x="15.10" y="630.90" width="3.35" height="6.80" fill="#ff0000"/><rect x="18.40" y="630.90" width="3.35" height="6.80" fill="#e62396"/><rect x="21.70" y="630.90" width="3.35" height="6.80" fill="#a0a0a0"/><rect x="25.00" y="630.90" width="3.35" height="6.80" fill="#a0a0a0"/><rect x="28.30" y="630.90" width="3.35" height="6.80" fill="#c8ffff"/><rect x="31.60" y="630.90" width="3.35" height="6.80" fill="#a0a0a0"/><rect x="34.90" y="630.90" width="3.35" height="6.80" fill="#40e0d0"/><rect x="38.20" y="630.90" width="3.35" height="6.80" fill="#40e0d0"/><rect x="41.50" y="630.90" width="3.35" height="6.80" fill="#a0a0a0"/><rect x="44.80" y="630.90" width="3.35" height="6.80" fill="#40e0d0"/><rect x="48.10" y="630.90" width="3.35" height="6.80" fill="#a0a0a0"/><rect x="51.40" y="630.90" width="3.35" height="6.80" fill="#0000ff"/><rect x="54.70" y="630.90" width="3.35" height="6.80" fill="#c8ffff"/><rect x="58.00" y="630.90" width="3.35" height="6.80" fill="#40e0d0"/><rect x="61.30" y="630.90" width="3.35" height="6.80" fill="#0000ff"/><rect x="64.60" y="630.90" width="3.35" height="6.80" fill="#e62396"/><rect x="67.90" y="630.90" width="3.35" height="6.80" fill="#40e0d0"/><rect x="11.80" y="637.65" width="3.35" height="6.80" fill="#0000ff"/><rect x="15.10" y="637.65" width="3.35" height="6.80" fill="#ff0000"/><rect x="18.40" y="637.65" width="3.35" height="6.80" fill="#e62396"/><rect x="21.70" y="637.65" width="3.35" height="6.80" fill="#ff0000"/><rect x="25.00" y="637.65" width="3.35" height="6.80" fill="#c8ffff"/><rect x="28.30" y="637.65" width="3.35" height="6.80" fill="#40e0d0"/><rect x="31.60" y="637.65" width="3.35" height="6.80" fill="#e62396"/><rect x="34.90" y="637.65" width="3.35" height="6.80" fill="#40e0d0"/><rect x="38.20" y="637.65" width="3.35" height="6.80" fill="#00ff00"/><rect x="41.50" y="637.65" width="3.35" height="6.80" fill="#e62396"/><rect x="44.80" y="637.65" width="3.35" height="6.80" fill="#40e0d0"/><rect x="48.10" y="637.65" width="3.35" height="6.80" fill="#c8ffff"/><rect x="51.40" y="637.65" width="3.35" height="6.80" fill="#c8ffff"/><rect x="54.70" y="637.65" width="3.35" height="6.80" fill="#40e0d0"/><rect x="58.00" y="637.65" width="3.35" height="6.80" fill="#ff0000"/><rect x="61.30" y="637.65" width="3.35" height="6.80" fill="#c8ffff"/><rect x="64.60" y="637.65" width="3.35" height="6.80" fill="#a0a0a0"/><rect x="67.90" y="637.65" width="3.35" height="6.80" fill="#e8ffff"/><rect x="11.80" y="644.40" width="3.35" height="6.80" fill="#e62396"/><rect x="15.10" y="644.40" width="3.35" height="6.80" fill="#00ff00"/><rect x="18.40" y="644.40" width="3.35" height="6.80" fill="#0000ff"/><rect x="21.70" y="644.40" width="3.35" height="6.80" fill="#00ff00"/><rect x="25.00" y="644.40" width="3.35" height="6.80" fill="#00ff00"/><rect x="28.30" y="644.40" width="3.35" height="6.80" fill="#0000ff"/><rect x="31.60" y="644.40" width="3.35" height="6.80" fill="#c8ffff"/><rect x="34.90" y="644.40" width="3.35" height="6.80" fill="#00ff00"/><rect x="38.20" y="644.40" width="3.35" height="6.80" fill="#0000ff"/><rect x="41.50" y="644.40" width="3.35" height="6.80" fill="#96c864"/><rect x="44.80" y="644.40" width="3.35" height="6.80" fill="#ff0000"/><rect x="48.10" y="644.40" width="3.35" height="6.80" fill="#a0a0a0"/><rect x="51.40" y="644.40" width="3.35" height="6.80" fill="#e62396"/><rect x="54.70" y="644.40" width="3.35" height="6.80" fill="#96c864"/><rect x="58.00" y="644.40" width="3.35" height="6.80" fill="#00ff00"/><rect x="61.30" y="644.40" width="3.35" height="6.80" fill="#40e0d0"/><rect x="64.60" y="644.40" width="3.35" height="6.80" fill="#96c864"/><rect x="67.90" y="644.40" width="3.35" height="6.80" fill="#96c864"/><rect x="11.80" y="651.15" width="3.35" height="6.80" fill="#40e0d0"/><rect x="15.10" y="651.15" width="3.35" height="6.80" fill="#ff0000"/><rect x="18.40" y="651.15" width="3.35" height="6.80" fill="#e62396"/><rect x="21.70" y="651.15" width="3.35" height="6.80" fill="#0000ff"/><rect x="25.00" y="651.15" width="3.35" height="6.80" fill="#ff0000"/><rect x="28.30" y="651.15" width="3.35" height="6.80" fill="#0000ff"/><rect x="31.60" y="651.15" width="3.35" height="6.80" fill="#40e0d0"/><rect x="34.90" y="651.15" width="3.35" height="6.80" fill="#40e0d0"/><rect x="38.20" y="651.15" width="3.35" height="6.80" fill="#00ff00"/><rect x="41.50" y="651.15" width="3.35" height="6.80" fill="#ff0000"/><rect x="44.80" y="651.15" width="3.35" height="6.80" fill="#00ff00"/><rect x="48.10" y="651.15" width="3.35" height="6.80" fill="#0000ff"/><rect x="51.40" y="651.15" width="3.35" height="6.80" fill="#e8ffff"/><rect x="54.70" y="651.15" width="3.35" height="6.80" fill="#a0a0a0"/><rect x="58.00" y="651.15" width="3.35" height="6.80" fill="#96c864"/><rect x="61.30" y="651.15" width="3.35" height="6.80" fill="#e8ffff"/><rect x="64.60" y="651.15" width="3.35" height="6.80" fill="#a0a0a0"/><rect x="67.90" y="651.15" width="3.35" height="6.80" fill="#c8ffff"/><rect x="11.80" y="657.90" width="3.35" height="6.80" fill="#40e0d0"/><rect x="15.10" y="657.90" width="3.35" height="6.80" fill="#40e0d0"/><rect x="18.40" y="657.90" width="3.35" height="6.80" fill="#0000ff"/><rect x="21.70" y="657.90" width="3.35" height="6.80" fill="#e62396"/><rect x="25.00" y="657.90" width="3.35" height="6.80" fill="#00ff00"/><rect x="28.30" y="657.90" width="3.35" height="6.80" fill="#96c864"/><rect x="31.60" y="657.90" width="3.35" height="6.80" fill="#ff0000"/><rect x="34.90" y="657.90" width="3.35" height="6.80" fill="#00ff00"/><rect x="38.20" y="657.90" width="3.35" height="6.80" fill="#ff0000"/><rect x="41.50" y="657.90" width="3.35" height="6.80" fill="#e8ffff"/><rect x="44.80" y="657.90" width="3.35" height="6.80" fill="#a0a0a0"/><rect x="48.10" y="657.90" width="3.35" height="6.80" fill="#00ff00"/><rect x="51.40" y="657.90" width="3.35" height="6.80" fill="#a0a0a0"/><rect x="54.70" y="657.90" width="3.35" height="6.80" fill="#a0a0a0"/><rect x="58.00" y="657.90" width="3.35" height="6.80" fill="#e62396"/><rect x="61.30" y="657.90" width="3.35" height="6.80" fill="#0000ff"/><rect x="64.60" y="657.90" width="3.35" height="6.80" fill="#ff0000"/><rect x="67.90" y="657.90" width="3.35" height="6.80" fill="#ff0000"/><rect x="11.80" y="664.65" width="3.35" height="6.80" fill="#40e0d0"/><rect x="15.10" y="664.65" width="3.35" height="6.80" fill="#00ff00"/><rect x="18.40" y="664.65" width="3.35" height="6.80" fill="#a0a0a0"/><rect x="21.70" y="664.65" width="3.35" height="6.80" fill="#00ff00"/><rect x="25.00" y="664.65" width="3.35" height="6.80" fill="#00ff00"/><rect x="28.30" y="664.65" width="3.35" height="6.80" fill="#c8ffff"/><rect x="31.60" y="664.65" width="3.35" height="6.80" fill="#0000ff"/><rect x="34.90" y="664.65" width="3.35" height="6.80" fill="#0000ff"/><rect x="38.20" y="664.65" width="3.35" height="6.80" fill="#ff0000"/><rect x="41.50" y="664.65" width="3.35" height="6.80" fill="#96c864"/><rect x="44.80" y="664.65" width="3.35" height="6.80" fill="#00ff00"/><rect x="48.10" y="664.65" width="3.35" height="6.80" fill="#0000ff"/><rect x="51.40" y="664.65" width="3.35" height="6.80" fill="#00ff00"/><rect x="54.70" y="664.65" width="3.35" height="6.80" fill="#ff0000"/><rect x="58.00" y="664.65" width="3.35" height="6.80" fill="#a0a0a0"/><rect x="61.30" y="664.65" width="3.35" height="6.80" fill="#00ff00"/><rect x="64.60" y="664.65" width="3.35" height="6.80" fill="#c8ffff"/><rect x="67.90" y="664.65" width="3.35" height="6.80" fill="#ff0000"/><rect x="11.80" y="671.40" width="3.35" height="6.80" fill="#a0a0a0"/><rect x="15.10" y="671.40" width="3.35" height="6.80" fill="#96c864"/><rect x="18.40" y="671.40" width="3.35" height="6.80" fill="#c8ffff"/><rect x="21.70" y="671.40" width="3.35" height="6.80" fill="#c8ffff"/><rect x="25.00" y="671.40" width="3.35" height="6.80" fill="#96c864"/><rect x="28.30" y="671.40" width="3.35" height="6.80" fill="#0000ff"/><rect x="31.60" y="671.40" width="3.35" height="6.80" fill="#00ff00"/><rect x="34.90" y="671.40" width="3.35" height="6.80" fill="#e62396"/><rect x="38.20" y="671.40" width="3.35" height="6.80" fill="#c8ffff"/><rect x="41.50" y="671.40" width="3.35" height="6.80" fill="#96c864"/><rect x="44.80" y="671.40" width="3.35" height="6.80" fill="#ff0000"/><rect x="48.10" y="671.40" width="3.35" height="6.80" fill="#e62396"/><rect x="51.40" y="671.40" width="3.35" height="6.80" fill="#e62396"/><rect x="54.70" y="671.40" width="3.35" height="6.80" fill="#a0a0a0"/><rect x="58.00" y="671.40" width="3.35" height="6.80" fill="#96c864"/><rect x="61.30" y="671.40" width="3.35" height="6.80" fill="#00ff00"/><rect x="64.60" y="671.40" width="3.35" height="6.80" fill="#c8ffff"/><rect x="67.90" y="671.40" width="3.35" height="6.80" fill="#e62396"/><rect x="11.80" y="678.15" width="3.35" height="6.80" fill="#00ff00"/><rect x="15.10" y="678.15" width="3.35" height="6.80" fill="#ff0000"/><rect x="18.40" y="678.15" width="3.35" height="6.80" fill="#96c864"/><rect x="21.70" y="678.15" width="3.35" height="6.80" fill="#ff0000"/><rect x="25.00" y="678.15" width="3.35" height="6.80" fill="#e62396"/><rect x="28.30" y="678.15" width="3.35" height="6.80" fill="#00ff00"/><rect x="31.60" y="678.15" width="3.35" height="6.80" fill="#0000ff"/><rect x="34.90" y="678.15" width="3.35" height="6.80" fill="#0000ff"/><rect x="38.20" y="678.15" width="3.35" height="6.80" fill="#a0a0a0"/><rect x="41.50" y="678.15" width="3.35" height="6.80" fill="#e8ffff"/><rect x="44.80" y="678.15" width="3.35" height="6.80" fill="#e62396"/><rect x="48.10" y="678.15" width="3.35" height="6.80" fill="#00ff00"/><rect x="51.40" y="678.15" width="3.35" height="6.80" fill="#00ff00"/><rect x="54.70" y="678.15" width="3.35" height="6.80" fill="#0000ff"/><rect x="58.00" y="678.15" width="3.35" height="6.80" fill="#96c864"/><rect x="61.30" y="678.15" width="3.35" height="6.80" fill="#e62396"/><rect x="64.60" y="678.15" width="3.35" height="6.80" fill="#ff0000"/><rect x="67.90" y="678.15" width="3.35" height="6.80" fill="#40e0d0"/><rect x="11.80" y="684.90" width="3.35" height="6.80" fill="#e62396"/><rect x="15.10" y="684.90" width="3.35" height="6.80" fill="#00ff00"/><rect x="18.40" y="684.90" width="3.35" height="6.80" fill="#40e0d0"/><rect x="21.70" y="684.90" width="3.35" height="6.80" fill="#e62396"/><rect x="25.00" y="684.90" width="3.35" height="6.80" fill="#e62396"/><rect x="28.30" y="684.90" width="3.35" height="6.80" fill="#e8ffff"/><rect x="31.60" y="684.90" width="3.35" height="6.80" fill="#e62396"/><rect x="34.90" y="684.90" width="3.35" height="6.80" fill="#00ff00"/><rect x="38.20" y="684.90" width="3.35" height="6.80" fill="#0000ff"/><rect x="41.50" y="684.90" width="3.35" height="6.80" fill="#00ff00"/><rect x="44.80" y="684.90" width="3.35" height="6.80" fill="#40e0d0"/><rect x="48.10" y="684.90" width="3.35" height="6.80" fill="#40e0d0"/><rect x="51.40" y="684.90" width="3.35" height="6.80" fill="#00ff00"/><rect x="54.70" y="684.90" width="3.35" height="6.80" fill="#e8ffff"/><rect x="58.00" y="684.90" width="3.35" height="6.80" fill="#a0a0a0"/><rect x="61.30" y="684.90" width="3.35" height="6.80" fill="#40e0d0"/><rect x="64.60" y="684.90" width="3.35" height="6.80" fill="#ff0000"/><rect x="67.90" y="684.90" width="3.35" height="6.80" fill="#00ff00"/><rect x="11.80" y="691.65" width="3.35" height="6.80" fill="#a0a0a0"/><rect x="15.10" y="691.65" width="3.35" height="6.80" fill="#0000ff"/><rect x="18.40" y="691.65" width="3.35" height="6.80" fill="#e8ffff"/><rect x="21.70" y="691.65" width="3.35" height="6.80" fill="#96c864"/><rect x="25.00" y="691.65" width="3.35" height="6.80" fill="#00ff00"/><rect x="28.30" y="691.65" width="3.35" height="6.80" fill="#e8ffff"/><rect x="31.60" y="691.65" width="3.35" height="6.80" fill="#a0a0a0"/><rect x="34.90" y="691.65" width="3.35" height="6.80" fill="#c8ffff"/><rect x="38.20" y="691.65" width="3.35" height="6.80" fill="#96c864"/><rect x="41.50" y="691.65" width="3.35" height="6.80" fill="#0000ff"/><rect x="44.80" y="691.65" width="3.35" height="6.80" fill="#a0a0a0"/><rect x="48.10" y="691.65" width="3.35" height="6.80" fill="#a0a0a0"/><rect x="51.40" y="691.65" width="3.35" height="6.80" fill="#a0a0a0"/><rect x="54.70" y="691.65" width="3.35" height="6.80" fill="#96c864"/><rect x="58.00" y="691.65" width="3.35" height="6.80" fill="#e62396"/><rect x="61.30" y="691.65" width="3.35" height="6.80" fill="#ff0000"/><rect x="64.60" y="691.65" width="3.35" height="6.80" fill="#00ff00"/><rect x="67.90" y="691.65" width="3.35" height="6.80" fill="#0000ff"/><rect x="11.80" y="698.40" width="3.35" height="6.80" fill="#00ff00"/><rect x="15.10" y="698.40" width="3.35" height="6.80" fill="#c8ffff"/><rect x="18.40" y="698.40" width="3.35" height="6.80" fill="#00ff00"/><rect x="21.70" y="698.40" width="3.35" height="6.80" fill="#ff0000"/><rect x="25.00" y="698.40" width="3.35" height="6.80" fill="#96c864"/><rect x="28.30" y="698.40" width="3.35" height="6.80" fill="#ff0000"/><rect x="31.60" y="698.40" width="3.35" height="6.80" fill="#0000ff"/><rect x="34.90" y="698.40" width="3.35" height="6.80" fill="#40e0d0"/><rect x="38.20" y="698.40" width="3.35" height="6.80" fill="#a0a0a0"/><rect x="41.50" y="698.40" width="3.35" height="6.80" fill="#a0a0a0"/><rect x="44.80" y="698.40" width="3.35" height="6.80" fill="#e8ffff"/><rect x="48.10" y="698.40" width="3.35" height="6.80" fill="#40e0d0"/><rect x="51.40" y="698.40" width="3.35" height="6.80" fill="#40e0d0"/><rect x="54.70" y="698.40" width="3.35" height="6.80" fill="#ff0000"/><rect x="58.00" y="698.40" width="3.35" height="6.80" fill="#96c864"/><rect x="61.30" y="698.40" width="3.35" height="6.80" fill="#e62396"/><rect x="64.60" y="698.40" width="3.35" height="6.80" fill="#0000ff"/><rect x="67.90" y="698.40" width="3.35" height="6.80" fill="#00ff00"/><rect x="11.80" y="705.15" width="3.35" height="6.80" fill="#c8ffff"/><rect x="15.10" y="705.15" width="3.35" height="6.80" fill="#e62396"/><rect x="18.40" y="705.15" width="3.35" height="6.80" fill="#96c864"/><rect x="21.70" y="705.15" width="3.35" height="6.80" fill="#0000ff"/><rect x="25.00" y="705.15" width="3.35" height="6.80" fill="#0000ff"/><rect x="28.30" y="705.15" width="3.35" height="6.80" fill="#ff0000"/><rect x="31.60" y="705.15" width="3.35" height="6.80" fill="#40e0d0"/><rect x="34.90" y="705.15" width="3.35" height="6.80" fill="#ff0000"/><rect x="38.20" y="705.15" width="3.35" height="6.80" fill="#c8ffff"/><rect x="41.50" y="705.15" width="3.35" height="6.80" fill="#e62396"/><rect x="44.80" y="705.15" width="3.35" height="6.80" fill="#a0a0a0"/><rect x="48.10" y="705.15" width="3.35" height="6.80" fill="#ff0000"/><rect x="51.40" y="705.15" width="3.35" height="6.80" fill="#0000ff"/><rect x="54.70" y="705.15" width="3.35" height="6.80" fill="#0000ff"/><rect x="58.00" y="705.15" width="3.35" height="6.80" fill="#a0a0a0"/><rect x="61.30" y="705.15" width="3.35" height="6.80" fill="#96c864"/><rect x="64.60" y="705.15" width="3.35" height="6.80" fill="#ff0000"/><rect x="67.90" y="705.15" width="3.35" height="6.80" fill="#e8ffff"/><rect x="11.80" y="711.90" width="3.35" height="6.80" fill="#a0a0a0"/><rect x="15.10" y="711.90" width="3.35" height="6.80" fill="#e62396"/><rect x="18.40" y="711.90" width="3.35" height="6.80" fill="#ff0000"/><rect x="21.70" y="711.90" width="3.35" height="6.80" fill="#ff0000"/><rect x="25.00" y="711.90" width="3.35" height="6.80" fill="#96c864"/><rect x="28.30" y="711.90" width="3.35" height="6.80" fill="#00ff00"/><rect x="31.60" y="711.90" width="3.35" height="6.80" fill="#0000ff"/><rect x="34.90" y="711.90" width="3.35" height="6.80" fill="#0000ff"/><rect x="38.20" y="711.90" width="3.35" height="6.80" fill="#a0a0a0"/><rect x="41.50" y="711.90" width="3.35" height="6.80" fill="#96c864"/><rect x="44.80" y="711.90" width="3.35" height="6.80" fill="#96c864"/><rect x="48.10" y="711.90" width="3.35" height="6.80" fill="#e8ffff"/><rect x="51.40" y="711.90" width="3.35" height="6.80" fill="#0000ff"/><rect x="54.70" y="711.90" width="3.35" height="6.80" fill="#ff0000"/><rect x="58.00" y="711.90" width="3.35" height="6.80" fill="#ff0000"/><rect x="61.30" y="711.90" width="3.35" height="6.80" fill="#c8ffff"/><rect x="64.60" y="711.90" width="3.35" height="6.80" fill="#e62396"/><rect x="67.90" y="711.90" width="3.35" height="6.80" fill="#c8ffff"/><rect x="11.80" y="718.65" width="3.35" height="6.80" fill="#00ff00"/><rect x="15.10" y="718.65" width="3.35" height="6.80" fill="#ff0000"/><rect x="18.40" y="718.65" width="3.35" height="6.80" fill="#ff0000"/><rect x="21.70" y="718.65" width="3.35" height="6.80" fill="#e8ffff"/><rect x="25.00" y="718.65" width="3.35" height="6.80" fill="#a0a0a0"/><rect x="28.30" y="718.65" width="3.35" height="6.80" fill="#96c864"/><rect x="31.60" y="718.65" width="3.35" height="6.80" fill="#e62396"/><rect x="34.90" y="718.65" width="3.35" height="6.80" fill="#e8ffff"/><rect x="38.20" y="718.65" width="3.35" height="6.80" fill="#96c864"/><rect x="41.50" y="718.65" width="3.35" height="6.80" fill="#0000ff"/><rect x="44.80" y="718.65" width="3.35" height="6.80" fill="#e8ffff"/><rect x="48.10" y="718.65" width="3.35" height="6.80" fill="#ff0000"/><rect x="51.40" y="718.65" width="3.35" height="6.80" fill="#e62396"/><rect x="54.70" y="718.65" width="3.35" height="6.80" fill="#e62396"/><rect x="58.00" y="718.65" width="3.35" height="6.80" fill="#ff0000"/><rect x="61.30" y="718.65" width="3.35" height="6.80" fill="#ff0000"/><rect x="64.60" y="718.65" width="3.35" height="6.80" fill="#e8ffff"/><rect x="67.90" y="718.65" width="3.35" height="6.80" fill="#00ff00"/><rect x="11.80" y="725.40" width="3.35" height="6.80" fill="#a0a0a0"/><rect x="15.10" y="725.40" width="3.35" height="6.80" fill="#00ff00"/><rect x="18.40" y="725.40" width="3.35" height="6.80" fill="#96c864"/><rect x="21.70" y="725.40" width="3.35" height="6.80" fill="#c8ffff"/><rect x="25.00" y="725.40" width="3.35" height="6.80" fill="#0000ff"/><rect x="28.30" y="725.40" width="3.35" height="6.80" fill="#ff0000"/><rect x="31.60" y="725.40" width="3.35" height="6.80" fill="#40e0d0"/><rect x="34.90" y="725.40" width="3.35" height="6.80" fill="#e62396"/><rect x="38.20" y="725.40" width="3.35" height="6.80" fill="#c8ffff"/><rect x="41.50" y="725.40" width="3.35" height="6.80" fill="#00ff00"/><rect x="44.80" y="725.40" width="3.35" height="6.80" fill="#0000ff"/><rect x="48.10" y="725.40" width="3.35" height="6.80" fill="#e8ffff"/><rect x="51.40" y="725.40" width="3.35" height="6.80" fill="#96c864"/><rect x="54.70" y="725.40" width="3.35" height="6.80" fill="#a0a0a0"/><rect x="58.00" y="725.40" width="3.35" height="6.80" fill="#00ff00"/><rect x="61.30" y="725.40" width="3.35" height="6.80" fill="#00ff00"/><rect x="64.60" y="725.40" width="3.35" height="6.80" fill="#00ff00"/><rect x="67.90" y="725.40" width="3.35" height="6.80" fill="#a0a0a0"/></g><rect x="86.5" y="392.5" width="456" height="342" fill="none" stroke="#111" stroke-width="1"/><line x1="147.0" y1="474.50" x2="497.5" y2="474.50" stroke="#ebebeb" stroke-width="1"/><line x1="147.0" y1="529.50" x2="497.5" y2="529.50" stroke="#ebebeb" stroke-width="1"/><line x1="147.0" y1="585.50" x2="497.5" y2="585.50" stroke="#ebebeb" stroke-width="1"/><line x1="147.0" y1="640.50" x2="497.5" y2="640.50" stroke="#ebebeb" stroke-width="1"/><line x1="217.10" y1="419.5" x2="217.10" y2="695.7" stroke="#e9e9e9" stroke-width="1"/><line x1="287.25" y1="419.5" x2="287.25" y2="695.7" stroke="#e9e9e9" stroke-width="1"/><line x1="357.40" y1="419.5" x2="357.40" y2="695.7" stroke="#e9e9e9" stroke-width="1"/><line x1="427.50" y1="419.5" x2="427.50" y2="695.7" stroke="#e9e9e9" stroke-width="1"/><path d="M147.00 523.30 L148.28 528.83 L150.20 536.30 L151.79 541.54 L153.60 547.07 L155.40 551.80 L157.10 555.65 L158.80 558.71 L160.50 560.20 L162.27 559.63 L164.06 557.48 L165.70 554.40 L167.73 547.83 L169.60 540.20 L171.47 533.21 L173.50 525.90 L175.14 520.33 L176.92 514.49 L178.70 509.10 L180.39 504.29 L182.08 499.93 L183.90 496.40 L185.41 494.46 L187.02 493.04 L188.66 492.00 L190.30 491.20 L191.89 490.64 L193.46 490.38 L195.08 490.37 L196.80 490.60 L198.24 490.91 L199.70 491.39 L201.23 491.98 L202.85 492.78 L204.60 493.81 L205.97 494.68 L207.46 495.72 L209.01 496.92 L210.59 498.26 L212.14 499.57 L213.63 500.64 L215.00 501.63 L216.73 502.86 L218.31 503.88 L219.81 504.86 L221.29 505.99 L222.80 507.24 L224.34 508.58 L225.88 509.94 L227.42 511.48 L228.96 513.32 L230.50 515.24 L232.04 517.74 L233.57 520.54 L235.12 523.25 L236.69 526.07 L238.30 528.45 L239.89 530.29 L241.74 532.59 L243.63 534.38 L245.28 535.82 L246.45 537.20 L246.90 537.71 L248.10 534.16 L249.30 530.82 L250.45 534.27 L251.60 537.41 L252.45 537.15 L254.39 536.53 L256.50 536.48 L258.01 537.16 L259.64 538.00 L261.30 539.03 L262.90 539.94 L264.43 541.48 L265.93 542.94 L267.39 544.53 L268.80 545.54 L270.53 545.70 L272.17 544.36 L273.90 542.65 L275.34 540.17 L276.84 537.15 L278.36 533.77 L279.80 530.86 L281.54 527.60 L283.20 524.72 L285.00 522.17 L286.48 521.05 L288.01 521.10 L289.67 520.91 L291.50 520.95 L292.84 521.27 L294.26 521.54 L295.76 521.61 L297.30 521.86 L298.89 521.91 L300.50 522.47 L301.91 523.24 L303.37 524.07 L304.86 524.50 L306.37 525.49 L307.89 525.98 L309.40 526.53 L310.90 527.38 L312.39 528.32 L313.87 528.74 L315.36 528.75 L316.85 529.39 L318.34 529.91 L319.82 530.41 L321.30 531.27 L322.80 531.63 L324.32 532.48 L325.85 533.27 L327.37 534.52 L328.84 535.01 L330.26 535.75 L331.60 536.56 L333.32 537.46 L334.90 538.96 L336.40 539.82 L337.88 540.29 L339.40 541.06 L340.96 541.68 L342.52 542.34 L344.08 542.94 L345.64 543.91 L347.20 544.24 L348.76 544.86 L350.32 545.40 L351.88 546.65 L353.44 547.21 L355.00 547.70 L356.52 548.25 L358.00 549.41 L359.50 550.42 L361.08 551.34 L362.80 552.45 L364.14 552.90 L365.56 553.54 L367.03 554.45 L368.55 555.28 L370.08 556.23 L371.60 557.36 L373.10 558.04 L374.58 559.06 L376.06 560.31 L377.55 560.85 L379.04 561.50 L380.53 562.14 L382.01 563.27 L383.50 563.91 L385.01 564.75 L386.55 565.07 L388.10 566.14 L389.63 566.88 L391.13 567.50 L392.56 568.02 L393.90 568.75 L395.59 569.06 L397.11 569.94 L398.55 570.52 L400.01 570.78 L401.60 571.05 L403.05 571.49 L404.58 572.05 L406.14 572.33 L407.71 572.26 L409.24 572.18 L410.70 572.80 L412.36 572.98 L413.98 573.54 L415.54 573.59 L417.04 573.91 L418.50 574.30 L420.15 574.27 L421.64 574.80 L423.19 575.12 L425.00 575.82 L426.44 575.79 L428.04 576.02 L429.73 576.56 L431.41 577.13 L433.03 577.32 L434.50 577.45 L436.38 578.15 L438.04 578.81 L439.65 579.84 L441.40 580.64 L442.94 581.10 L444.55 581.30 L446.20 581.66 L447.85 582.23 L449.50 582.95 L451.13 583.68 L452.77 584.09 L454.42 584.77 L456.06 585.58 L457.70 585.91 L459.34 586.72 L460.98 587.50 L462.62 587.76 L464.26 588.43 L465.90 588.81 L467.52 589.83 L469.12 590.25 L470.73 590.88 L472.38 591.44 L474.10 592.37 L475.67 592.95 L477.37 594.04 L479.11 594.52 L480.79 595.25 L482.31 595.97 L483.60 596.24 L485.69 595.88 L487.70 595.86 L489.01 596.17 L490.64 597.15 L492.41 598.45 L494.11 599.61 L495.58 600.64 L496.60 600.95" fill="none" stroke="#00ff00" stroke-width="2.3" stroke-linejoin="round" stroke-linecap="round"/><path d="M147.00 528.50 L148.28 533.30 L150.20 540.20 L151.79 545.76 L153.60 551.88 L155.40 557.00 L157.10 560.80 L158.80 563.59 L160.50 564.80 L162.27 563.93 L164.06 561.48 L165.70 558.30 L167.73 552.36 L169.60 545.30 L171.47 537.79 L173.50 529.80 L175.14 524.05 L176.92 518.15 L178.70 513.00 L180.39 508.96 L182.08 505.66 L183.90 502.90 L185.47 501.16 L187.18 499.73 L188.85 498.59 L190.30 497.70 L192.08 496.65 L194.20 496.70 L195.39 496.96 L196.75 497.31 L198.26 497.79 L199.88 498.45 L201.57 499.24 L203.30 500.28 L204.66 501.25 L206.13 502.37 L207.67 503.70 L209.23 505.05 L210.78 506.52 L212.29 507.88 L213.71 509.07 L215.00 510.17 L216.81 511.67 L218.41 513.01 L219.87 514.09 L221.31 515.25 L222.80 516.54 L224.34 517.68 L225.88 518.95 L227.42 520.37 L228.96 522.09 L230.50 524.01 L232.04 525.95 L233.57 528.51 L235.12 531.07 L236.69 533.52 L238.30 535.98 L239.89 538.55 L241.74 541.32 L243.63 544.17 L245.28 546.51 L246.45 548.18 L246.90 548.73 L248.10 544.99 L249.30 541.40 L250.45 544.90 L251.60 548.33 L252.45 548.00 L254.39 547.62 L256.50 547.70 L258.01 548.22 L259.64 549.26 L261.30 550.52 L262.90 551.09 L264.43 552.37 L265.93 553.93 L267.39 554.85 L268.80 555.93 L270.53 556.35 L272.17 555.97 L273.90 553.97 L275.34 551.15 L276.84 548.14 L278.36 544.29 L279.80 541.55 L281.54 537.80 L283.20 534.16 L285.00 531.42 L286.48 530.15 L288.01 529.55 L289.67 529.47 L291.50 529.74 L292.84 529.90 L294.26 529.75 L295.76 529.66 L297.30 529.87 L298.89 530.08 L300.50 530.20 L301.91 531.03 L303.37 531.23 L304.86 531.57 L306.37 531.94 L307.89 532.78 L309.40 533.40 L310.90 533.64 L312.39 533.78 L313.87 534.36 L315.36 534.58 L316.85 534.42 L318.34 534.90 L319.82 535.24 L321.30 535.54 L322.80 535.70 L324.32 536.06 L325.85 536.59 L327.37 537.24 L328.84 537.58 L330.26 538.30 L331.60 539.04 L333.32 539.44 L334.90 540.47 L336.40 540.93 L337.88 542.14 L339.40 542.80 L340.96 543.19 L342.52 544.04 L344.08 544.08 L345.64 544.58 L347.20 544.96 L348.76 545.45 L350.32 546.24 L351.88 546.76 L353.44 547.39 L355.00 548.43 L356.52 549.16 L358.00 549.62 L359.50 550.31 L361.08 551.27 L362.80 552.50 L364.14 553.28 L365.56 554.04 L367.03 555.10 L368.55 555.69 L370.08 556.49 L371.60 558.00 L373.10 558.91 L374.58 559.51 L376.06 560.20 L377.55 561.39 L379.04 562.27 L380.53 562.88 L382.01 563.10 L383.50 563.77 L385.01 564.56 L386.55 565.17 L388.10 566.25 L389.63 566.86 L391.13 567.36 L392.56 567.79 L393.90 568.19 L395.59 569.02 L397.11 569.58 L398.55 570.54 L400.01 571.03 L401.60 571.31 L403.05 571.81 L404.58 572.20 L406.14 572.14 L407.71 572.32 L409.24 572.63 L410.70 572.62 L412.36 572.92 L413.98 573.67 L415.54 573.76 L417.04 574.15 L418.50 574.31 L420.15 574.95 L421.64 575.33 L423.19 575.59 L425.00 575.96 L426.44 576.56 L428.04 576.70 L429.73 576.83 L431.41 577.30 L433.03 577.26 L434.50 577.50 L436.38 578.10 L438.04 579.04 L439.65 579.62 L441.40 580.32 L442.94 581.04 L444.55 581.32 L446.20 581.46 L447.85 582.31 L449.50 582.67 L451.13 583.23 L452.77 583.64 L454.42 584.63 L456.06 585.24 L457.70 585.76 L459.34 586.26 L460.98 587.12 L462.62 587.78 L464.26 588.49 L465.90 589.51 L467.52 589.83 L469.12 590.65 L470.73 591.27 L472.38 591.76 L474.10 592.69 L475.67 593.03 L477.37 594.15 L479.11 595.19 L480.79 595.66 L482.31 596.01 L483.60 596.61 L485.69 595.88 L487.70 595.71 L489.01 596.91 L490.64 597.99 L492.41 599.63 L494.11 600.71 L495.58 602.12 L496.60 603.14" fill="none" stroke="#ff0000" stroke-width="2.3" stroke-linejoin="round" stroke-linecap="round"/><path d="M147.00 537.60 L148.28 542.99 L150.20 550.50 L151.79 556.13 L153.60 562.20 L155.40 567.40 L157.10 571.56 L158.80 574.83 L160.50 576.40 L162.23 575.84 L163.96 573.58 L165.70 570.00 L167.43 564.85 L169.17 558.39 L170.90 551.80 L172.63 545.28 L174.37 538.63 L176.10 532.40 L177.79 526.67 L179.48 521.37 L181.30 516.80 L182.81 513.97 L184.42 511.57 L186.06 509.54 L187.70 507.80 L189.26 506.31 L190.78 505.12 L192.39 504.30 L194.20 503.90 L195.54 503.90 L196.94 504.10 L198.42 504.49 L199.98 505.04 L201.60 505.70 L203.30 506.50 L204.66 507.25 L206.13 508.10 L207.67 509.02 L209.23 510.06 L210.78 511.14 L212.29 512.16 L213.71 513.20 L215.00 513.97 L216.81 515.09 L218.41 515.97 L219.87 516.89 L221.31 517.89 L222.80 518.85 L224.34 519.87 L225.88 520.86 L227.42 521.91 L228.96 523.30 L230.50 525.07 L232.04 527.05 L233.57 529.10 L235.12 531.63 L236.69 533.76 L238.30 536.21 L239.89 538.59 L241.74 541.18 L243.63 544.24 L245.28 546.84 L246.45 548.56 L246.90 549.37 L248.10 545.54 L249.30 541.77 L250.45 544.99 L251.60 548.29 L252.45 547.95 L254.39 547.52 L256.50 547.85 L258.01 548.51 L259.64 549.15 L261.30 550.30 L262.90 550.98 L264.43 552.39 L265.93 554.33 L267.39 555.92 L268.80 556.73 L270.53 556.94 L272.17 556.49 L273.90 554.38 L275.34 552.56 L276.84 549.98 L278.36 546.63 L279.80 543.88 L281.54 540.97 L283.20 537.94 L285.00 535.87 L286.48 535.11 L288.01 534.55 L289.67 534.17 L291.50 533.96 L292.84 533.88 L294.26 534.17 L295.76 534.51 L297.30 534.84 L298.89 535.18 L300.50 535.28 L301.91 535.61 L303.37 536.11 L304.86 537.28 L306.37 538.12 L307.89 538.59 L309.40 539.72 L310.90 540.15 L312.39 540.65 L313.87 541.51 L315.36 541.88 L316.85 542.39 L318.34 542.89 L319.82 543.56 L321.30 544.07 L322.80 544.88 L324.32 545.43 L325.85 546.39 L327.37 546.91 L328.84 547.64 L330.26 548.04 L331.60 549.11 L333.32 550.27 L334.90 550.91 L336.40 551.99 L337.88 552.58 L339.40 553.51 L340.96 554.58 L342.52 554.81 L344.08 555.39 L345.64 555.79 L347.20 556.43 L348.76 557.33 L350.32 558.15 L351.88 559.33 L353.44 560.68 L355.00 561.26 L356.52 561.74 L358.00 562.60 L359.50 563.25 L361.08 564.04 L362.80 565.03 L364.14 565.50 L365.56 566.86 L367.03 568.01 L368.55 568.63 L370.08 569.77 L371.60 570.51 L373.10 571.59 L374.58 572.39 L376.06 573.18 L377.55 573.77 L379.04 574.32 L380.53 575.10 L382.01 575.79 L383.50 576.66 L385.01 577.43 L386.55 578.24 L388.10 579.23 L389.63 579.91 L391.13 580.26 L392.56 581.10 L393.90 581.35 L395.59 582.42 L397.11 583.18 L398.55 583.95 L400.01 584.43 L401.60 584.67 L403.05 585.28 L404.58 585.26 L406.14 585.20 L407.71 585.88 L409.24 586.19 L410.70 586.47 L412.36 586.20 L413.98 586.54 L415.54 586.43 L417.04 586.58 L418.50 586.91 L420.18 586.99 L421.73 586.94 L423.29 587.01 L425.00 587.37 L426.40 588.03 L427.77 587.90 L429.26 588.12 L431.01 588.64 L433.20 589.28 L434.38 589.76 L435.67 590.14 L437.06 590.81 L438.53 591.08 L440.06 591.34 L441.63 591.86 L443.22 592.08 L444.83 592.99 L446.42 593.75 L447.98 594.10 L449.50 594.45 L450.99 594.73 L452.48 595.82 L453.97 596.30 L455.46 597.12 L456.95 597.17 L458.44 597.98 L459.93 598.46 L461.42 598.81 L462.92 599.24 L464.41 599.85 L465.90 600.30 L467.43 601.15 L469.03 602.03 L470.67 602.88 L472.33 603.84 L473.97 604.57 L475.59 605.13 L477.15 605.94 L478.62 606.62 L479.99 607.01 L481.22 607.25 L482.30 607.30 L484.79 607.32 L486.05 606.52 L487.70 606.83 L489.08 607.51 L490.74 608.46 L492.49 609.43 L494.16 610.66 L495.59 612.34 L496.60 613.02" fill="none" stroke="#738e8e" stroke-width="2.3" stroke-linejoin="round" stroke-linecap="round"/><path d="M147.00 559.60 L148.28 563.75 L150.20 570.00 L151.81 575.39 L153.64 581.49 L155.40 586.80 L156.90 591.23 L158.33 594.87 L159.90 596.50 L161.27 595.96 L162.76 594.20 L164.26 591.49 L165.70 588.10 L167.48 582.26 L169.19 575.05 L170.90 567.40 L172.63 559.31 L174.37 550.79 L176.10 542.70 L177.79 535.12 L179.48 527.98 L181.30 522.00 L182.81 518.51 L184.42 515.72 L186.06 513.49 L187.70 511.70 L189.26 510.37 L190.78 509.54 L192.39 509.15 L194.20 509.10 L195.54 509.24 L196.94 509.53 L198.42 509.99 L199.98 510.61 L201.60 511.46 L203.30 512.52 L204.66 513.53 L206.13 514.74 L207.67 516.08 L209.23 517.55 L210.78 519.07 L212.29 520.41 L213.71 521.79 L215.00 522.83 L216.81 524.01 L218.41 524.91 L219.87 525.81 L221.31 526.80 L222.80 527.80 L224.34 528.89 L225.88 530.15 L227.42 531.37 L228.96 533.12 L230.50 535.13 L232.04 537.59 L233.57 540.36 L235.12 543.19 L236.69 546.31 L238.30 549.30 L239.89 551.84 L241.74 554.85 L243.63 557.76 L245.28 560.27 L246.45 561.77 L246.90 562.05 L248.10 560.96 L249.30 559.59 L250.45 560.65 L251.60 561.41 L252.45 560.65 L254.39 559.35 L256.50 558.51 L258.01 559.30 L259.64 560.00 L261.30 560.69 L262.90 562.14 L264.43 563.49 L265.93 565.79 L267.39 567.47 L268.80 568.52 L270.53 568.31 L272.17 567.78 L273.90 565.11 L275.34 562.38 L276.84 558.60 L278.36 554.11 L279.80 550.08 L281.54 546.18 L283.20 541.95 L285.00 539.10 L286.56 537.81 L288.25 537.23 L289.94 536.82 L291.50 536.39 L293.38 536.62 L295.12 536.81 L296.70 537.02 L298.27 536.36 L300.50 535.42 L301.64 535.66 L302.99 536.20 L304.50 536.03 L306.10 536.44 L307.74 537.05 L309.36 537.19 L310.90 537.15 L312.39 537.64 L313.87 537.99 L315.36 537.95 L316.85 538.12 L318.34 538.55 L319.82 538.63 L321.30 538.63 L322.80 539.05 L324.32 539.61 L325.85 539.61 L327.37 540.09 L328.84 540.25 L330.26 540.51 L331.60 541.08 L333.32 541.81 L334.90 542.82 L336.40 543.72 L337.88 544.37 L339.40 544.98 L340.96 545.60 L342.52 546.13 L344.08 546.48 L345.64 546.48 L347.20 547.14 L348.76 547.46 L350.32 548.55 L351.88 549.17 L353.44 550.18 L355.00 551.18 L356.52 551.99 L358.00 552.39 L359.50 552.89 L361.08 553.77 L362.80 554.95 L364.14 555.58 L365.56 556.53 L367.03 557.45 L368.55 557.99 L370.08 559.07 L371.60 560.04 L373.10 560.95 L374.58 561.66 L376.06 562.58 L377.55 563.45 L379.04 564.31 L380.53 565.03 L382.01 565.82 L383.50 566.34 L385.01 566.48 L386.55 567.15 L388.10 568.07 L389.63 568.90 L391.13 569.32 L392.56 570.12 L393.90 570.22 L395.59 571.32 L397.11 572.31 L398.55 572.96 L400.01 573.44 L401.60 573.88 L403.05 574.36 L404.58 575.13 L406.14 575.35 L407.71 575.43 L409.24 575.84 L410.70 575.86 L412.36 576.54 L413.98 576.76 L415.54 576.98 L417.04 577.59 L418.50 577.49 L420.15 578.09 L421.64 578.39 L423.19 578.70 L425.00 578.59 L426.44 578.72 L428.04 579.34 L429.73 579.66 L431.41 580.30 L433.03 580.63 L434.50 580.88 L436.38 581.04 L438.04 581.65 L439.65 582.17 L441.40 582.73 L442.94 583.58 L444.55 584.38 L446.20 585.34 L447.85 585.52 L449.50 586.01 L451.13 586.91 L452.77 587.49 L454.42 587.87 L456.06 588.45 L457.70 589.29 L459.34 589.80 L460.98 590.36 L462.62 591.54 L464.26 592.25 L465.90 593.19 L467.52 593.84 L469.12 594.13 L470.73 594.88 L472.38 595.73 L474.10 596.82 L475.67 597.84 L477.37 598.46 L479.11 599.44 L480.79 600.84 L482.31 601.23 L483.60 602.09 L485.69 601.37 L487.70 600.85 L489.01 601.23 L490.64 602.32 L492.41 603.77 L494.11 604.87 L495.58 605.87 L496.60 606.63" fill="none" stroke="#e20c9c" stroke-width="2.3" stroke-linejoin="round" stroke-linecap="round"/><path d="M147.00 500.30 L148.28 503.08 L150.20 507.80 L151.79 512.59 L153.60 518.27 L155.40 523.30 L157.10 527.54 L158.80 531.13 L160.50 533.00 L162.30 532.43 L164.10 530.14 L165.70 527.20 L167.56 521.51 L169.00 515.50 L169.99 510.65 L170.90 507.10 L172.16 506.76 L173.50 505.80 L174.64 499.79 L176.10 492.50 L177.60 488.25 L179.38 484.19 L181.30 480.90 L182.78 479.19 L184.34 477.98 L185.97 477.08 L187.70 476.30 L189.17 475.73 L190.72 475.26 L192.31 474.92 L193.92 474.72 L195.50 474.70 L197.00 474.82 L198.43 475.04 L199.90 475.42 L201.49 476.07 L203.30 476.99 L204.60 477.79 L206.04 478.79 L207.57 479.86 L209.15 481.02 L210.73 482.16 L212.26 483.38 L213.70 484.50 L215.00 485.47 L216.81 486.84 L218.41 487.96 L219.87 489.06 L221.31 490.32 L222.80 491.54 L224.34 493.04 L225.88 494.64 L227.42 496.44 L228.96 498.24 L230.50 500.20 L232.04 502.01 L233.57 504.08 L235.12 506.35 L236.69 508.18 L238.30 510.45 L239.89 512.15 L241.74 514.15 L243.63 516.32 L245.28 517.83 L246.45 519.14 L246.90 519.32 L248.10 513.51 L249.30 507.56 L250.45 513.47 L251.60 519.21 L252.45 518.80 L254.39 518.71 L256.50 518.57 L258.01 519.06 L259.64 519.75 L261.30 520.78 L262.90 521.56 L264.43 522.93 L265.93 524.84 L267.39 525.84 L268.80 526.67 L270.53 526.21 L272.17 524.97 L273.90 523.18 L275.34 521.89 L276.84 519.35 L278.36 517.07 L279.80 515.53 L281.59 513.42 L283.29 511.01 L285.00 509.11 L286.59 508.16 L288.19 508.12 L290.20 508.44 L291.45 508.44 L292.82 508.64 L294.29 508.91 L295.86 509.52 L297.50 509.98 L299.20 510.81 L300.52 511.21 L301.90 511.64 L303.33 512.65 L304.80 513.48 L306.30 514.09 L307.82 515.15 L309.36 516.00 L310.90 516.37 L312.30 516.75 L313.75 517.42 L315.24 518.42 L316.74 519.14 L318.24 520.31 L319.72 520.98 L321.17 521.85 L322.57 522.71 L323.90 522.88 L325.52 523.64 L327.07 524.33 L328.57 525.27 L330.01 526.27 L331.42 526.92 L332.82 527.17 L334.20 528.29 L335.76 529.10 L337.23 530.10 L338.66 530.92 L340.12 531.30 L341.65 532.36 L343.30 533.07 L344.66 534.03 L346.13 534.59 L347.67 535.46 L349.23 536.33 L350.78 536.63 L352.29 537.82 L353.71 538.10 L355.00 538.62 L356.77 540.04 L358.28 540.90 L359.69 542.09 L361.14 543.16 L362.80 544.34 L364.14 545.48 L365.56 546.51 L367.03 547.11 L368.55 548.06 L370.08 549.30 L371.60 550.35 L373.10 550.89 L374.58 551.66 L376.06 552.07 L377.55 552.57 L379.04 553.14 L380.53 553.97 L382.01 554.92 L383.50 555.77 L385.01 556.44 L386.55 556.89 L388.10 557.26 L389.63 558.11 L391.13 559.00 L392.56 559.18 L393.90 560.24 L395.59 560.87 L397.11 561.90 L398.55 562.44 L400.01 563.37 L401.60 564.21 L403.05 564.55 L404.58 564.44 L406.14 564.81 L407.71 564.74 L409.24 564.38 L410.70 564.50 L412.36 564.95 L413.98 564.78 L415.54 565.26 L417.04 565.71 L418.50 566.14 L420.15 566.26 L421.64 566.56 L423.19 567.21 L425.00 567.22 L426.44 567.81 L428.04 568.27 L429.73 568.25 L431.41 568.14 L433.03 568.33 L434.50 569.00 L436.38 569.45 L438.04 570.14 L439.65 570.47 L441.40 571.20 L442.94 571.89 L444.55 572.21 L446.20 573.16 L447.85 573.70 L449.50 574.60 L451.13 575.34 L452.77 575.76 L454.42 576.31 L456.06 577.16 L457.70 577.92 L459.34 578.41 L460.98 579.07 L462.62 579.37 L464.26 579.56 L465.90 580.67 L467.52 581.34 L469.12 581.79 L470.73 582.62 L472.38 583.26 L474.10 583.70 L475.67 584.41 L477.37 585.00 L479.11 586.08 L480.79 586.96 L482.31 587.74 L483.60 587.93 L485.69 587.86 L487.70 587.21 L489.01 587.96 L490.64 588.71 L492.41 590.26 L494.11 591.02 L495.58 592.09 L496.60 592.76" fill="none" stroke="#2aefb8" stroke-width="2.3" stroke-linejoin="round" stroke-linecap="round"/><path d="M147.00 464.70 L148.28 469.88 L150.20 477.00 L151.79 482.29 L153.60 487.93 L155.40 492.50 L157.10 495.61 L158.80 497.66 L160.50 498.40 L162.23 497.52 L163.96 495.33 L165.70 492.50 L167.43 489.25 L169.17 485.37 L170.90 480.90 L172.63 475.61 L174.37 469.73 L176.10 464.00 L177.83 458.37 L179.57 452.90 L181.30 448.50 L182.99 445.71 L184.68 444.01 L186.50 442.70 L187.98 441.81 L189.54 441.14 L191.17 440.71 L192.90 440.50 L194.37 440.51 L195.92 440.68 L197.51 441.01 L199.12 441.45 L200.70 442.01 L202.28 442.68 L203.88 443.53 L205.47 444.51 L207.02 445.51 L208.50 446.66 L210.19 448.22 L211.75 449.90 L213.31 451.56 L215.00 453.10 L216.48 454.13 L218.03 454.86 L219.62 455.79 L221.23 456.56 L222.80 457.62 L224.34 459.01 L225.88 460.67 L227.42 462.50 L228.96 464.30 L230.50 466.35 L232.04 468.61 L233.57 471.35 L235.12 473.88 L236.69 476.46 L238.30 478.91 L239.89 481.12 L241.74 483.15 L243.63 485.41 L245.28 487.25 L246.45 488.41 L246.90 488.64 L248.10 488.26 L249.30 487.66 L250.45 488.12 L251.60 488.43 L252.45 488.88 L254.39 489.26 L256.50 489.68 L257.99 490.01 L259.60 490.55 L261.26 491.28 L262.90 492.79 L264.55 494.08 L266.22 495.76 L267.86 497.49 L269.40 498.14 L271.23 498.49 L272.91 497.51 L274.60 495.90 L276.33 493.69 L278.07 490.60 L279.80 487.10 L281.53 484.14 L283.27 481.32 L285.00 479.73 L286.59 478.53 L288.19 478.15 L290.20 478.50 L291.45 478.35 L292.82 478.74 L294.29 479.04 L295.86 479.51 L297.50 479.86 L299.20 480.33 L300.52 480.77 L301.90 480.87 L303.33 481.44 L304.80 482.06 L306.30 482.82 L307.82 483.34 L309.36 483.71 L310.90 484.57 L312.30 485.00 L313.75 485.64 L315.24 486.39 L316.74 487.02 L318.24 487.90 L319.72 488.64 L321.17 489.41 L322.57 489.98 L323.90 490.70 L325.52 491.52 L327.07 492.26 L328.57 493.03 L330.01 493.64 L331.42 494.22 L332.82 494.99 L334.20 495.80 L335.76 496.55 L337.23 497.46 L338.66 498.53 L340.12 498.89 L341.65 499.71 L343.30 500.95 L344.66 501.35 L346.13 502.19 L347.67 503.17 L349.23 504.43 L350.78 505.43 L352.29 506.34 L353.71 507.11 L355.00 508.02 L356.77 508.51 L358.28 509.67 L359.69 510.02 L361.14 510.72 L362.80 512.22 L364.14 513.40 L365.56 514.48 L367.03 515.83 L368.55 516.81 L370.08 517.99 L371.60 518.71 L373.10 520.10 L374.58 520.75 L376.06 521.41 L377.55 522.17 L379.04 523.02 L380.53 523.73 L382.01 524.65 L383.50 524.91 L385.01 525.87 L386.55 526.61 L388.10 527.18 L389.63 527.63 L391.13 528.61 L392.56 529.06 L393.90 529.36 L395.59 530.17 L397.11 531.29 L398.55 531.48 L400.01 532.47 L401.60 532.57 L403.05 533.04 L404.58 533.32 L406.14 534.06 L407.71 534.65 L409.24 534.99 L410.70 535.10 L412.36 534.93 L413.98 535.02 L415.54 535.39 L417.04 535.84 L418.50 536.33 L420.18 536.60 L421.73 537.05 L423.29 538.10 L425.00 538.56 L426.53 538.87 L428.16 538.96 L429.84 539.53 L431.53 539.87 L433.20 540.28 L434.84 540.72 L436.48 541.06 L438.13 541.55 L439.77 542.58 L441.40 543.05 L443.02 543.81 L444.64 544.39 L446.26 544.67 L447.88 545.18 L449.50 545.54 L451.13 545.90 L452.77 546.53 L454.42 547.30 L456.06 547.94 L457.70 549.21 L459.34 549.61 L460.98 550.26 L462.62 550.92 L464.26 551.77 L465.90 552.45 L467.54 553.05 L469.18 554.13 L470.82 554.90 L472.46 555.66 L474.10 556.06 L475.78 556.69 L477.51 557.65 L479.22 558.69 L480.84 559.69 L482.30 560.41 L484.18 560.88 L485.74 560.80 L487.70 561.17 L489.08 561.92 L490.74 562.48 L492.49 563.22 L494.16 564.69 L495.59 565.56 L496.60 566.16" fill="none" stroke="#bafffd" stroke-width="2.2" stroke-linejoin="round" stroke-linecap="round"/><line x1="147.0" y1="419.5" x2="497.5" y2="419.5" stroke="#888" stroke-width="1.1"/><line x1="147.0" y1="695.7" x2="497.5" y2="695.7" stroke="#8a8a8a" stroke-width="1.8"/><line x1="497.5" y1="419.5" x2="497.5" y2="695.7" stroke="#6a6a6a" stroke-width="1.3"/><line x1="147.0" y1="419.5" x2="147.0" y2="695.7" stroke="#8a8a8a" stroke-width="1.8"/><line x1="147.0" y1="474.50" x2="151.0" y2="474.50" stroke="#777" stroke-width="1"/><line x1="497.5" y1="474.50" x2="493.5" y2="474.50" stroke="#777" stroke-width="1"/><line x1="147.0" y1="529.50" x2="151.0" y2="529.50" stroke="#777" stroke-width="1"/><line x1="497.5" y1="529.50" x2="493.5" y2="529.50" stroke="#777" stroke-width="1"/><line x1="147.0" y1="585.50" x2="151.0" y2="585.50" stroke="#777" stroke-width="1"/><line x1="497.5" y1="585.50" x2="493.5" y2="585.50" stroke="#777" stroke-width="1"/><line x1="147.0" y1="640.50" x2="151.0" y2="640.50" stroke="#777" stroke-width="1"/><line x1="497.5" y1="640.50" x2="493.5" y2="640.50" stroke="#777" stroke-width="1"/><line x1="217.10" y1="695.7" x2="217.10" y2="691.7" stroke="#999" stroke-width="1.4"/><line x1="217.10" y1="419.5" x2="217.10" y2="423.5" stroke="#b0b0b0" stroke-width="1.3"/><line x1="287.25" y1="695.7" x2="287.25" y2="691.7" stroke="#999" stroke-width="1.4"/><line x1="287.25" y1="419.5" x2="287.25" y2="423.5" stroke="#b0b0b0" stroke-width="1.3"/><line x1="357.40" y1="695.7" x2="357.40" y2="691.7" stroke="#999" stroke-width="1.4"/><line x1="357.40" y1="419.5" x2="357.40" y2="423.5" stroke="#b0b0b0" stroke-width="1.3"/><line x1="427.50" y1="695.7" x2="427.50" y2="691.7" stroke="#999" stroke-width="1.4"/><line x1="427.50" y1="419.5" x2="427.50" y2="423.5" stroke="#b0b0b0" stroke-width="1.3"/><text x="141" y="425.60" text-anchor="end" class="tk">0.7</text><text x="141" y="479.05" text-anchor="end" class="tk">0.65</text><text x="141" y="532.50" text-anchor="end" class="tk">0.6</text><text x="141" y="585.95" text-anchor="end" class="tk">0.55</text><text x="141" y="639.40" text-anchor="end" class="tk">0.5</text><text x="141" y="692.85" text-anchor="end" class="tk">0.45</text><text x="147.30" y="711.30" text-anchor="middle" class="tk">400</text><text x="217.30" y="711.30" text-anchor="middle" class="tk">500</text><text x="287.30" y="711.30" text-anchor="middle" class="tk">600</text><text x="357.30" y="711.30" text-anchor="middle" class="tk">700</text><text x="427.30" y="711.30" text-anchor="middle" class="tk">800</text><text x="497.30" y="711.30" text-anchor="middle" class="tk">900</text><text x="322" y="729.40" text-anchor="middle" class="ax">Wavelength [nm]</text><text transform="translate(105,552.90) rotate(-90)" text-anchor="middle" class="ax">Reflectance</text><text x="322" y="413.30" text-anchor="middle" class="ti">Spectral signatures</text><text x="281.2" y="760.00" text-anchor="middle" class="lb">(b)</text>
</svg>
</body></html>
